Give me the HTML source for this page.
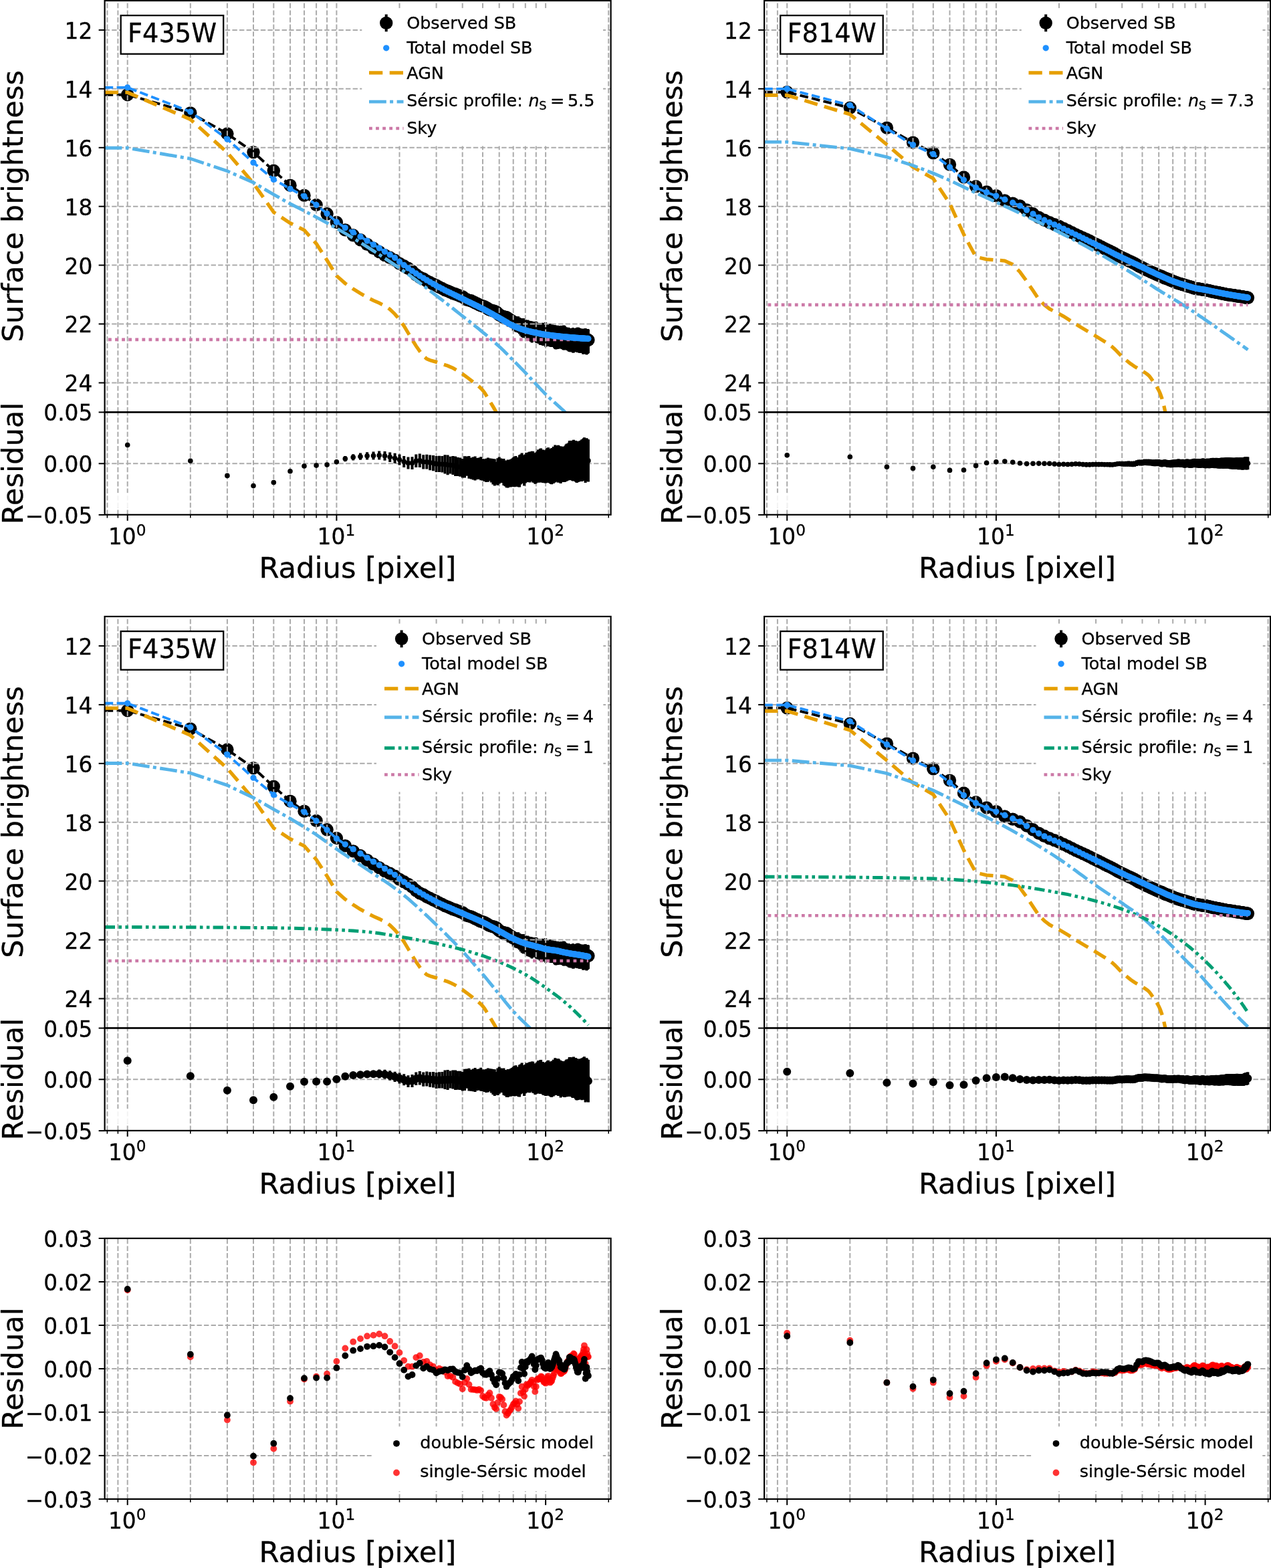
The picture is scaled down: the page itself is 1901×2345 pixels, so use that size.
<!DOCTYPE html>
<html><head><meta charset="utf-8"><title>Surface brightness profiles</title>
<style>html,body{margin:0;padding:0;background:#fff}svg{display:block}text{font-family:'DejaVu Sans','Liberation Sans',sans-serif;fill:#000;stroke:#000;stroke-width:0.3px}</style>
</head><body>
<svg width="1901" height="2345" viewBox="0 0 1901 2345">
<rect width="1901" height="2345" fill="#fff"/>
<clipPath id="c0_0"><rect x="156.6" y="1.0" width="757.0" height="615.5"/></clipPath>
<clipPath id="c0_0r"><rect x="156.6" y="616.4" width="757.0" height="153.4"/></clipPath>
<g clip-path="url(#c0_0)">
<polyline points="156.6,141.7 190.7,141.7 284.8,168.9 339.9,200.0 379.0,227.6 409.3,255.3 434.0,277.2 455.0,292.2 473.1,306.5 489.1,319.8 503.4,332.5 516.3,343.9 528.2,351.8 539.0,358.7 549.1,365.4 558.5,371.3 567.2,376.6 575.5,381.6 583.2,385.3 590.6,389.1 597.5,394.1 604.2,397.8 610.5,401.3 616.5,405.5 622.3,410.8 627.8,414.6 633.2,416.9 638.3,420.1 643.2,422.5 648.0,424.9 652.6,426.9 657.0,429.4 661.4,431.5 665.5,433.6 669.6,435.1 673.5,436.9 677.4,438.6 681.1,439.8 684.7,441.2 688.2,442.7 691.7,443.6 695.0,446.2 698.3,448.3 701.5,449.1 704.6,449.8 707.7,451.4 710.6,452.8 713.6,454.1 716.4,455.6 719.2,457.0 722.0,457.6 724.7,458.7 727.3,460.1 729.9,461.8 732.4,463.4 734.9,464.1 737.4,464.7 739.8,465.5 742.1,466.4 744.4,468.7 746.7,470.9 749.0,472.0 751.2,473.1 753.4,473.6 755.5,474.1 757.6,474.7 759.7,476.2 761.7,477.6 763.7,478.8 765.7,480.2 767.7,481.5 769.6,482.6 771.5,483.7 773.4,484.0 775.2,484.2 777.0,486.0 778.8,487.8 780.6,489.4 782.4,489.0 784.1,488.8 785.8,490.5 787.5,491.8 789.1,492.2 790.8,492.9 792.4,493.4 794.0,494.0 795.6,494.8 797.2,494.6 798.7,494.3 800.3,493.8 801.8,494.9 803.3,496.1 804.8,496.7 806.2,497.1 807.7,497.6 809.1,498.1 810.6,498.2 812.0,498.0 813.4,498.0 814.7,498.2 816.1,498.4 817.5,499.3 818.8,499.7 820.1,500.0 821.4,499.7 822.7,499.4 824.0,499.7 825.3,500.0 826.6,500.5 827.8,501.1 829.0,501.6 830.3,502.3 831.5,502.9 832.7,502.7 833.9,502.5 835.1,502.7 836.3,502.8 837.4,502.6 838.6,502.4 839.7,502.6 840.9,503.1 842.0,503.1 843.1,503.1 844.2,503.3 845.3,503.8 846.4,504.5 847.5,504.9 848.6,505.2 849.6,505.4 850.7,505.8 851.7,506.6 852.8,506.8 853.8,506.9 854.8,506.9 855.8,506.7 856.9,506.8 857.9,507.3 858.9,507.3 859.8,507.1 860.8,506.9 861.8,506.6 862.8,506.4 863.7,506.2 864.7,506.3 865.6,506.8 866.6,507.3 867.5,507.4 868.4,507.6 869.3,508.1 870.3,508.0 871.2,508.2 872.1,508.6 873.0,509.2 873.9,509.9 874.7,508.7 875.6,507.2 876.5,508.2 877.4,509.3 878.2,508.9 879.1,508.5 879.9,508.5" fill="none" stroke="#000" stroke-width="3.9" stroke-dasharray="12.6 5.4" />
<line x1="749.0" y1="462.9" x2="749.0" y2="483.3" stroke="#000" stroke-width="4"/>
<line x1="751.2" y1="464.5" x2="751.2" y2="483.7" stroke="#000" stroke-width="4"/>
<line x1="753.4" y1="465.4" x2="753.4" y2="483.8" stroke="#000" stroke-width="4"/>
<line x1="755.5" y1="465.1" x2="755.5" y2="485.2" stroke="#000" stroke-width="4"/>
<line x1="757.6" y1="465.6" x2="757.6" y2="485.9" stroke="#000" stroke-width="4"/>
<line x1="759.7" y1="466.4" x2="759.7" y2="488.4" stroke="#000" stroke-width="4"/>
<line x1="761.7" y1="469.0" x2="761.7" y2="488.2" stroke="#000" stroke-width="4"/>
<line x1="763.7" y1="469.8" x2="763.7" y2="490.0" stroke="#000" stroke-width="4"/>
<line x1="765.7" y1="471.4" x2="765.7" y2="491.0" stroke="#000" stroke-width="4"/>
<line x1="767.7" y1="471.0" x2="767.7" y2="494.6" stroke="#000" stroke-width="4"/>
<line x1="769.6" y1="472.1" x2="769.6" y2="495.5" stroke="#000" stroke-width="4"/>
<line x1="771.5" y1="473.3" x2="771.5" y2="496.5" stroke="#000" stroke-width="4"/>
<line x1="773.4" y1="473.5" x2="773.4" y2="497.1" stroke="#000" stroke-width="4"/>
<line x1="775.2" y1="473.3" x2="775.2" y2="497.7" stroke="#000" stroke-width="4"/>
<line x1="777.0" y1="475.0" x2="777.0" y2="499.5" stroke="#000" stroke-width="4"/>
<line x1="778.8" y1="476.2" x2="778.8" y2="502.1" stroke="#000" stroke-width="4"/>
<line x1="780.6" y1="477.7" x2="780.6" y2="503.9" stroke="#000" stroke-width="4"/>
<line x1="782.4" y1="475.9" x2="782.4" y2="505.2" stroke="#000" stroke-width="4"/>
<line x1="784.1" y1="476.1" x2="784.1" y2="504.5" stroke="#000" stroke-width="4"/>
<line x1="785.8" y1="478.2" x2="785.8" y2="505.6" stroke="#000" stroke-width="4"/>
<line x1="787.5" y1="479.3" x2="787.5" y2="507.3" stroke="#000" stroke-width="4"/>
<line x1="789.1" y1="478.5" x2="789.1" y2="509.1" stroke="#000" stroke-width="4"/>
<line x1="790.8" y1="479.5" x2="790.8" y2="509.4" stroke="#000" stroke-width="4"/>
<line x1="792.4" y1="480.0" x2="792.4" y2="509.9" stroke="#000" stroke-width="4"/>
<line x1="794.0" y1="480.3" x2="794.0" y2="511.0" stroke="#000" stroke-width="4"/>
<line x1="795.6" y1="480.4" x2="795.6" y2="512.5" stroke="#000" stroke-width="4"/>
<line x1="797.2" y1="481.8" x2="797.2" y2="510.4" stroke="#000" stroke-width="4"/>
<line x1="798.7" y1="481.0" x2="798.7" y2="510.6" stroke="#000" stroke-width="4"/>
<line x1="800.3" y1="481.0" x2="800.3" y2="509.5" stroke="#000" stroke-width="4"/>
<line x1="801.8" y1="480.7" x2="801.8" y2="512.4" stroke="#000" stroke-width="4"/>
<line x1="803.3" y1="482.4" x2="803.3" y2="513.1" stroke="#000" stroke-width="4"/>
<line x1="804.8" y1="483.0" x2="804.8" y2="513.6" stroke="#000" stroke-width="4"/>
<line x1="806.2" y1="483.4" x2="806.2" y2="514.1" stroke="#000" stroke-width="4"/>
<line x1="807.7" y1="482.9" x2="807.7" y2="515.8" stroke="#000" stroke-width="4"/>
<line x1="809.1" y1="483.8" x2="809.1" y2="515.8" stroke="#000" stroke-width="4"/>
<line x1="810.6" y1="484.0" x2="810.6" y2="515.7" stroke="#000" stroke-width="4"/>
<line x1="812.0" y1="482.7" x2="812.0" y2="517.0" stroke="#000" stroke-width="4"/>
<line x1="813.4" y1="483.9" x2="813.4" y2="515.4" stroke="#000" stroke-width="4"/>
<line x1="814.7" y1="484.2" x2="814.7" y2="515.5" stroke="#000" stroke-width="4"/>
<line x1="816.1" y1="482.0" x2="816.1" y2="518.7" stroke="#000" stroke-width="4"/>
<line x1="817.5" y1="484.6" x2="817.5" y2="517.4" stroke="#000" stroke-width="4"/>
<line x1="818.8" y1="485.0" x2="818.8" y2="517.7" stroke="#000" stroke-width="4"/>
<line x1="820.1" y1="485.5" x2="820.1" y2="517.9" stroke="#000" stroke-width="4"/>
<line x1="821.4" y1="484.8" x2="821.4" y2="518.1" stroke="#000" stroke-width="4"/>
<line x1="822.7" y1="483.9" x2="822.7" y2="518.5" stroke="#000" stroke-width="4"/>
<line x1="824.0" y1="484.2" x2="824.0" y2="518.8" stroke="#000" stroke-width="4"/>
<line x1="825.3" y1="484.6" x2="825.3" y2="519.0" stroke="#000" stroke-width="4"/>
<line x1="826.6" y1="485.6" x2="826.6" y2="519.0" stroke="#000" stroke-width="4"/>
<line x1="827.8" y1="486.8" x2="827.8" y2="518.6" stroke="#000" stroke-width="4"/>
<line x1="829.0" y1="486.3" x2="829.0" y2="520.5" stroke="#000" stroke-width="4"/>
<line x1="830.3" y1="486.2" x2="830.3" y2="522.1" stroke="#000" stroke-width="4"/>
<line x1="831.5" y1="487.1" x2="831.5" y2="522.4" stroke="#000" stroke-width="4"/>
<line x1="832.7" y1="487.6" x2="832.7" y2="521.3" stroke="#000" stroke-width="4"/>
<line x1="833.9" y1="486.8" x2="833.9" y2="521.9" stroke="#000" stroke-width="4"/>
<line x1="835.1" y1="487.7" x2="835.1" y2="521.3" stroke="#000" stroke-width="4"/>
<line x1="836.3" y1="487.6" x2="836.3" y2="521.6" stroke="#000" stroke-width="4"/>
<line x1="837.4" y1="488.1" x2="837.4" y2="520.6" stroke="#000" stroke-width="4"/>
<line x1="838.6" y1="487.2" x2="838.6" y2="521.1" stroke="#000" stroke-width="4"/>
<line x1="839.7" y1="487.1" x2="839.7" y2="521.6" stroke="#000" stroke-width="4"/>
<line x1="840.9" y1="487.8" x2="840.9" y2="521.9" stroke="#000" stroke-width="4"/>
<line x1="842.0" y1="487.3" x2="842.0" y2="522.7" stroke="#000" stroke-width="4"/>
<line x1="843.1" y1="486.5" x2="843.1" y2="523.5" stroke="#000" stroke-width="4"/>
<line x1="844.2" y1="487.0" x2="844.2" y2="523.3" stroke="#000" stroke-width="4"/>
<line x1="845.3" y1="488.5" x2="845.3" y2="522.6" stroke="#000" stroke-width="4"/>
<line x1="846.4" y1="489.4" x2="846.4" y2="523.1" stroke="#000" stroke-width="4"/>
<line x1="847.5" y1="489.8" x2="847.5" y2="523.6" stroke="#000" stroke-width="4"/>
<line x1="848.6" y1="490.3" x2="848.6" y2="523.7" stroke="#000" stroke-width="4"/>
<line x1="849.6" y1="489.8" x2="849.6" y2="524.6" stroke="#000" stroke-width="4"/>
<line x1="850.7" y1="490.0" x2="850.7" y2="525.4" stroke="#000" stroke-width="4"/>
<line x1="851.7" y1="490.9" x2="851.7" y2="526.0" stroke="#000" stroke-width="4"/>
<line x1="852.8" y1="491.1" x2="852.8" y2="526.2" stroke="#000" stroke-width="4"/>
<line x1="853.8" y1="491.1" x2="853.8" y2="526.3" stroke="#000" stroke-width="4"/>
<line x1="854.8" y1="491.3" x2="854.8" y2="526.1" stroke="#000" stroke-width="4"/>
<line x1="855.8" y1="491.5" x2="855.8" y2="525.5" stroke="#000" stroke-width="4"/>
<line x1="856.9" y1="490.1" x2="856.9" y2="527.5" stroke="#000" stroke-width="4"/>
<line x1="857.9" y1="491.0" x2="857.9" y2="527.5" stroke="#000" stroke-width="4"/>
<line x1="858.9" y1="492.1" x2="858.9" y2="526.1" stroke="#000" stroke-width="4"/>
<line x1="859.8" y1="491.9" x2="859.8" y2="525.9" stroke="#000" stroke-width="4"/>
<line x1="860.8" y1="491.5" x2="860.8" y2="526.0" stroke="#000" stroke-width="4"/>
<line x1="861.8" y1="490.8" x2="861.8" y2="526.1" stroke="#000" stroke-width="4"/>
<line x1="862.8" y1="489.9" x2="862.8" y2="526.9" stroke="#000" stroke-width="4"/>
<line x1="863.7" y1="489.7" x2="863.7" y2="526.5" stroke="#000" stroke-width="4"/>
<line x1="864.7" y1="489.8" x2="864.7" y2="526.6" stroke="#000" stroke-width="4"/>
<line x1="865.6" y1="490.3" x2="865.6" y2="527.2" stroke="#000" stroke-width="4"/>
<line x1="866.6" y1="490.7" x2="866.6" y2="527.7" stroke="#000" stroke-width="4"/>
<line x1="867.5" y1="491.0" x2="867.5" y2="527.5" stroke="#000" stroke-width="4"/>
<line x1="868.4" y1="491.5" x2="868.4" y2="527.6" stroke="#000" stroke-width="4"/>
<line x1="869.3" y1="492.2" x2="869.3" y2="527.7" stroke="#000" stroke-width="4"/>
<line x1="870.3" y1="493.1" x2="870.3" y2="526.4" stroke="#000" stroke-width="4"/>
<line x1="871.2" y1="492.3" x2="871.2" y2="527.8" stroke="#000" stroke-width="4"/>
<line x1="872.1" y1="491.6" x2="872.1" y2="529.7" stroke="#000" stroke-width="4"/>
<line x1="873.0" y1="493.5" x2="873.0" y2="528.6" stroke="#000" stroke-width="4"/>
<line x1="873.9" y1="494.3" x2="873.9" y2="529.3" stroke="#000" stroke-width="4"/>
<line x1="874.7" y1="492.0" x2="874.7" y2="529.2" stroke="#000" stroke-width="4"/>
<line x1="875.6" y1="491.1" x2="875.6" y2="527.1" stroke="#000" stroke-width="4"/>
<line x1="876.5" y1="492.4" x2="876.5" y2="527.7" stroke="#000" stroke-width="4"/>
<line x1="877.4" y1="492.3" x2="877.4" y2="530.4" stroke="#000" stroke-width="4"/>
<line x1="878.2" y1="492.4" x2="878.2" y2="529.2" stroke="#000" stroke-width="4"/>
<line x1="879.1" y1="491.9" x2="879.1" y2="529.0" stroke="#000" stroke-width="4"/>
<line x1="879.9" y1="492.7" x2="879.9" y2="528.1" stroke="#000" stroke-width="4"/>
<circle cx="190.7" cy="141.7" r="9.7"/>
<circle cx="284.8" cy="168.9" r="9.7"/>
<circle cx="339.9" cy="200.0" r="9.7"/>
<circle cx="379.0" cy="227.6" r="9.7"/>
<circle cx="409.3" cy="255.3" r="9.7"/>
<circle cx="434.0" cy="277.2" r="9.7"/>
<circle cx="455.0" cy="292.2" r="9.7"/>
<circle cx="473.1" cy="306.5" r="9.7"/>
<circle cx="489.1" cy="319.8" r="9.7"/>
<circle cx="503.4" cy="332.5" r="9.7"/>
<circle cx="516.3" cy="343.9" r="9.7"/>
<circle cx="528.2" cy="351.8" r="9.7"/>
<circle cx="539.0" cy="358.7" r="9.7"/>
<circle cx="549.1" cy="365.4" r="9.7"/>
<circle cx="558.5" cy="371.3" r="9.7"/>
<circle cx="567.2" cy="376.6" r="9.7"/>
<circle cx="575.5" cy="381.6" r="9.7"/>
<circle cx="583.2" cy="385.3" r="9.7"/>
<circle cx="590.6" cy="389.1" r="9.7"/>
<circle cx="597.5" cy="394.1" r="9.7"/>
<circle cx="604.2" cy="397.8" r="9.7"/>
<circle cx="610.5" cy="401.3" r="9.7"/>
<circle cx="616.5" cy="405.5" r="9.7"/>
<circle cx="622.3" cy="410.8" r="9.7"/>
<circle cx="627.8" cy="414.6" r="9.7"/>
<circle cx="633.2" cy="416.9" r="9.7"/>
<circle cx="638.3" cy="420.1" r="9.7"/>
<circle cx="643.2" cy="422.5" r="9.7"/>
<circle cx="648.0" cy="424.9" r="9.7"/>
<circle cx="652.6" cy="426.9" r="9.7"/>
<circle cx="657.0" cy="429.4" r="9.7"/>
<circle cx="661.4" cy="431.5" r="9.7"/>
<circle cx="665.5" cy="433.6" r="9.7"/>
<circle cx="669.6" cy="435.1" r="9.7"/>
<circle cx="673.5" cy="436.9" r="9.7"/>
<circle cx="677.4" cy="438.6" r="9.7"/>
<circle cx="681.1" cy="439.8" r="9.7"/>
<circle cx="684.7" cy="441.2" r="9.7"/>
<circle cx="688.2" cy="442.7" r="9.7"/>
<circle cx="691.7" cy="443.6" r="9.7"/>
<circle cx="695.0" cy="446.2" r="9.7"/>
<circle cx="698.3" cy="448.3" r="9.7"/>
<circle cx="701.5" cy="449.1" r="9.7"/>
<circle cx="704.6" cy="449.8" r="9.7"/>
<circle cx="707.7" cy="451.4" r="9.7"/>
<circle cx="710.6" cy="452.8" r="9.7"/>
<circle cx="713.6" cy="454.1" r="9.7"/>
<circle cx="716.4" cy="455.6" r="9.7"/>
<circle cx="719.2" cy="457.0" r="9.7"/>
<circle cx="722.0" cy="457.6" r="9.7"/>
<circle cx="724.7" cy="458.7" r="9.7"/>
<circle cx="727.3" cy="460.1" r="9.7"/>
<circle cx="729.9" cy="461.8" r="9.7"/>
<circle cx="732.4" cy="463.4" r="9.7"/>
<circle cx="734.9" cy="464.1" r="9.7"/>
<circle cx="737.4" cy="464.7" r="9.7"/>
<circle cx="739.8" cy="465.5" r="9.7"/>
<circle cx="742.1" cy="466.4" r="9.7"/>
<circle cx="744.4" cy="468.7" r="9.7"/>
<circle cx="746.7" cy="470.9" r="9.7"/>
<circle cx="749.0" cy="472.0" r="9.7"/>
<circle cx="751.2" cy="473.1" r="9.7"/>
<circle cx="753.4" cy="473.6" r="9.7"/>
<circle cx="755.5" cy="474.1" r="9.7"/>
<circle cx="757.6" cy="474.7" r="9.7"/>
<circle cx="759.7" cy="476.2" r="9.7"/>
<circle cx="761.7" cy="477.6" r="9.7"/>
<circle cx="763.7" cy="478.8" r="9.7"/>
<circle cx="765.7" cy="480.2" r="9.7"/>
<circle cx="767.7" cy="481.5" r="9.7"/>
<circle cx="769.6" cy="482.6" r="9.7"/>
<circle cx="771.5" cy="483.7" r="9.7"/>
<circle cx="773.4" cy="484.0" r="9.7"/>
<circle cx="775.2" cy="484.2" r="9.7"/>
<circle cx="777.0" cy="486.0" r="9.7"/>
<circle cx="778.8" cy="487.8" r="9.7"/>
<circle cx="780.6" cy="489.4" r="9.7"/>
<circle cx="782.4" cy="489.0" r="9.7"/>
<circle cx="784.1" cy="488.8" r="9.7"/>
<circle cx="785.8" cy="490.5" r="9.7"/>
<circle cx="787.5" cy="491.8" r="9.7"/>
<circle cx="789.1" cy="492.2" r="9.7"/>
<circle cx="790.8" cy="492.9" r="9.7"/>
<circle cx="792.4" cy="493.4" r="9.7"/>
<circle cx="794.0" cy="494.0" r="9.7"/>
<circle cx="795.6" cy="494.8" r="9.7"/>
<circle cx="797.2" cy="494.6" r="9.7"/>
<circle cx="798.7" cy="494.3" r="9.7"/>
<circle cx="800.3" cy="493.8" r="9.7"/>
<circle cx="801.8" cy="494.9" r="9.7"/>
<circle cx="803.3" cy="496.1" r="9.7"/>
<circle cx="804.8" cy="496.7" r="9.7"/>
<circle cx="806.2" cy="497.1" r="9.7"/>
<circle cx="807.7" cy="497.6" r="9.7"/>
<circle cx="809.1" cy="498.1" r="9.7"/>
<circle cx="810.6" cy="498.2" r="9.7"/>
<circle cx="812.0" cy="498.0" r="9.7"/>
<circle cx="813.4" cy="498.0" r="9.7"/>
<circle cx="814.7" cy="498.2" r="9.7"/>
<circle cx="816.1" cy="498.4" r="9.7"/>
<circle cx="817.5" cy="499.3" r="9.7"/>
<circle cx="818.8" cy="499.7" r="9.7"/>
<circle cx="820.1" cy="500.0" r="9.7"/>
<circle cx="821.4" cy="499.7" r="9.7"/>
<circle cx="822.7" cy="499.4" r="9.7"/>
<circle cx="824.0" cy="499.7" r="9.7"/>
<circle cx="825.3" cy="500.0" r="9.7"/>
<circle cx="826.6" cy="500.5" r="9.7"/>
<circle cx="827.8" cy="501.1" r="9.7"/>
<circle cx="829.0" cy="501.6" r="9.7"/>
<circle cx="830.3" cy="502.3" r="9.7"/>
<circle cx="831.5" cy="502.9" r="9.7"/>
<circle cx="832.7" cy="502.7" r="9.7"/>
<circle cx="833.9" cy="502.5" r="9.7"/>
<circle cx="835.1" cy="502.7" r="9.7"/>
<circle cx="836.3" cy="502.8" r="9.7"/>
<circle cx="837.4" cy="502.6" r="9.7"/>
<circle cx="838.6" cy="502.4" r="9.7"/>
<circle cx="839.7" cy="502.6" r="9.7"/>
<circle cx="840.9" cy="503.1" r="9.7"/>
<circle cx="842.0" cy="503.1" r="9.7"/>
<circle cx="843.1" cy="503.1" r="9.7"/>
<circle cx="844.2" cy="503.3" r="9.7"/>
<circle cx="845.3" cy="503.8" r="9.7"/>
<circle cx="846.4" cy="504.5" r="9.7"/>
<circle cx="847.5" cy="504.9" r="9.7"/>
<circle cx="848.6" cy="505.2" r="9.7"/>
<circle cx="849.6" cy="505.4" r="9.7"/>
<circle cx="850.7" cy="505.8" r="9.7"/>
<circle cx="851.7" cy="506.6" r="9.7"/>
<circle cx="852.8" cy="506.8" r="9.7"/>
<circle cx="853.8" cy="506.9" r="9.7"/>
<circle cx="854.8" cy="506.9" r="9.7"/>
<circle cx="855.8" cy="506.7" r="9.7"/>
<circle cx="856.9" cy="506.8" r="9.7"/>
<circle cx="857.9" cy="507.3" r="9.7"/>
<circle cx="858.9" cy="507.3" r="9.7"/>
<circle cx="859.8" cy="507.1" r="9.7"/>
<circle cx="860.8" cy="506.9" r="9.7"/>
<circle cx="861.8" cy="506.6" r="9.7"/>
<circle cx="862.8" cy="506.4" r="9.7"/>
<circle cx="863.7" cy="506.2" r="9.7"/>
<circle cx="864.7" cy="506.3" r="9.7"/>
<circle cx="865.6" cy="506.8" r="9.7"/>
<circle cx="866.6" cy="507.3" r="9.7"/>
<circle cx="867.5" cy="507.4" r="9.7"/>
<circle cx="868.4" cy="507.6" r="9.7"/>
<circle cx="869.3" cy="508.1" r="9.7"/>
<circle cx="870.3" cy="508.0" r="9.7"/>
<circle cx="871.2" cy="508.2" r="9.7"/>
<circle cx="872.1" cy="508.6" r="9.7"/>
<circle cx="873.0" cy="509.2" r="9.7"/>
<circle cx="873.9" cy="509.9" r="9.7"/>
<circle cx="874.7" cy="508.7" r="9.7"/>
<circle cx="875.6" cy="507.2" r="9.7"/>
<circle cx="876.5" cy="508.2" r="9.7"/>
<circle cx="877.4" cy="509.3" r="9.7"/>
<circle cx="878.2" cy="508.9" r="9.7"/>
<circle cx="879.1" cy="508.5" r="9.7"/>
<circle cx="879.9" cy="508.5" r="9.7"/>
</g>
<g stroke="#ababab" stroke-width="2" stroke-dasharray="7.4 3.2" fill="none">
<line x1="160.4" y1="616.4" x2="160.4" y2="1.0"/>
<line x1="176.4" y1="616.4" x2="176.4" y2="1.0"/>
<line x1="190.7" y1="616.4" x2="190.7" y2="1.0"/>
<line x1="284.8" y1="616.4" x2="284.8" y2="1.0"/>
<line x1="339.9" y1="616.4" x2="339.9" y2="1.0"/>
<line x1="379.0" y1="616.4" x2="379.0" y2="1.0"/>
<line x1="409.3" y1="616.4" x2="409.3" y2="1.0"/>
<line x1="434.0" y1="616.4" x2="434.0" y2="1.0"/>
<line x1="455.0" y1="616.4" x2="455.0" y2="1.0"/>
<line x1="473.1" y1="616.4" x2="473.1" y2="1.0"/>
<line x1="489.1" y1="616.4" x2="489.1" y2="1.0"/>
<line x1="503.4" y1="616.4" x2="503.4" y2="1.0"/>
<line x1="597.5" y1="616.4" x2="597.5" y2="1.0"/>
<line x1="652.6" y1="616.4" x2="652.6" y2="1.0"/>
<line x1="691.7" y1="616.4" x2="691.7" y2="1.0"/>
<line x1="722.0" y1="616.4" x2="722.0" y2="1.0"/>
<line x1="746.7" y1="616.4" x2="746.7" y2="1.0"/>
<line x1="767.7" y1="616.4" x2="767.7" y2="1.0"/>
<line x1="785.8" y1="616.4" x2="785.8" y2="1.0"/>
<line x1="801.8" y1="616.4" x2="801.8" y2="1.0"/>
<line x1="816.1" y1="616.4" x2="816.1" y2="1.0"/>
<line x1="910.2" y1="616.4" x2="910.2" y2="1.0"/>
<line x1="156.6" y1="44.9" x2="913.6" y2="44.9"/>
<line x1="156.6" y1="132.8" x2="913.6" y2="132.8"/>
<line x1="156.6" y1="220.8" x2="913.6" y2="220.8"/>
<line x1="156.6" y1="308.7" x2="913.6" y2="308.7"/>
<line x1="156.6" y1="396.6" x2="913.6" y2="396.6"/>
<line x1="156.6" y1="484.5" x2="913.6" y2="484.5"/>
<line x1="156.6" y1="572.5" x2="913.6" y2="572.5"/>
<line x1="160.4" y1="769.8" x2="160.4" y2="616.4"/>
<line x1="176.4" y1="769.8" x2="176.4" y2="616.4"/>
<line x1="190.7" y1="769.8" x2="190.7" y2="616.4"/>
<line x1="284.8" y1="769.8" x2="284.8" y2="616.4"/>
<line x1="339.9" y1="769.8" x2="339.9" y2="616.4"/>
<line x1="379.0" y1="769.8" x2="379.0" y2="616.4"/>
<line x1="409.3" y1="769.8" x2="409.3" y2="616.4"/>
<line x1="434.0" y1="769.8" x2="434.0" y2="616.4"/>
<line x1="455.0" y1="769.8" x2="455.0" y2="616.4"/>
<line x1="473.1" y1="769.8" x2="473.1" y2="616.4"/>
<line x1="489.1" y1="769.8" x2="489.1" y2="616.4"/>
<line x1="503.4" y1="769.8" x2="503.4" y2="616.4"/>
<line x1="597.5" y1="769.8" x2="597.5" y2="616.4"/>
<line x1="652.6" y1="769.8" x2="652.6" y2="616.4"/>
<line x1="691.7" y1="769.8" x2="691.7" y2="616.4"/>
<line x1="722.0" y1="769.8" x2="722.0" y2="616.4"/>
<line x1="746.7" y1="769.8" x2="746.7" y2="616.4"/>
<line x1="767.7" y1="769.8" x2="767.7" y2="616.4"/>
<line x1="785.8" y1="769.8" x2="785.8" y2="616.4"/>
<line x1="801.8" y1="769.8" x2="801.8" y2="616.4"/>
<line x1="816.1" y1="769.8" x2="816.1" y2="616.4"/>
<line x1="910.2" y1="769.8" x2="910.2" y2="616.4"/>
<line x1="156.6" y1="693.3" x2="913.6" y2="693.3"/>
</g>
<g clip-path="url(#c0_0)">
<polyline points="156.6,138.2 190.7,138.2 284.8,178.5 339.9,228.1 379.0,274.0 409.3,317.4 434.0,333.6 455.0,344.1 473.1,364.4 489.1,389.2 503.4,412.5 516.3,423.8 528.2,432.1 539.0,438.8 549.1,444.6 558.5,449.3 567.2,453.2 575.5,457.3 583.2,462.6 590.6,469.7 597.5,478.0 604.2,487.5 610.5,498.0 616.5,507.9 622.3,517.4 627.8,525.3 633.2,532.3 638.3,536.7 643.2,538.7 648.0,540.1 652.6,541.4 657.0,542.9 661.4,544.3 665.5,545.7 669.6,547.1 673.5,548.7 677.4,550.4 681.1,552.5 684.7,554.6 688.2,556.9 691.7,559.2 695.0,561.6 698.3,564.0 701.5,566.5 704.6,568.9 707.7,571.3 710.6,573.6 713.6,575.8 716.4,578.1 719.2,580.7 722.0,583.6 724.7,587.2 727.3,591.4 729.9,595.6 732.4,599.7 734.9,603.9 737.4,608.0 739.8,612.1 742.1,616.5 744.4,621.6 746.7,627.3 749.0,632.7 751.2,637.9 753.4,643.0 755.5,648.0 757.6,653.0 759.7,657.9 761.7,662.7 763.7,667.5 765.7,672.2 767.7,676.8 769.6,681.3 771.5,685.8 773.4,690.2 775.2,694.6 777.0,698.9 778.8,703.1 780.6,707.3 782.4,711.4 784.1,715.5 785.8,719.6 787.5,723.5 789.1,727.5 790.8,731.4 792.4,735.2 794.0,739.0 795.6,742.7 797.2,746.4 798.7,750.1 800.3,753.7 801.8,757.3 803.3,760.8 804.8,764.4 806.2,767.8 807.7,771.2 809.1,774.6 810.6,778.0 812.0,781.3 813.4,784.6 814.7,787.9 816.1,791.1 817.5,794.3 818.8,797.4 820.1,800.5 821.4,803.6 822.7,806.7 824.0,809.8 825.3,812.8 826.6,815.7 827.8,818.7 829.0,821.6 830.3,824.5 831.5,827.4 832.7,830.2 833.9,833.1 835.1,835.9 836.3,838.6 837.4,841.4 838.6,844.1 839.7,846.8 840.9,849.5 842.0,852.2 843.1,854.8 844.2,857.4 845.3,860.0 846.4,862.6 847.5,865.1 848.6,867.7 849.6,870.2 850.7,872.7 851.7,875.2 852.8,877.6 853.8,880.1 854.8,882.5 855.8,884.9 856.9,887.3 857.9,889.6 858.9,892.0 859.8,894.3 860.8,896.6 861.8,898.9 862.8,901.2 863.7,903.5 864.7,905.7 865.6,907.9 866.6,910.2 867.5,912.4 868.4,914.6 869.3,916.7 870.3,918.9 871.2,921.0 872.1,923.2 873.0,925.3 873.9,927.4 874.7,929.5 875.6,931.5 876.5,933.6 877.4,935.6 878.2,937.7 879.1,939.7 879.9,941.7" fill="none" stroke="#E69F00" stroke-width="5.3" stroke-dasharray="20.3 10.4" />
<polyline points="156.6,221.3 190.7,221.3 284.8,237.3 339.9,255.8 379.0,273.0 409.3,290.9 434.0,304.8 455.0,315.3 473.1,324.8 489.1,333.4 503.4,341.4 516.3,349.0 528.2,356.1 539.0,362.8 549.1,369.1 558.5,375.1 567.2,380.8 575.5,386.2 583.2,391.4 590.6,396.4 597.5,401.1 604.2,405.8 610.5,410.3 616.5,414.7 622.3,419.0 627.8,423.2 633.2,427.2 638.3,431.1 643.2,434.9 648.0,438.6 652.6,442.1 657.0,445.5 661.4,448.8 665.5,452.0 669.6,455.2 673.5,458.3 677.4,461.3 681.1,464.2 684.7,467.1 688.2,469.9 691.7,472.6 695.0,475.2 698.3,477.8 701.5,480.3 704.6,482.8 707.7,485.2 710.6,487.6 713.6,489.9 716.4,492.2 719.2,494.5 722.0,496.8 724.7,499.0 727.3,501.2 729.9,503.4 732.4,505.6 734.9,507.8 737.4,509.9 739.8,512.0 742.1,514.1 744.4,516.2 746.7,518.3 749.0,520.4 751.2,522.5 753.4,524.6 755.5,526.7 757.6,528.8 759.7,530.9 761.7,532.9 763.7,534.9 765.7,536.9 767.7,538.9 769.6,540.8 771.5,542.7 773.4,544.6 775.2,546.5 777.0,548.3 778.8,550.2 780.6,552.0 782.4,553.8 784.1,555.6 785.8,557.4 787.5,559.2 789.1,561.0 790.8,562.7 792.4,564.5 794.0,566.2 795.6,567.9 797.2,569.6 798.7,571.3 800.3,573.0 801.8,574.6 803.3,576.2 804.8,577.8 806.2,579.3 807.7,580.9 809.1,582.4 810.6,583.9 812.0,585.4 813.4,586.8 814.7,588.2 816.1,589.6 817.5,590.9 818.8,592.2 820.1,593.5 821.4,594.7 822.7,595.9 824.0,597.1 825.3,598.3 826.6,599.4 827.8,600.5 829.0,601.6 830.3,602.7 831.5,603.8 832.7,604.9 833.9,606.0 835.1,607.0 836.3,608.1 837.4,609.1 838.6,610.2 839.7,611.2 840.9,612.3 842.0,613.3 843.1,614.3 844.2,615.4 845.3,616.4 846.4,617.5 847.5,618.5 848.6,619.6 849.6,620.6 850.7,621.6 851.7,622.7 852.8,623.7 853.8,624.7 854.8,625.8 855.8,626.8 856.9,627.8 857.9,628.8 858.9,629.8 859.8,630.8 860.8,631.8 861.8,632.8 862.8,633.7 863.7,634.7 864.7,635.6 865.6,636.6 866.6,637.5 867.5,638.4 868.4,639.4 869.3,640.3 870.3,641.2 871.2,642.1 872.1,643.0 873.0,643.9 873.9,644.8 874.7,645.6 875.6,646.5 876.5,647.4 877.4,648.2 878.2,649.1 879.1,649.9 879.9,650.8" fill="none" stroke="#56B4E9" stroke-width="4.9" stroke-dasharray="25.8 5.3 5 5.5" />
<line x1="162.0" y1="507.9" x2="879.9" y2="507.9" stroke="#CC79A7" stroke-width="4.6" stroke-dasharray="4.8 5.28"/>
<polyline points="156.6,130.9 190.7,130.9 284.8,167.1 339.9,208.1 379.0,243.2 409.3,268.4 434.0,282.3 455.0,293.3 473.1,306.5 489.1,319.5 503.4,332.0 516.3,340.6 528.2,347.5 539.0,353.9 549.1,360.1 558.5,365.9 567.2,371.0 575.5,376.3 583.2,380.9 590.6,385.5 597.5,391.5 604.2,396.5 610.5,401.0 616.5,405.2 622.3,409.0 627.8,412.5 633.2,415.8 638.3,418.9 643.2,421.8 648.0,424.6 652.6,427.2 657.0,429.6 661.4,431.9 665.5,434.1 669.6,436.1 673.5,438.0 677.4,439.8 681.1,441.6 684.7,443.4 688.2,445.1 691.7,446.8 695.0,448.5 698.3,450.1 701.5,451.6 704.6,453.1 707.7,454.6 710.6,456.1 713.6,457.5 716.4,459.0 719.2,460.4 722.0,461.8 724.7,463.2 727.3,464.6 729.9,466.1 732.4,467.5 734.9,468.9 737.4,470.2 739.8,471.6 742.1,472.9 744.4,474.2 746.7,475.5 749.0,476.8 751.2,478.1 753.4,479.4 755.5,480.7 757.6,481.9 759.7,483.2 761.7,484.3 763.7,485.4 765.7,486.4 767.7,487.3 769.6,488.1 771.5,488.9 773.4,489.7 775.2,490.4 777.0,491.1 778.8,491.8 780.6,492.4 782.4,493.0 784.1,493.5 785.8,494.0 787.5,494.5 789.1,494.9 790.8,495.3 792.4,495.7 794.0,496.1 795.6,496.5 797.2,496.8 798.7,497.2 800.3,497.5 801.8,497.8 803.3,498.1 804.8,498.4 806.2,498.7 807.7,499.0 809.1,499.3 810.6,499.6 812.0,499.8 813.4,500.1 814.7,500.3 816.1,500.5 817.5,500.7 818.8,500.9 820.1,501.1 821.4,501.2 822.7,501.4 824.0,501.6 825.3,501.7 826.6,501.9 827.8,502.1 829.0,502.2 830.3,502.4 831.5,502.5 832.7,502.6 833.9,502.8 835.1,502.9 836.3,503.0 837.4,503.1 838.6,503.3 839.7,503.4 840.9,503.5 842.0,503.6 843.1,503.7 844.2,503.8 845.3,503.9 846.4,504.0 847.5,504.1 848.6,504.2 849.6,504.3 850.7,504.4 851.7,504.5 852.8,504.6 853.8,504.7 854.8,504.8 855.8,504.8 856.9,504.9 857.9,505.0 858.9,505.1 859.8,505.2 860.8,505.2 861.8,505.3 862.8,505.4 863.7,505.5 864.7,505.5 865.6,505.6 866.6,505.7 867.5,505.7 868.4,505.8 869.3,505.9 870.3,505.9 871.2,506.0 872.1,506.0 873.0,506.1 873.9,506.2 874.7,506.2 875.6,506.3 876.5,506.3 877.4,506.4 878.2,506.4 879.1,506.5 879.9,506.5" fill="none" stroke="#1E90FF" stroke-width="3.9" stroke-dasharray="12.6 5.4" />
<g fill="#1E90FF">
<circle cx="190.7" cy="130.9" r="4.65"/>
<circle cx="284.8" cy="167.1" r="4.65"/>
<circle cx="339.9" cy="208.1" r="4.65"/>
<circle cx="379.0" cy="243.2" r="4.65"/>
<circle cx="409.3" cy="268.4" r="4.65"/>
<circle cx="434.0" cy="282.3" r="4.65"/>
<circle cx="455.0" cy="293.3" r="4.65"/>
<circle cx="473.1" cy="306.5" r="4.65"/>
<circle cx="489.1" cy="319.5" r="4.65"/>
<circle cx="503.4" cy="332.0" r="4.65"/>
<circle cx="516.3" cy="340.6" r="4.65"/>
<circle cx="528.2" cy="347.5" r="4.65"/>
<circle cx="539.0" cy="353.9" r="4.65"/>
<circle cx="549.1" cy="360.1" r="4.65"/>
<circle cx="558.5" cy="365.9" r="4.65"/>
<circle cx="567.2" cy="371.0" r="4.65"/>
<circle cx="575.5" cy="376.3" r="4.65"/>
<circle cx="583.2" cy="380.9" r="4.65"/>
<circle cx="590.6" cy="385.5" r="4.65"/>
<circle cx="597.5" cy="391.5" r="4.65"/>
<circle cx="604.2" cy="396.5" r="4.65"/>
<circle cx="610.5" cy="401.0" r="4.65"/>
<circle cx="616.5" cy="405.2" r="4.65"/>
<circle cx="622.3" cy="409.0" r="4.65"/>
<circle cx="627.8" cy="412.5" r="4.65"/>
<circle cx="633.2" cy="415.8" r="4.65"/>
<circle cx="638.3" cy="418.9" r="4.65"/>
<circle cx="643.2" cy="421.8" r="4.65"/>
<circle cx="648.0" cy="424.6" r="4.65"/>
<circle cx="652.6" cy="427.2" r="4.65"/>
<circle cx="657.0" cy="429.6" r="4.65"/>
<circle cx="661.4" cy="431.9" r="4.65"/>
<circle cx="665.5" cy="434.1" r="4.65"/>
<circle cx="669.6" cy="436.1" r="4.65"/>
<circle cx="673.5" cy="438.0" r="4.65"/>
<circle cx="677.4" cy="439.8" r="4.65"/>
<circle cx="681.1" cy="441.6" r="4.65"/>
<circle cx="684.7" cy="443.4" r="4.65"/>
<circle cx="688.2" cy="445.1" r="4.65"/>
<circle cx="691.7" cy="446.8" r="4.65"/>
<circle cx="695.0" cy="448.5" r="4.65"/>
<circle cx="698.3" cy="450.1" r="4.65"/>
<circle cx="701.5" cy="451.6" r="4.65"/>
<circle cx="704.6" cy="453.1" r="4.65"/>
<circle cx="707.7" cy="454.6" r="4.65"/>
<circle cx="710.6" cy="456.1" r="4.65"/>
<circle cx="713.6" cy="457.5" r="4.65"/>
<circle cx="716.4" cy="459.0" r="4.65"/>
<circle cx="719.2" cy="460.4" r="4.65"/>
<circle cx="722.0" cy="461.8" r="4.65"/>
<circle cx="724.7" cy="463.2" r="4.65"/>
<circle cx="727.3" cy="464.6" r="4.65"/>
<circle cx="729.9" cy="466.1" r="4.65"/>
<circle cx="732.4" cy="467.5" r="4.65"/>
<circle cx="734.9" cy="468.9" r="4.65"/>
<circle cx="737.4" cy="470.2" r="4.65"/>
<circle cx="739.8" cy="471.6" r="4.65"/>
<circle cx="742.1" cy="472.9" r="4.65"/>
<circle cx="744.4" cy="474.2" r="4.65"/>
<circle cx="746.7" cy="475.5" r="4.65"/>
<circle cx="749.0" cy="476.8" r="4.65"/>
<circle cx="751.2" cy="478.1" r="4.65"/>
<circle cx="753.4" cy="479.4" r="4.65"/>
<circle cx="755.5" cy="480.7" r="4.65"/>
<circle cx="757.6" cy="481.9" r="4.65"/>
<circle cx="759.7" cy="483.2" r="4.65"/>
<circle cx="761.7" cy="484.3" r="4.65"/>
<circle cx="763.7" cy="485.4" r="4.65"/>
<circle cx="765.7" cy="486.4" r="4.65"/>
<circle cx="767.7" cy="487.3" r="4.65"/>
<circle cx="769.6" cy="488.1" r="4.65"/>
<circle cx="771.5" cy="488.9" r="4.65"/>
<circle cx="773.4" cy="489.7" r="4.65"/>
<circle cx="775.2" cy="490.4" r="4.65"/>
<circle cx="777.0" cy="491.1" r="4.65"/>
<circle cx="778.8" cy="491.8" r="4.65"/>
<circle cx="780.6" cy="492.4" r="4.65"/>
<circle cx="782.4" cy="493.0" r="4.65"/>
<circle cx="784.1" cy="493.5" r="4.65"/>
<circle cx="785.8" cy="494.0" r="4.65"/>
<circle cx="787.5" cy="494.5" r="4.65"/>
<circle cx="789.1" cy="494.9" r="4.65"/>
<circle cx="790.8" cy="495.3" r="4.65"/>
<circle cx="792.4" cy="495.7" r="4.65"/>
<circle cx="794.0" cy="496.1" r="4.65"/>
<circle cx="795.6" cy="496.5" r="4.65"/>
<circle cx="797.2" cy="496.8" r="4.65"/>
<circle cx="798.7" cy="497.2" r="4.65"/>
<circle cx="800.3" cy="497.5" r="4.65"/>
<circle cx="801.8" cy="497.8" r="4.65"/>
<circle cx="803.3" cy="498.1" r="4.65"/>
<circle cx="804.8" cy="498.4" r="4.65"/>
<circle cx="806.2" cy="498.7" r="4.65"/>
<circle cx="807.7" cy="499.0" r="4.65"/>
<circle cx="809.1" cy="499.3" r="4.65"/>
<circle cx="810.6" cy="499.6" r="4.65"/>
<circle cx="812.0" cy="499.8" r="4.65"/>
<circle cx="813.4" cy="500.1" r="4.65"/>
<circle cx="814.7" cy="500.3" r="4.65"/>
<circle cx="816.1" cy="500.5" r="4.65"/>
<circle cx="817.5" cy="500.7" r="4.65"/>
<circle cx="818.8" cy="500.9" r="4.65"/>
<circle cx="820.1" cy="501.1" r="4.65"/>
<circle cx="821.4" cy="501.2" r="4.65"/>
<circle cx="822.7" cy="501.4" r="4.65"/>
<circle cx="824.0" cy="501.6" r="4.65"/>
<circle cx="825.3" cy="501.7" r="4.65"/>
<circle cx="826.6" cy="501.9" r="4.65"/>
<circle cx="827.8" cy="502.1" r="4.65"/>
<circle cx="829.0" cy="502.2" r="4.65"/>
<circle cx="830.3" cy="502.4" r="4.65"/>
<circle cx="831.5" cy="502.5" r="4.65"/>
<circle cx="832.7" cy="502.6" r="4.65"/>
<circle cx="833.9" cy="502.8" r="4.65"/>
<circle cx="835.1" cy="502.9" r="4.65"/>
<circle cx="836.3" cy="503.0" r="4.65"/>
<circle cx="837.4" cy="503.1" r="4.65"/>
<circle cx="838.6" cy="503.3" r="4.65"/>
<circle cx="839.7" cy="503.4" r="4.65"/>
<circle cx="840.9" cy="503.5" r="4.65"/>
<circle cx="842.0" cy="503.6" r="4.65"/>
<circle cx="843.1" cy="503.7" r="4.65"/>
<circle cx="844.2" cy="503.8" r="4.65"/>
<circle cx="845.3" cy="503.9" r="4.65"/>
<circle cx="846.4" cy="504.0" r="4.65"/>
<circle cx="847.5" cy="504.1" r="4.65"/>
<circle cx="848.6" cy="504.2" r="4.65"/>
<circle cx="849.6" cy="504.3" r="4.65"/>
<circle cx="850.7" cy="504.4" r="4.65"/>
<circle cx="851.7" cy="504.5" r="4.65"/>
<circle cx="852.8" cy="504.6" r="4.65"/>
<circle cx="853.8" cy="504.7" r="4.65"/>
<circle cx="854.8" cy="504.8" r="4.65"/>
<circle cx="855.8" cy="504.8" r="4.65"/>
<circle cx="856.9" cy="504.9" r="4.65"/>
<circle cx="857.9" cy="505.0" r="4.65"/>
<circle cx="858.9" cy="505.1" r="4.65"/>
<circle cx="859.8" cy="505.2" r="4.65"/>
<circle cx="860.8" cy="505.2" r="4.65"/>
<circle cx="861.8" cy="505.3" r="4.65"/>
<circle cx="862.8" cy="505.4" r="4.65"/>
<circle cx="863.7" cy="505.5" r="4.65"/>
<circle cx="864.7" cy="505.5" r="4.65"/>
<circle cx="865.6" cy="505.6" r="4.65"/>
<circle cx="866.6" cy="505.7" r="4.65"/>
<circle cx="867.5" cy="505.7" r="4.65"/>
<circle cx="868.4" cy="505.8" r="4.65"/>
<circle cx="869.3" cy="505.9" r="4.65"/>
<circle cx="870.3" cy="505.9" r="4.65"/>
<circle cx="871.2" cy="506.0" r="4.65"/>
<circle cx="872.1" cy="506.0" r="4.65"/>
<circle cx="873.0" cy="506.1" r="4.65"/>
<circle cx="873.9" cy="506.2" r="4.65"/>
<circle cx="874.7" cy="506.2" r="4.65"/>
<circle cx="875.6" cy="506.3" r="4.65"/>
<circle cx="876.5" cy="506.3" r="4.65"/>
<circle cx="877.4" cy="506.4" r="4.65"/>
<circle cx="878.2" cy="506.4" r="4.65"/>
<circle cx="879.1" cy="506.5" r="4.65"/>
<circle cx="879.9" cy="506.5" r="4.65"/>
</g></g>
<g clip-path="url(#c0_0r)">
<circle cx="190.7" cy="665.5" r="3.8"/>
<circle cx="284.8" cy="689.2" r="3.8"/>
<circle cx="339.9" cy="711.4" r="3.8"/>
<circle cx="379.0" cy="726.5" r="3.8"/>
<circle cx="409.3" cy="721.5" r="3.8"/>
<circle cx="434.0" cy="704.8" r="3.8"/>
<circle cx="455.0" cy="697.0" r="3.8"/>
<circle cx="473.1" cy="696.1" r="3.8"/>
<circle cx="489.1" cy="695.1" r="3.8"/>
<circle cx="503.4" cy="690.7" r="3.8"/>
<line x1="516.3" y1="682.0" x2="516.3" y2="690.2" stroke="#000" stroke-width="4"/>
<circle cx="516.3" cy="686.1" r="3.8"/>
<line x1="528.2" y1="679.2" x2="528.2" y2="688.4" stroke="#000" stroke-width="4"/>
<circle cx="528.2" cy="683.8" r="3.8"/>
<line x1="539.0" y1="677.6" x2="539.0" y2="687.8" stroke="#000" stroke-width="4"/>
<circle cx="539.0" cy="682.7" r="3.8"/>
<line x1="549.1" y1="676.2" x2="549.1" y2="687.4" stroke="#000" stroke-width="4"/>
<circle cx="549.1" cy="681.8" r="3.8"/>
<line x1="558.5" y1="675.5" x2="558.5" y2="687.5" stroke="#000" stroke-width="4"/>
<circle cx="558.5" cy="681.5" r="3.8"/>
<line x1="567.2" y1="674.6" x2="567.2" y2="687.5" stroke="#000" stroke-width="4"/>
<circle cx="567.2" cy="681.0" r="3.8"/>
<line x1="575.5" y1="674.9" x2="575.5" y2="688.7" stroke="#000" stroke-width="4"/>
<circle cx="575.5" cy="681.8" r="3.8"/>
<line x1="583.2" y1="676.4" x2="583.2" y2="690.9" stroke="#000" stroke-width="4"/>
<circle cx="583.2" cy="683.6" r="3.8"/>
<line x1="590.6" y1="677.7" x2="590.6" y2="693.0" stroke="#000" stroke-width="4"/>
<circle cx="590.6" cy="685.3" r="3.8"/>
<line x1="597.5" y1="679.6" x2="597.5" y2="695.6" stroke="#000" stroke-width="4"/>
<circle cx="597.5" cy="687.6" r="3.8"/>
<line x1="604.2" y1="681.9" x2="604.2" y2="698.9" stroke="#000" stroke-width="4"/>
<circle cx="604.2" cy="690.4" r="3.8"/>
<line x1="610.5" y1="683.6" x2="610.5" y2="701.5" stroke="#000" stroke-width="4"/>
<circle cx="610.5" cy="692.5" r="3.8"/>
<line x1="616.5" y1="683.2" x2="616.5" y2="701.9" stroke="#000" stroke-width="4"/>
<circle cx="616.5" cy="692.5" r="3.8"/>
<line x1="622.3" y1="679.5" x2="622.3" y2="699.1" stroke="#000" stroke-width="4"/>
<circle cx="622.3" cy="689.3" r="3.8"/>
<line x1="627.8" y1="678.5" x2="627.8" y2="698.9" stroke="#000" stroke-width="4"/>
<circle cx="627.8" cy="688.7" r="3.8"/>
<line x1="633.2" y1="680.3" x2="633.2" y2="701.5" stroke="#000" stroke-width="4"/>
<circle cx="633.2" cy="690.9" r="3.8"/>
<line x1="638.3" y1="679.7" x2="638.3" y2="701.6" stroke="#000" stroke-width="4"/>
<circle cx="638.3" cy="690.7" r="3.8"/>
<line x1="643.2" y1="680.6" x2="643.2" y2="703.2" stroke="#000" stroke-width="4"/>
<circle cx="643.2" cy="691.9" r="3.8"/>
<line x1="648.0" y1="680.9" x2="648.0" y2="704.2" stroke="#000" stroke-width="4"/>
<circle cx="648.0" cy="692.5" r="3.8"/>
<line x1="652.6" y1="681.9" x2="652.6" y2="705.9" stroke="#000" stroke-width="4"/>
<circle cx="652.6" cy="693.9" r="3.8"/>
<line x1="657.0" y1="681.7" x2="657.0" y2="706.0" stroke="#000" stroke-width="4"/>
<circle cx="657.0" cy="693.8" r="3.8"/>
<line x1="661.4" y1="682.1" x2="661.4" y2="706.5" stroke="#000" stroke-width="4"/>
<circle cx="661.4" cy="694.3" r="3.8"/>
<line x1="665.5" y1="680.2" x2="665.5" y2="708.6" stroke="#000" stroke-width="4"/>
<circle cx="665.5" cy="694.4" r="3.8"/>
<line x1="669.6" y1="680.4" x2="669.6" y2="710.3" stroke="#000" stroke-width="4"/>
<circle cx="669.6" cy="695.3" r="3.8"/>
<line x1="673.5" y1="682.7" x2="673.5" y2="708.5" stroke="#000" stroke-width="4"/>
<circle cx="673.5" cy="695.6" r="3.8"/>
<line x1="677.4" y1="682.1" x2="677.4" y2="710.0" stroke="#000" stroke-width="4"/>
<circle cx="677.4" cy="696.0" r="3.8"/>
<line x1="681.1" y1="682.6" x2="681.1" y2="712.1" stroke="#000" stroke-width="4"/>
<circle cx="681.1" cy="697.3" r="3.8"/>
<line x1="684.7" y1="684.1" x2="684.7" y2="712.0" stroke="#000" stroke-width="4"/>
<circle cx="684.7" cy="698.1" r="3.8"/>
<line x1="688.2" y1="684.5" x2="688.2" y2="712.7" stroke="#000" stroke-width="4"/>
<circle cx="688.2" cy="698.6" r="3.8"/>
<line x1="691.7" y1="686.0" x2="691.7" y2="714.6" stroke="#000" stroke-width="4"/>
<circle cx="691.7" cy="700.3" r="3.8"/>
<line x1="695.0" y1="682.2" x2="695.0" y2="714.4" stroke="#000" stroke-width="4"/>
<circle cx="695.0" cy="698.3" r="3.8"/>
<line x1="698.3" y1="682.5" x2="698.3" y2="711.7" stroke="#000" stroke-width="4"/>
<circle cx="698.3" cy="697.1" r="3.8"/>
<line x1="701.5" y1="682.0" x2="701.5" y2="715.8" stroke="#000" stroke-width="4"/>
<circle cx="701.5" cy="698.9" r="3.8"/>
<line x1="704.6" y1="684.5" x2="704.6" y2="716.5" stroke="#000" stroke-width="4"/>
<circle cx="704.6" cy="700.5" r="3.8"/>
<line x1="707.7" y1="683.5" x2="707.7" y2="717.4" stroke="#000" stroke-width="4"/>
<circle cx="707.7" cy="700.4" r="3.8"/>
<line x1="710.6" y1="682.5" x2="710.6" y2="718.4" stroke="#000" stroke-width="4"/>
<circle cx="710.6" cy="700.4" r="3.8"/>
<line x1="713.6" y1="684.9" x2="713.6" y2="716.9" stroke="#000" stroke-width="4"/>
<circle cx="713.6" cy="700.9" r="3.8"/>
<line x1="716.4" y1="684.6" x2="716.4" y2="716.7" stroke="#000" stroke-width="4"/>
<circle cx="716.4" cy="700.7" r="3.8"/>
<line x1="719.2" y1="683.2" x2="719.2" y2="718.2" stroke="#000" stroke-width="4"/>
<circle cx="719.2" cy="700.7" r="3.8"/>
<line x1="722.0" y1="686.2" x2="722.0" y2="718.7" stroke="#000" stroke-width="4"/>
<circle cx="722.0" cy="702.5" r="3.8"/>
<line x1="724.7" y1="686.4" x2="724.7" y2="719.9" stroke="#000" stroke-width="4"/>
<circle cx="724.7" cy="703.2" r="3.8"/>
<line x1="727.3" y1="685.8" x2="727.3" y2="720.9" stroke="#000" stroke-width="4"/>
<circle cx="727.3" cy="703.4" r="3.8"/>
<line x1="729.9" y1="684.6" x2="729.9" y2="720.7" stroke="#000" stroke-width="4"/>
<circle cx="729.9" cy="702.6" r="3.8"/>
<line x1="732.4" y1="685.5" x2="732.4" y2="719.1" stroke="#000" stroke-width="4"/>
<circle cx="732.4" cy="702.3" r="3.8"/>
<line x1="734.9" y1="685.8" x2="734.9" y2="721.6" stroke="#000" stroke-width="4"/>
<circle cx="734.9" cy="703.7" r="3.8"/>
<line x1="737.4" y1="686.3" x2="737.4" y2="724.4" stroke="#000" stroke-width="4"/>
<circle cx="737.4" cy="705.3" r="3.8"/>
<line x1="739.8" y1="686.6" x2="739.8" y2="726.6" stroke="#000" stroke-width="4"/>
<circle cx="739.8" cy="706.6" r="3.8"/>
<line x1="742.1" y1="690.7" x2="742.1" y2="724.4" stroke="#000" stroke-width="4"/>
<circle cx="742.1" cy="707.6" r="3.8"/>
<line x1="744.4" y1="685.2" x2="744.4" y2="725.8" stroke="#000" stroke-width="4"/>
<circle cx="744.4" cy="705.5" r="3.8"/>
<line x1="746.7" y1="683.4" x2="746.7" y2="723.5" stroke="#000" stroke-width="4"/>
<circle cx="746.7" cy="703.5" r="3.8"/>
<line x1="749.0" y1="685.5" x2="749.0" y2="722.0" stroke="#000" stroke-width="4"/>
<circle cx="749.0" cy="703.7" r="3.8"/>
<line x1="751.2" y1="686.1" x2="751.2" y2="722.2" stroke="#000" stroke-width="4"/>
<circle cx="751.2" cy="704.2" r="3.8"/>
<line x1="753.4" y1="685.9" x2="753.4" y2="726.0" stroke="#000" stroke-width="4"/>
<circle cx="753.4" cy="706.0" r="3.8"/>
<line x1="755.5" y1="688.4" x2="755.5" y2="727.2" stroke="#000" stroke-width="4"/>
<circle cx="755.5" cy="707.8" r="3.8"/>
<line x1="757.6" y1="689.0" x2="757.6" y2="729.3" stroke="#000" stroke-width="4"/>
<circle cx="757.6" cy="709.1" r="3.8"/>
<line x1="759.7" y1="687.5" x2="759.7" y2="729.5" stroke="#000" stroke-width="4"/>
<circle cx="759.7" cy="708.5" r="3.8"/>
<line x1="761.7" y1="688.1" x2="761.7" y2="728.0" stroke="#000" stroke-width="4"/>
<circle cx="761.7" cy="708.1" r="3.8"/>
<line x1="763.7" y1="687.1" x2="763.7" y2="728.4" stroke="#000" stroke-width="4"/>
<circle cx="763.7" cy="707.7" r="3.8"/>
<line x1="765.7" y1="685.8" x2="765.7" y2="728.1" stroke="#000" stroke-width="4"/>
<circle cx="765.7" cy="706.9" r="3.8"/>
<line x1="767.7" y1="684.2" x2="767.7" y2="727.7" stroke="#000" stroke-width="4"/>
<circle cx="767.7" cy="705.9" r="3.8"/>
<line x1="769.6" y1="682.8" x2="769.6" y2="728.3" stroke="#000" stroke-width="4"/>
<circle cx="769.6" cy="705.5" r="3.8"/>
<line x1="771.5" y1="682.0" x2="771.5" y2="727.7" stroke="#000" stroke-width="4"/>
<circle cx="771.5" cy="704.9" r="3.8"/>
<line x1="773.4" y1="684.1" x2="773.4" y2="727.3" stroke="#000" stroke-width="4"/>
<circle cx="773.4" cy="705.7" r="3.8"/>
<line x1="775.2" y1="685.7" x2="775.2" y2="728.2" stroke="#000" stroke-width="4"/>
<circle cx="775.2" cy="706.9" r="3.8"/>
<line x1="777.0" y1="680.6" x2="777.0" y2="728.6" stroke="#000" stroke-width="4"/>
<circle cx="777.0" cy="704.6" r="3.8"/>
<line x1="778.8" y1="679.5" x2="778.8" y2="724.4" stroke="#000" stroke-width="4"/>
<circle cx="778.8" cy="702.0" r="3.8"/>
<line x1="780.6" y1="677.4" x2="780.6" y2="722.2" stroke="#000" stroke-width="4"/>
<circle cx="780.6" cy="699.8" r="3.8"/>
<line x1="782.4" y1="680.9" x2="782.4" y2="722.9" stroke="#000" stroke-width="4"/>
<circle cx="782.4" cy="701.9" r="3.8"/>
<line x1="784.1" y1="680.5" x2="784.1" y2="726.6" stroke="#000" stroke-width="4"/>
<circle cx="784.1" cy="703.6" r="3.8"/>
<line x1="785.8" y1="679.4" x2="785.8" y2="722.6" stroke="#000" stroke-width="4"/>
<circle cx="785.8" cy="701.0" r="3.8"/>
<line x1="787.5" y1="677.0" x2="787.5" y2="721.2" stroke="#000" stroke-width="4"/>
<circle cx="787.5" cy="699.1" r="3.8"/>
<line x1="789.1" y1="677.9" x2="789.1" y2="720.7" stroke="#000" stroke-width="4"/>
<circle cx="789.1" cy="699.3" r="3.8"/>
<line x1="790.8" y1="676.3" x2="790.8" y2="721.0" stroke="#000" stroke-width="4"/>
<circle cx="790.8" cy="698.7" r="3.8"/>
<line x1="792.4" y1="675.4" x2="792.4" y2="721.5" stroke="#000" stroke-width="4"/>
<circle cx="792.4" cy="698.5" r="3.8"/>
<line x1="794.0" y1="676.3" x2="794.0" y2="719.5" stroke="#000" stroke-width="4"/>
<circle cx="794.0" cy="697.9" r="3.8"/>
<line x1="795.6" y1="674.7" x2="795.6" y2="719.4" stroke="#000" stroke-width="4"/>
<circle cx="795.6" cy="697.1" r="3.8"/>
<line x1="797.2" y1="674.9" x2="797.2" y2="721.5" stroke="#000" stroke-width="4"/>
<circle cx="797.2" cy="698.2" r="3.8"/>
<line x1="798.7" y1="677.4" x2="798.7" y2="721.9" stroke="#000" stroke-width="4"/>
<circle cx="798.7" cy="699.7" r="3.8"/>
<line x1="800.3" y1="679.0" x2="800.3" y2="723.8" stroke="#000" stroke-width="4"/>
<circle cx="800.3" cy="701.4" r="3.8"/>
<line x1="801.8" y1="676.8" x2="801.8" y2="722.7" stroke="#000" stroke-width="4"/>
<circle cx="801.8" cy="699.7" r="3.8"/>
<line x1="803.3" y1="675.1" x2="803.3" y2="720.1" stroke="#000" stroke-width="4"/>
<circle cx="803.3" cy="697.6" r="3.8"/>
<line x1="804.8" y1="672.5" x2="804.8" y2="721.8" stroke="#000" stroke-width="4"/>
<circle cx="804.8" cy="697.1" r="3.8"/>
<line x1="806.2" y1="673.6" x2="806.2" y2="719.9" stroke="#000" stroke-width="4"/>
<circle cx="806.2" cy="696.8" r="3.8"/>
<line x1="807.7" y1="671.3" x2="807.7" y2="721.4" stroke="#000" stroke-width="4"/>
<circle cx="807.7" cy="696.3" r="3.8"/>
<line x1="809.1" y1="670.6" x2="809.1" y2="721.2" stroke="#000" stroke-width="4"/>
<circle cx="809.1" cy="695.9" r="3.8"/>
<line x1="810.6" y1="673.0" x2="810.6" y2="719.7" stroke="#000" stroke-width="4"/>
<circle cx="810.6" cy="696.3" r="3.8"/>
<line x1="812.0" y1="672.5" x2="812.0" y2="721.9" stroke="#000" stroke-width="4"/>
<circle cx="812.0" cy="697.2" r="3.8"/>
<line x1="813.4" y1="673.6" x2="813.4" y2="722.2" stroke="#000" stroke-width="4"/>
<circle cx="813.4" cy="697.9" r="3.8"/>
<line x1="814.7" y1="674.1" x2="814.7" y2="721.6" stroke="#000" stroke-width="4"/>
<circle cx="814.7" cy="697.8" r="3.8"/>
<line x1="816.1" y1="673.2" x2="816.1" y2="722.5" stroke="#000" stroke-width="4"/>
<circle cx="816.1" cy="697.8" r="3.8"/>
<line x1="817.5" y1="671.6" x2="817.5" y2="721.3" stroke="#000" stroke-width="4"/>
<circle cx="817.5" cy="696.4" r="3.8"/>
<line x1="818.8" y1="670.0" x2="818.8" y2="722.0" stroke="#000" stroke-width="4"/>
<circle cx="818.8" cy="696.0" r="3.8"/>
<line x1="820.1" y1="669.3" x2="820.1" y2="722.1" stroke="#000" stroke-width="4"/>
<circle cx="820.1" cy="695.7" r="3.8"/>
<line x1="821.4" y1="672.4" x2="821.4" y2="721.2" stroke="#000" stroke-width="4"/>
<circle cx="821.4" cy="696.8" r="3.8"/>
<line x1="822.7" y1="672.6" x2="822.7" y2="723.0" stroke="#000" stroke-width="4"/>
<circle cx="822.7" cy="697.8" r="3.8"/>
<line x1="824.0" y1="671.3" x2="824.0" y2="723.8" stroke="#000" stroke-width="4"/>
<circle cx="824.0" cy="697.5" r="3.8"/>
<line x1="825.3" y1="670.1" x2="825.3" y2="724.2" stroke="#000" stroke-width="4"/>
<circle cx="825.3" cy="697.2" r="3.8"/>
<line x1="826.6" y1="672.8" x2="826.6" y2="719.9" stroke="#000" stroke-width="4"/>
<circle cx="826.6" cy="696.3" r="3.8"/>
<line x1="827.8" y1="668.1" x2="827.8" y2="722.9" stroke="#000" stroke-width="4"/>
<circle cx="827.8" cy="695.5" r="3.8"/>
<line x1="829.0" y1="668.5" x2="829.0" y2="720.6" stroke="#000" stroke-width="4"/>
<circle cx="829.0" cy="694.6" r="3.8"/>
<line x1="830.3" y1="665.6" x2="830.3" y2="721.4" stroke="#000" stroke-width="4"/>
<circle cx="830.3" cy="693.5" r="3.8"/>
<line x1="831.5" y1="666.4" x2="831.5" y2="718.5" stroke="#000" stroke-width="4"/>
<circle cx="831.5" cy="692.4" r="3.8"/>
<line x1="832.7" y1="667.5" x2="832.7" y2="718.9" stroke="#000" stroke-width="4"/>
<circle cx="832.7" cy="693.2" r="3.8"/>
<line x1="833.9" y1="667.2" x2="833.9" y2="720.6" stroke="#000" stroke-width="4"/>
<circle cx="833.9" cy="693.9" r="3.8"/>
<line x1="835.1" y1="665.8" x2="835.1" y2="721.7" stroke="#000" stroke-width="4"/>
<circle cx="835.1" cy="693.7" r="3.8"/>
<line x1="836.3" y1="666.9" x2="836.3" y2="720.7" stroke="#000" stroke-width="4"/>
<circle cx="836.3" cy="693.8" r="3.8"/>
<line x1="837.4" y1="669.8" x2="837.4" y2="719.1" stroke="#000" stroke-width="4"/>
<circle cx="837.4" cy="694.4" r="3.8"/>
<line x1="838.6" y1="667.4" x2="838.6" y2="723.0" stroke="#000" stroke-width="4"/>
<circle cx="838.6" cy="695.2" r="3.8"/>
<line x1="839.7" y1="669.4" x2="839.7" y2="720.7" stroke="#000" stroke-width="4"/>
<circle cx="839.7" cy="695.1" r="3.8"/>
<line x1="840.9" y1="667.8" x2="840.9" y2="720.5" stroke="#000" stroke-width="4"/>
<circle cx="840.9" cy="694.2" r="3.8"/>
<line x1="842.0" y1="668.0" x2="842.0" y2="720.6" stroke="#000" stroke-width="4"/>
<circle cx="842.0" cy="694.3" r="3.8"/>
<line x1="843.1" y1="669.0" x2="843.1" y2="720.4" stroke="#000" stroke-width="4"/>
<circle cx="843.1" cy="694.7" r="3.8"/>
<line x1="844.2" y1="668.1" x2="844.2" y2="720.9" stroke="#000" stroke-width="4"/>
<circle cx="844.2" cy="694.5" r="3.8"/>
<line x1="845.3" y1="666.9" x2="845.3" y2="720.4" stroke="#000" stroke-width="4"/>
<circle cx="845.3" cy="693.6" r="3.8"/>
<line x1="846.4" y1="665.0" x2="846.4" y2="719.5" stroke="#000" stroke-width="4"/>
<circle cx="846.4" cy="692.3" r="3.8"/>
<line x1="847.5" y1="663.7" x2="847.5" y2="719.5" stroke="#000" stroke-width="4"/>
<circle cx="847.5" cy="691.6" r="3.8"/>
<line x1="848.6" y1="663.4" x2="848.6" y2="718.8" stroke="#000" stroke-width="4"/>
<circle cx="848.6" cy="691.1" r="3.8"/>
<line x1="849.6" y1="664.3" x2="849.6" y2="717.6" stroke="#000" stroke-width="4"/>
<circle cx="849.6" cy="691.0" r="3.8"/>
<line x1="850.7" y1="662.1" x2="850.7" y2="718.3" stroke="#000" stroke-width="4"/>
<circle cx="850.7" cy="690.2" r="3.8"/>
<line x1="851.7" y1="659.3" x2="851.7" y2="718.0" stroke="#000" stroke-width="4"/>
<circle cx="851.7" cy="688.7" r="3.8"/>
<line x1="852.8" y1="659.1" x2="852.8" y2="717.9" stroke="#000" stroke-width="4"/>
<circle cx="852.8" cy="688.5" r="3.8"/>
<line x1="853.8" y1="659.8" x2="853.8" y2="717.2" stroke="#000" stroke-width="4"/>
<circle cx="853.8" cy="688.5" r="3.8"/>
<line x1="854.8" y1="659.3" x2="854.8" y2="717.8" stroke="#000" stroke-width="4"/>
<circle cx="854.8" cy="688.6" r="3.8"/>
<line x1="855.8" y1="659.6" x2="855.8" y2="718.8" stroke="#000" stroke-width="4"/>
<circle cx="855.8" cy="689.2" r="3.8"/>
<line x1="856.9" y1="659.0" x2="856.9" y2="719.4" stroke="#000" stroke-width="4"/>
<circle cx="856.9" cy="689.2" r="3.8"/>
<line x1="857.9" y1="657.7" x2="857.9" y2="718.9" stroke="#000" stroke-width="4"/>
<circle cx="857.9" cy="688.3" r="3.8"/>
<line x1="858.9" y1="659.7" x2="858.9" y2="717.1" stroke="#000" stroke-width="4"/>
<circle cx="858.9" cy="688.4" r="3.8"/>
<line x1="859.8" y1="660.3" x2="859.8" y2="717.9" stroke="#000" stroke-width="4"/>
<circle cx="859.8" cy="689.1" r="3.8"/>
<line x1="860.8" y1="659.0" x2="860.8" y2="720.3" stroke="#000" stroke-width="4"/>
<circle cx="860.8" cy="689.7" r="3.8"/>
<line x1="861.8" y1="659.6" x2="861.8" y2="721.3" stroke="#000" stroke-width="4"/>
<circle cx="861.8" cy="690.5" r="3.8"/>
<line x1="862.8" y1="660.1" x2="862.8" y2="722.0" stroke="#000" stroke-width="4"/>
<circle cx="862.8" cy="691.0" r="3.8"/>
<line x1="863.7" y1="664.6" x2="863.7" y2="718.9" stroke="#000" stroke-width="4"/>
<circle cx="863.7" cy="691.7" r="3.8"/>
<line x1="864.7" y1="662.3" x2="864.7" y2="721.0" stroke="#000" stroke-width="4"/>
<circle cx="864.7" cy="691.7" r="3.8"/>
<line x1="865.6" y1="664.3" x2="865.6" y2="717.1" stroke="#000" stroke-width="4"/>
<circle cx="865.6" cy="690.7" r="3.8"/>
<line x1="866.6" y1="659.4" x2="866.6" y2="720.3" stroke="#000" stroke-width="4"/>
<circle cx="866.6" cy="689.8" r="3.8"/>
<line x1="867.5" y1="659.9" x2="867.5" y2="719.6" stroke="#000" stroke-width="4"/>
<circle cx="867.5" cy="689.8" r="3.8"/>
<line x1="868.4" y1="659.3" x2="868.4" y2="719.2" stroke="#000" stroke-width="4"/>
<circle cx="868.4" cy="689.2" r="3.8"/>
<line x1="869.3" y1="658.6" x2="869.3" y2="718.4" stroke="#000" stroke-width="4"/>
<circle cx="869.3" cy="688.5" r="3.8"/>
<line x1="870.3" y1="657.3" x2="870.3" y2="720.1" stroke="#000" stroke-width="4"/>
<circle cx="870.3" cy="688.7" r="3.8"/>
<line x1="871.2" y1="658.6" x2="871.2" y2="718.4" stroke="#000" stroke-width="4"/>
<circle cx="871.2" cy="688.5" r="3.8"/>
<line x1="872.1" y1="656.3" x2="872.1" y2="718.9" stroke="#000" stroke-width="4"/>
<circle cx="872.1" cy="687.6" r="3.8"/>
<line x1="873.0" y1="655.6" x2="873.0" y2="717.3" stroke="#000" stroke-width="4"/>
<circle cx="873.0" cy="686.5" r="3.8"/>
<line x1="873.9" y1="654.2" x2="873.9" y2="715.8" stroke="#000" stroke-width="4"/>
<circle cx="873.9" cy="685.0" r="3.8"/>
<line x1="874.7" y1="656.9" x2="874.7" y2="718.9" stroke="#000" stroke-width="4"/>
<circle cx="874.7" cy="687.9" r="3.8"/>
<line x1="875.6" y1="660.6" x2="875.6" y2="722.0" stroke="#000" stroke-width="4"/>
<circle cx="875.6" cy="691.3" r="3.8"/>
<line x1="876.5" y1="659.5" x2="876.5" y2="718.7" stroke="#000" stroke-width="4"/>
<circle cx="876.5" cy="689.1" r="3.8"/>
<line x1="877.4" y1="655.3" x2="877.4" y2="718.2" stroke="#000" stroke-width="4"/>
<circle cx="877.4" cy="686.7" r="3.8"/>
<line x1="878.2" y1="656.4" x2="878.2" y2="719.5" stroke="#000" stroke-width="4"/>
<circle cx="878.2" cy="687.9" r="3.8"/>
<line x1="879.1" y1="658.1" x2="879.1" y2="719.6" stroke="#000" stroke-width="4"/>
<circle cx="879.1" cy="688.9" r="3.8"/>
<line x1="879.9" y1="657.2" x2="879.9" y2="720.6" stroke="#000" stroke-width="4"/>
<circle cx="879.9" cy="688.9" r="3.8"/>
</g>
<rect x="174.0" y="737.0" width="18" height="22" fill="#fff" opacity="0.85"/>
<rect x="156.6" y="1.0" width="757.0" height="615.5" fill="none" stroke="#000" stroke-width="2.2"/>
<rect x="156.6" y="616.4" width="757.0" height="153.4" fill="none" stroke="#000" stroke-width="2.2"/>
<line x1="147.6" y1="44.9" x2="156.6" y2="44.9" stroke="#000" stroke-width="2"/>
<text x="138.3" y="57.8" font-size="32.8" text-anchor="end">12</text>
<line x1="147.6" y1="132.8" x2="156.6" y2="132.8" stroke="#000" stroke-width="2"/>
<text x="138.3" y="145.8" font-size="32.8" text-anchor="end">14</text>
<line x1="147.6" y1="220.8" x2="156.6" y2="220.8" stroke="#000" stroke-width="2"/>
<text x="138.3" y="233.7" font-size="32.8" text-anchor="end">16</text>
<line x1="147.6" y1="308.7" x2="156.6" y2="308.7" stroke="#000" stroke-width="2"/>
<text x="138.3" y="321.6" font-size="32.8" text-anchor="end">18</text>
<line x1="147.6" y1="396.6" x2="156.6" y2="396.6" stroke="#000" stroke-width="2"/>
<text x="138.3" y="409.5" font-size="32.8" text-anchor="end">20</text>
<line x1="147.6" y1="484.5" x2="156.6" y2="484.5" stroke="#000" stroke-width="2"/>
<text x="138.3" y="497.4" font-size="32.8" text-anchor="end">22</text>
<line x1="147.6" y1="572.5" x2="156.6" y2="572.5" stroke="#000" stroke-width="2"/>
<text x="138.3" y="585.4" font-size="32.8" text-anchor="end">24</text>
<line x1="147.6" y1="616.5" x2="156.6" y2="616.5" stroke="#000" stroke-width="2"/>
<text x="138.3" y="629.4" font-size="32.8" text-anchor="end">0.05</text>
<line x1="147.6" y1="693.3" x2="156.6" y2="693.3" stroke="#000" stroke-width="2"/>
<text x="138.3" y="706.2" font-size="32.8" text-anchor="end">0.00</text>
<line x1="147.6" y1="770.0" x2="156.6" y2="770.0" stroke="#000" stroke-width="2"/>
<text x="138.3" y="782.9" font-size="32.8" text-anchor="end">−0.05</text>
<line x1="160.4" y1="769.8" x2="160.4" y2="774.6" stroke="#000" stroke-width="1.6"/>
<line x1="176.4" y1="769.8" x2="176.4" y2="774.6" stroke="#000" stroke-width="1.6"/>
<line x1="190.7" y1="769.8" x2="190.7" y2="778.8" stroke="#000" stroke-width="2"/>
<text x="161.9" y="814.1" font-size="32.8">10</text>
<text x="203.8" y="801.2" font-size="23.2">0</text>
<line x1="284.8" y1="769.8" x2="284.8" y2="774.6" stroke="#000" stroke-width="1.6"/>
<line x1="339.9" y1="769.8" x2="339.9" y2="774.6" stroke="#000" stroke-width="1.6"/>
<line x1="379.0" y1="769.8" x2="379.0" y2="774.6" stroke="#000" stroke-width="1.6"/>
<line x1="409.3" y1="769.8" x2="409.3" y2="774.6" stroke="#000" stroke-width="1.6"/>
<line x1="434.0" y1="769.8" x2="434.0" y2="774.6" stroke="#000" stroke-width="1.6"/>
<line x1="455.0" y1="769.8" x2="455.0" y2="774.6" stroke="#000" stroke-width="1.6"/>
<line x1="473.1" y1="769.8" x2="473.1" y2="774.6" stroke="#000" stroke-width="1.6"/>
<line x1="489.1" y1="769.8" x2="489.1" y2="774.6" stroke="#000" stroke-width="1.6"/>
<line x1="503.4" y1="769.8" x2="503.4" y2="778.8" stroke="#000" stroke-width="2"/>
<text x="474.6" y="814.1" font-size="32.8">10</text>
<text x="516.5" y="801.2" font-size="23.2">1</text>
<line x1="597.5" y1="769.8" x2="597.5" y2="774.6" stroke="#000" stroke-width="1.6"/>
<line x1="652.6" y1="769.8" x2="652.6" y2="774.6" stroke="#000" stroke-width="1.6"/>
<line x1="691.7" y1="769.8" x2="691.7" y2="774.6" stroke="#000" stroke-width="1.6"/>
<line x1="722.0" y1="769.8" x2="722.0" y2="774.6" stroke="#000" stroke-width="1.6"/>
<line x1="746.7" y1="769.8" x2="746.7" y2="774.6" stroke="#000" stroke-width="1.6"/>
<line x1="767.7" y1="769.8" x2="767.7" y2="774.6" stroke="#000" stroke-width="1.6"/>
<line x1="785.8" y1="769.8" x2="785.8" y2="774.6" stroke="#000" stroke-width="1.6"/>
<line x1="801.8" y1="769.8" x2="801.8" y2="774.6" stroke="#000" stroke-width="1.6"/>
<line x1="816.1" y1="769.8" x2="816.1" y2="778.8" stroke="#000" stroke-width="2"/>
<text x="787.3" y="814.1" font-size="32.8">10</text>
<text x="829.2" y="801.2" font-size="23.2">2</text>
<line x1="910.2" y1="769.8" x2="910.2" y2="774.6" stroke="#000" stroke-width="1.6"/>
<text x="534.9" y="864.1" font-size="43.25" text-anchor="middle">Radius [pixel]</text>
<text transform="translate(33.6,308.3) rotate(-90)" font-size="43.25" text-anchor="middle">Surface brightness</text>
<text transform="translate(33.6,693.0) rotate(-90)" font-size="43.25" text-anchor="middle">Residual</text>
<rect x="180.7" y="23.1" width="153.5" height="57.6" fill="#fff" stroke="#000" stroke-width="2.3"/>
<text x="191.0" y="62.6" font-size="38.3">F435W</text>
<rect x="541.3" y="12.5" width="360.7" height="206.0" fill="#fff"/>
<line x1="577.7" y1="21.5" x2="577.7" y2="47.3" stroke="#000" stroke-width="4"/>
<circle cx="577.7" cy="34.4" r="9.7"/>
<circle cx="577.7" cy="71.8" r="4.65" fill="#1E90FF"/>
<line x1="552.0" y1="108.8" x2="603.5" y2="108.8" stroke="#E69F00" stroke-width="5.3" stroke-dasharray="20.3 10.4"/>
<line x1="552.0" y1="152.1" x2="603.5" y2="152.1" stroke="#56B4E9" stroke-width="4.9" stroke-dasharray="25.8 5.3 5 5.5"/>
<line x1="552.0" y1="192.0" x2="603.5" y2="192.0" stroke="#CC79A7" stroke-width="4.6" stroke-dasharray="4.8 5.28"/>
<g font-size="25.45">
<text x="608.2" y="42.7">Observed SB</text>
<text x="608.2" y="80.4">Total model SB</text>
<text x="608.2" y="117.6">AGN</text>
<text x="608.2" y="200.1">Sky</text>
</g>
<text y="159.2" font-size="25.45"><tspan x="608.2">Sérsic profile: </tspan><tspan x="790.5" font-style="oblique">n</tspan><tspan x="806.2" dy="4.4" font-size="17.7">S</tspan><tspan x="823.0" dy="-4.4">=</tspan><tspan x="848.9">5.5</tspan></text>
<clipPath id="c986_0"><rect x="1143.1" y="1.0" width="757.0" height="615.5"/></clipPath>
<clipPath id="c986_0r"><rect x="1143.1" y="616.4" width="757.0" height="153.4"/></clipPath>
<g clip-path="url(#c986_0)">
<polyline points="1143.1,137.8 1177.2,137.8 1271.3,161.3 1326.4,191.2 1365.5,213.1 1395.8,228.8 1420.5,246.1 1441.5,265.0 1459.6,278.8 1475.6,286.9 1489.9,292.6 1502.8,299.9 1514.7,304.1 1525.5,308.0 1535.6,314.0 1545.0,319.8 1553.7,325.2 1562.0,329.2 1569.7,332.7 1577.1,335.6 1584.0,338.4 1590.7,341.7 1597.0,344.6 1603.0,347.6 1608.8,350.6 1614.3,353.2 1619.7,355.6 1624.8,357.9 1629.7,360.3 1634.5,362.9 1639.1,365.1 1643.5,367.3 1647.9,369.5 1652.0,371.6 1656.1,373.6 1660.0,375.5 1663.9,377.4 1667.6,379.5 1671.2,381.7 1674.7,383.5 1678.2,385.1 1681.5,386.7 1684.8,388.3 1688.0,389.9 1691.1,391.3 1694.2,392.6 1697.1,394.2 1700.1,396.0 1702.9,397.7 1705.7,399.0 1708.5,400.3 1711.2,401.8 1713.8,403.1 1716.4,404.3 1718.9,405.5 1721.4,406.6 1723.9,407.6 1726.3,408.7 1728.6,409.8 1730.9,410.9 1733.2,411.9 1735.5,412.7 1737.7,413.5 1739.9,414.7 1742.0,415.8 1744.1,416.5 1746.2,417.2 1748.2,418.0 1750.2,418.8 1752.2,419.7 1754.2,420.5 1756.1,421.4 1758.0,422.0 1759.9,422.7 1761.7,423.5 1763.5,424.1 1765.3,424.5 1767.1,425.0 1768.9,425.6 1770.6,426.0 1772.3,426.4 1774.0,427.1 1775.6,427.8 1777.3,428.2 1778.9,428.5 1780.5,429.0 1782.1,429.5 1783.7,430.0 1785.2,430.7 1786.8,431.1 1788.3,431.4 1789.8,431.6 1791.3,431.8 1792.7,432.0 1794.2,432.2 1795.6,432.4 1797.1,432.8 1798.5,433.2 1799.9,433.4 1801.2,433.4 1802.6,433.5 1804.0,433.8 1805.3,434.2 1806.6,434.4 1807.9,434.6 1809.2,434.9 1810.5,435.3 1811.8,435.7 1813.1,436.1 1814.3,436.3 1815.5,436.4 1816.8,436.6 1818.0,437.0 1819.2,437.3 1820.4,437.4 1821.6,437.5 1822.8,437.8 1823.9,438.1 1825.1,438.3 1826.2,438.6 1827.4,439.0 1828.5,439.0 1829.6,439.2 1830.7,439.5 1831.8,439.7 1832.9,439.9 1834.0,440.2 1835.1,440.4 1836.1,440.6 1837.2,440.8 1838.2,440.9 1839.3,440.9 1840.3,441.1 1841.3,441.3 1842.3,441.5 1843.4,441.5 1844.4,441.6 1845.4,441.8 1846.3,441.9 1847.3,442.0 1848.3,442.4 1849.3,442.6 1850.2,442.8 1851.2,442.8 1852.1,442.8 1853.1,443.0 1854.0,443.2 1854.9,443.4 1855.8,443.5 1856.8,443.6 1857.7,443.7 1858.6,443.9 1859.5,444.0 1860.4,444.2 1861.2,444.6 1862.1,444.8 1863.0,444.8 1863.9,444.7 1864.7,445.0 1865.6,445.2 1866.4,445.3" fill="none" stroke="#000" stroke-width="3.9" stroke-dasharray="12.6 5.4" />
<circle cx="1177.2" cy="137.8" r="9.7"/>
<circle cx="1271.3" cy="161.3" r="9.7"/>
<circle cx="1326.4" cy="191.2" r="9.7"/>
<circle cx="1365.5" cy="213.1" r="9.7"/>
<circle cx="1395.8" cy="228.8" r="9.7"/>
<circle cx="1420.5" cy="246.1" r="9.7"/>
<circle cx="1441.5" cy="265.0" r="9.7"/>
<circle cx="1459.6" cy="278.8" r="9.7"/>
<circle cx="1475.6" cy="286.9" r="9.7"/>
<circle cx="1489.9" cy="292.6" r="9.7"/>
<circle cx="1502.8" cy="299.9" r="9.7"/>
<circle cx="1514.7" cy="304.1" r="9.7"/>
<circle cx="1525.5" cy="308.0" r="9.7"/>
<circle cx="1535.6" cy="314.0" r="9.7"/>
<circle cx="1545.0" cy="319.8" r="9.7"/>
<circle cx="1553.7" cy="325.2" r="9.7"/>
<circle cx="1562.0" cy="329.2" r="9.7"/>
<circle cx="1569.7" cy="332.7" r="9.7"/>
<circle cx="1577.1" cy="335.6" r="9.7"/>
<circle cx="1584.0" cy="338.4" r="9.7"/>
<circle cx="1590.7" cy="341.7" r="9.7"/>
<circle cx="1597.0" cy="344.6" r="9.7"/>
<circle cx="1603.0" cy="347.6" r="9.7"/>
<circle cx="1608.8" cy="350.6" r="9.7"/>
<circle cx="1614.3" cy="353.2" r="9.7"/>
<circle cx="1619.7" cy="355.6" r="9.7"/>
<circle cx="1624.8" cy="357.9" r="9.7"/>
<circle cx="1629.7" cy="360.3" r="9.7"/>
<circle cx="1634.5" cy="362.9" r="9.7"/>
<circle cx="1639.1" cy="365.1" r="9.7"/>
<circle cx="1643.5" cy="367.3" r="9.7"/>
<circle cx="1647.9" cy="369.5" r="9.7"/>
<circle cx="1652.0" cy="371.6" r="9.7"/>
<circle cx="1656.1" cy="373.6" r="9.7"/>
<circle cx="1660.0" cy="375.5" r="9.7"/>
<circle cx="1663.9" cy="377.4" r="9.7"/>
<circle cx="1667.6" cy="379.5" r="9.7"/>
<circle cx="1671.2" cy="381.7" r="9.7"/>
<circle cx="1674.7" cy="383.5" r="9.7"/>
<circle cx="1678.2" cy="385.1" r="9.7"/>
<circle cx="1681.5" cy="386.7" r="9.7"/>
<circle cx="1684.8" cy="388.3" r="9.7"/>
<circle cx="1688.0" cy="389.9" r="9.7"/>
<circle cx="1691.1" cy="391.3" r="9.7"/>
<circle cx="1694.2" cy="392.6" r="9.7"/>
<circle cx="1697.1" cy="394.2" r="9.7"/>
<circle cx="1700.1" cy="396.0" r="9.7"/>
<circle cx="1702.9" cy="397.7" r="9.7"/>
<circle cx="1705.7" cy="399.0" r="9.7"/>
<circle cx="1708.5" cy="400.3" r="9.7"/>
<circle cx="1711.2" cy="401.8" r="9.7"/>
<circle cx="1713.8" cy="403.1" r="9.7"/>
<circle cx="1716.4" cy="404.3" r="9.7"/>
<circle cx="1718.9" cy="405.5" r="9.7"/>
<circle cx="1721.4" cy="406.6" r="9.7"/>
<circle cx="1723.9" cy="407.6" r="9.7"/>
<circle cx="1726.3" cy="408.7" r="9.7"/>
<circle cx="1728.6" cy="409.8" r="9.7"/>
<circle cx="1730.9" cy="410.9" r="9.7"/>
<circle cx="1733.2" cy="411.9" r="9.7"/>
<circle cx="1735.5" cy="412.7" r="9.7"/>
<circle cx="1737.7" cy="413.5" r="9.7"/>
<circle cx="1739.9" cy="414.7" r="9.7"/>
<circle cx="1742.0" cy="415.8" r="9.7"/>
<circle cx="1744.1" cy="416.5" r="9.7"/>
<circle cx="1746.2" cy="417.2" r="9.7"/>
<circle cx="1748.2" cy="418.0" r="9.7"/>
<circle cx="1750.2" cy="418.8" r="9.7"/>
<circle cx="1752.2" cy="419.7" r="9.7"/>
<circle cx="1754.2" cy="420.5" r="9.7"/>
<circle cx="1756.1" cy="421.4" r="9.7"/>
<circle cx="1758.0" cy="422.0" r="9.7"/>
<circle cx="1759.9" cy="422.7" r="9.7"/>
<circle cx="1761.7" cy="423.5" r="9.7"/>
<circle cx="1763.5" cy="424.1" r="9.7"/>
<circle cx="1765.3" cy="424.5" r="9.7"/>
<circle cx="1767.1" cy="425.0" r="9.7"/>
<circle cx="1768.9" cy="425.6" r="9.7"/>
<circle cx="1770.6" cy="426.0" r="9.7"/>
<circle cx="1772.3" cy="426.4" r="9.7"/>
<circle cx="1774.0" cy="427.1" r="9.7"/>
<circle cx="1775.6" cy="427.8" r="9.7"/>
<circle cx="1777.3" cy="428.2" r="9.7"/>
<circle cx="1778.9" cy="428.5" r="9.7"/>
<circle cx="1780.5" cy="429.0" r="9.7"/>
<circle cx="1782.1" cy="429.5" r="9.7"/>
<circle cx="1783.7" cy="430.0" r="9.7"/>
<circle cx="1785.2" cy="430.7" r="9.7"/>
<circle cx="1786.8" cy="431.1" r="9.7"/>
<circle cx="1788.3" cy="431.4" r="9.7"/>
<circle cx="1789.8" cy="431.6" r="9.7"/>
<circle cx="1791.3" cy="431.8" r="9.7"/>
<circle cx="1792.7" cy="432.0" r="9.7"/>
<circle cx="1794.2" cy="432.2" r="9.7"/>
<circle cx="1795.6" cy="432.4" r="9.7"/>
<circle cx="1797.1" cy="432.8" r="9.7"/>
<circle cx="1798.5" cy="433.2" r="9.7"/>
<circle cx="1799.9" cy="433.4" r="9.7"/>
<circle cx="1801.2" cy="433.4" r="9.7"/>
<circle cx="1802.6" cy="433.5" r="9.7"/>
<circle cx="1804.0" cy="433.8" r="9.7"/>
<circle cx="1805.3" cy="434.2" r="9.7"/>
<circle cx="1806.6" cy="434.4" r="9.7"/>
<circle cx="1807.9" cy="434.6" r="9.7"/>
<circle cx="1809.2" cy="434.9" r="9.7"/>
<circle cx="1810.5" cy="435.3" r="9.7"/>
<circle cx="1811.8" cy="435.7" r="9.7"/>
<circle cx="1813.1" cy="436.1" r="9.7"/>
<circle cx="1814.3" cy="436.3" r="9.7"/>
<circle cx="1815.5" cy="436.4" r="9.7"/>
<circle cx="1816.8" cy="436.6" r="9.7"/>
<circle cx="1818.0" cy="437.0" r="9.7"/>
<circle cx="1819.2" cy="437.3" r="9.7"/>
<circle cx="1820.4" cy="437.4" r="9.7"/>
<circle cx="1821.6" cy="437.5" r="9.7"/>
<circle cx="1822.8" cy="437.8" r="9.7"/>
<circle cx="1823.9" cy="438.1" r="9.7"/>
<circle cx="1825.1" cy="438.3" r="9.7"/>
<circle cx="1826.2" cy="438.6" r="9.7"/>
<circle cx="1827.4" cy="439.0" r="9.7"/>
<circle cx="1828.5" cy="439.0" r="9.7"/>
<circle cx="1829.6" cy="439.2" r="9.7"/>
<circle cx="1830.7" cy="439.5" r="9.7"/>
<circle cx="1831.8" cy="439.7" r="9.7"/>
<circle cx="1832.9" cy="439.9" r="9.7"/>
<circle cx="1834.0" cy="440.2" r="9.7"/>
<circle cx="1835.1" cy="440.4" r="9.7"/>
<circle cx="1836.1" cy="440.6" r="9.7"/>
<circle cx="1837.2" cy="440.8" r="9.7"/>
<circle cx="1838.2" cy="440.9" r="9.7"/>
<circle cx="1839.3" cy="440.9" r="9.7"/>
<circle cx="1840.3" cy="441.1" r="9.7"/>
<circle cx="1841.3" cy="441.3" r="9.7"/>
<circle cx="1842.3" cy="441.5" r="9.7"/>
<circle cx="1843.4" cy="441.5" r="9.7"/>
<circle cx="1844.4" cy="441.6" r="9.7"/>
<circle cx="1845.4" cy="441.8" r="9.7"/>
<circle cx="1846.3" cy="441.9" r="9.7"/>
<circle cx="1847.3" cy="442.0" r="9.7"/>
<circle cx="1848.3" cy="442.4" r="9.7"/>
<circle cx="1849.3" cy="442.6" r="9.7"/>
<circle cx="1850.2" cy="442.8" r="9.7"/>
<circle cx="1851.2" cy="442.8" r="9.7"/>
<circle cx="1852.1" cy="442.8" r="9.7"/>
<circle cx="1853.1" cy="443.0" r="9.7"/>
<circle cx="1854.0" cy="443.2" r="9.7"/>
<circle cx="1854.9" cy="443.4" r="9.7"/>
<circle cx="1855.8" cy="443.5" r="9.7"/>
<circle cx="1856.8" cy="443.6" r="9.7"/>
<circle cx="1857.7" cy="443.7" r="9.7"/>
<circle cx="1858.6" cy="443.9" r="9.7"/>
<circle cx="1859.5" cy="444.0" r="9.7"/>
<circle cx="1860.4" cy="444.2" r="9.7"/>
<circle cx="1861.2" cy="444.6" r="9.7"/>
<circle cx="1862.1" cy="444.8" r="9.7"/>
<circle cx="1863.0" cy="444.8" r="9.7"/>
<circle cx="1863.9" cy="444.7" r="9.7"/>
<circle cx="1864.7" cy="445.0" r="9.7"/>
<circle cx="1865.6" cy="445.2" r="9.7"/>
<circle cx="1866.4" cy="445.3" r="9.7"/>
</g>
<g stroke="#ababab" stroke-width="2" stroke-dasharray="7.4 3.2" fill="none">
<line x1="1146.9" y1="616.4" x2="1146.9" y2="1.0"/>
<line x1="1162.9" y1="616.4" x2="1162.9" y2="1.0"/>
<line x1="1177.2" y1="616.4" x2="1177.2" y2="1.0"/>
<line x1="1271.3" y1="616.4" x2="1271.3" y2="1.0"/>
<line x1="1326.4" y1="616.4" x2="1326.4" y2="1.0"/>
<line x1="1365.5" y1="616.4" x2="1365.5" y2="1.0"/>
<line x1="1395.8" y1="616.4" x2="1395.8" y2="1.0"/>
<line x1="1420.5" y1="616.4" x2="1420.5" y2="1.0"/>
<line x1="1441.5" y1="616.4" x2="1441.5" y2="1.0"/>
<line x1="1459.6" y1="616.4" x2="1459.6" y2="1.0"/>
<line x1="1475.6" y1="616.4" x2="1475.6" y2="1.0"/>
<line x1="1489.9" y1="616.4" x2="1489.9" y2="1.0"/>
<line x1="1584.0" y1="616.4" x2="1584.0" y2="1.0"/>
<line x1="1639.1" y1="616.4" x2="1639.1" y2="1.0"/>
<line x1="1678.2" y1="616.4" x2="1678.2" y2="1.0"/>
<line x1="1708.5" y1="616.4" x2="1708.5" y2="1.0"/>
<line x1="1733.2" y1="616.4" x2="1733.2" y2="1.0"/>
<line x1="1754.2" y1="616.4" x2="1754.2" y2="1.0"/>
<line x1="1772.3" y1="616.4" x2="1772.3" y2="1.0"/>
<line x1="1788.3" y1="616.4" x2="1788.3" y2="1.0"/>
<line x1="1802.6" y1="616.4" x2="1802.6" y2="1.0"/>
<line x1="1896.7" y1="616.4" x2="1896.7" y2="1.0"/>
<line x1="1143.1" y1="44.9" x2="1900.1" y2="44.9"/>
<line x1="1143.1" y1="132.8" x2="1900.1" y2="132.8"/>
<line x1="1143.1" y1="220.8" x2="1900.1" y2="220.8"/>
<line x1="1143.1" y1="308.7" x2="1900.1" y2="308.7"/>
<line x1="1143.1" y1="396.6" x2="1900.1" y2="396.6"/>
<line x1="1143.1" y1="484.5" x2="1900.1" y2="484.5"/>
<line x1="1143.1" y1="572.5" x2="1900.1" y2="572.5"/>
<line x1="1146.9" y1="769.8" x2="1146.9" y2="616.4"/>
<line x1="1162.9" y1="769.8" x2="1162.9" y2="616.4"/>
<line x1="1177.2" y1="769.8" x2="1177.2" y2="616.4"/>
<line x1="1271.3" y1="769.8" x2="1271.3" y2="616.4"/>
<line x1="1326.4" y1="769.8" x2="1326.4" y2="616.4"/>
<line x1="1365.5" y1="769.8" x2="1365.5" y2="616.4"/>
<line x1="1395.8" y1="769.8" x2="1395.8" y2="616.4"/>
<line x1="1420.5" y1="769.8" x2="1420.5" y2="616.4"/>
<line x1="1441.5" y1="769.8" x2="1441.5" y2="616.4"/>
<line x1="1459.6" y1="769.8" x2="1459.6" y2="616.4"/>
<line x1="1475.6" y1="769.8" x2="1475.6" y2="616.4"/>
<line x1="1489.9" y1="769.8" x2="1489.9" y2="616.4"/>
<line x1="1584.0" y1="769.8" x2="1584.0" y2="616.4"/>
<line x1="1639.1" y1="769.8" x2="1639.1" y2="616.4"/>
<line x1="1678.2" y1="769.8" x2="1678.2" y2="616.4"/>
<line x1="1708.5" y1="769.8" x2="1708.5" y2="616.4"/>
<line x1="1733.2" y1="769.8" x2="1733.2" y2="616.4"/>
<line x1="1754.2" y1="769.8" x2="1754.2" y2="616.4"/>
<line x1="1772.3" y1="769.8" x2="1772.3" y2="616.4"/>
<line x1="1788.3" y1="769.8" x2="1788.3" y2="616.4"/>
<line x1="1802.6" y1="769.8" x2="1802.6" y2="616.4"/>
<line x1="1896.7" y1="769.8" x2="1896.7" y2="616.4"/>
<line x1="1143.1" y1="693.3" x2="1900.1" y2="693.3"/>
</g>
<g clip-path="url(#c986_0)">
<polyline points="1143.1,142.4 1177.2,142.4 1271.3,170.9 1326.4,216.3 1365.5,249.7 1395.8,267.0 1420.5,304.5 1441.5,350.6 1459.6,384.2 1475.6,387.8 1489.9,389.0 1502.8,390.0 1514.7,395.5 1525.5,406.7 1535.6,420.6 1545.0,434.6 1553.7,447.7 1562.0,455.9 1569.7,461.9 1577.1,465.9 1584.0,469.3 1590.7,473.1 1597.0,477.1 1603.0,481.0 1608.8,484.6 1614.3,488.0 1619.7,491.2 1624.8,494.2 1629.7,497.1 1634.5,499.9 1639.1,502.7 1643.5,505.5 1647.9,508.2 1652.0,510.8 1656.1,513.4 1660.0,516.2 1663.9,519.1 1667.6,522.4 1671.2,526.1 1674.7,529.8 1678.2,533.2 1681.5,536.2 1684.8,539.0 1688.0,541.6 1691.1,544.0 1694.2,546.2 1697.1,548.2 1700.1,549.9 1702.9,551.6 1705.7,553.2 1708.5,554.9 1711.2,556.5 1713.8,558.1 1716.4,560.0 1718.9,562.4 1721.4,565.6 1723.9,569.3 1726.3,572.9 1728.6,576.3 1730.9,579.9 1733.2,584.0 1735.5,589.1 1737.7,595.3 1739.9,602.9 1742.0,612.1 1744.1,622.5 1746.2,632.9 1748.2,643.1 1750.2,653.1 1752.2,663.0 1754.2,672.8 1756.1,682.4 1758.0,691.9 1759.9,701.3 1761.7,710.5 1763.5,719.7 1765.3,728.7 1767.1,737.5 1768.9,746.3 1770.6,754.9 1772.3,763.5 1774.0,771.9 1775.6,780.2 1777.3,788.5 1778.9,796.6 1780.5,804.6 1782.1,812.6 1783.7,820.4 1785.2,828.2 1786.8,835.9 1788.3,843.5 1789.8,851.0 1791.3,858.4 1792.7,865.7 1794.2,873.0 1795.6,880.2 1797.1,887.3 1798.5,894.3 1799.9,901.3 1801.2,908.2 1802.6,915.0 1804.0,921.8 1805.3,928.4 1806.6,935.1 1807.9,941.6 1809.2,948.1 1810.5,954.6 1811.8,960.9 1813.1,967.3 1814.3,973.5 1815.5,979.7 1816.8,985.9 1818.0,992.0 1819.2,998.0 1820.4,1004.0 1821.6,1009.9 1822.8,1015.8 1823.9,1021.6 1825.1,1027.4 1826.2,1033.1 1827.4,1038.8 1828.5,1044.4 1829.6,1050.0 1830.7,1055.6 1831.8,1061.1 1832.9,1066.5 1834.0,1071.9 1835.1,1077.3 1836.1,1082.6 1837.2,1087.9 1838.2,1093.2 1839.3,1098.4 1840.3,1103.5 1841.3,1108.6 1842.3,1113.7 1843.4,1118.8 1844.4,1123.8 1845.4,1128.8 1846.3,1133.7 1847.3,1138.6 1848.3,1143.5 1849.3,1148.3 1850.2,1153.1 1851.2,1157.9 1852.1,1162.6 1853.1,1167.3 1854.0,1172.0 1854.9,1176.6 1855.8,1181.2 1856.8,1185.8 1857.7,1190.3 1858.6,1194.8 1859.5,1199.3 1860.4,1203.8 1861.2,1208.2 1862.1,1212.6 1863.0,1217.0 1863.9,1221.3 1864.7,1225.6 1865.6,1229.9 1866.4,1234.1" fill="none" stroke="#E69F00" stroke-width="5.3" stroke-dasharray="20.3 10.4" />
<polyline points="1143.1,212.4 1177.2,212.4 1271.3,222.4 1326.4,234.9 1365.5,247.5 1395.8,259.1 1420.5,269.7 1441.5,279.7 1459.6,288.6 1475.6,295.8 1489.9,302.3 1502.8,308.3 1514.7,313.8 1525.5,318.9 1535.6,323.6 1545.0,328.1 1553.7,332.3 1562.0,336.3 1569.7,340.2 1577.1,343.8 1584.0,347.3 1590.7,350.7 1597.0,353.9 1603.0,357.1 1608.8,360.1 1614.3,363.1 1619.7,365.9 1624.8,368.7 1629.7,371.4 1634.5,374.0 1639.1,376.6 1643.5,379.1 1647.9,381.5 1652.0,384.0 1656.1,386.3 1660.0,388.7 1663.9,390.9 1667.6,393.1 1671.2,395.3 1674.7,397.4 1678.2,399.5 1681.5,401.5 1684.8,403.5 1688.0,405.4 1691.1,407.3 1694.2,409.2 1697.1,411.0 1700.1,412.8 1702.9,414.6 1705.7,416.4 1708.5,418.1 1711.2,419.8 1713.8,421.5 1716.4,423.2 1718.9,424.8 1721.4,426.4 1723.9,428.0 1726.3,429.6 1728.6,431.1 1730.9,432.6 1733.2,434.0 1735.5,435.4 1737.7,436.8 1739.9,438.1 1742.0,439.4 1744.1,440.7 1746.2,441.9 1748.2,443.1 1750.2,444.3 1752.2,445.5 1754.2,446.7 1756.1,447.8 1758.0,449.0 1759.9,450.1 1761.7,451.2 1763.5,452.3 1765.3,453.4 1767.1,454.5 1768.9,455.6 1770.6,456.7 1772.3,457.8 1774.0,458.9 1775.6,459.9 1777.3,461.0 1778.9,462.1 1780.5,463.1 1782.1,464.2 1783.7,465.3 1785.2,466.3 1786.8,467.3 1788.3,468.4 1789.8,469.4 1791.3,470.4 1792.7,471.4 1794.2,472.4 1795.6,473.4 1797.1,474.4 1798.5,475.3 1799.9,476.3 1801.2,477.2 1802.6,478.2 1804.0,479.1 1805.3,480.0 1806.6,480.9 1807.9,481.8 1809.2,482.7 1810.5,483.6 1811.8,484.5 1813.1,485.4 1814.3,486.2 1815.5,487.1 1816.8,488.0 1818.0,488.8 1819.2,489.7 1820.4,490.5 1821.6,491.3 1822.8,492.1 1823.9,493.0 1825.1,493.8 1826.2,494.6 1827.4,495.4 1828.5,496.2 1829.6,497.0 1830.7,497.7 1831.8,498.5 1832.9,499.3 1834.0,500.0 1835.1,500.8 1836.1,501.5 1837.2,502.3 1838.2,503.0 1839.3,503.8 1840.3,504.5 1841.3,505.2 1842.3,505.9 1843.4,506.6 1844.4,507.4 1845.4,508.1 1846.3,508.8 1847.3,509.5 1848.3,510.1 1849.3,510.8 1850.2,511.5 1851.2,512.2 1852.1,512.9 1853.1,513.5 1854.0,514.2 1854.9,514.9 1855.8,515.5 1856.8,516.2 1857.7,516.8 1858.6,517.5 1859.5,518.1 1860.4,518.7 1861.2,519.4 1862.1,520.0 1863.0,520.6 1863.9,521.2 1864.7,521.9 1865.6,522.5 1866.4,523.1" fill="none" stroke="#56B4E9" stroke-width="4.9" stroke-dasharray="25.8 5.3 5 5.5" />
<line x1="1148.5" y1="455.9" x2="1866.4" y2="455.9" stroke="#CC79A7" stroke-width="4.6" stroke-dasharray="4.8 5.28"/>
<polyline points="1143.1,132.9 1177.2,132.9 1271.3,157.4 1326.4,192.4 1365.5,216.6 1395.8,230.4 1420.5,250.0 1441.5,269.1 1459.6,280.6 1475.6,287.6 1489.9,293.0 1502.8,298.4 1514.7,303.2 1525.5,307.8 1535.6,314.1 1545.0,319.8 1553.7,325.1 1562.0,329.2 1569.7,332.7 1577.1,335.9 1584.0,339.0 1590.7,342.1 1597.0,345.1 1603.0,348.0 1608.8,350.8 1614.3,353.5 1619.7,356.1 1624.8,358.7 1629.7,361.1 1634.5,363.4 1639.1,365.7 1643.5,367.9 1647.9,370.1 1652.0,372.2 1656.1,374.2 1660.0,376.2 1663.9,378.2 1667.6,380.1 1671.2,381.9 1674.7,383.6 1678.2,385.3 1681.5,386.9 1684.8,388.5 1688.0,390.0 1691.1,391.5 1694.2,393.0 1697.1,394.4 1700.1,395.7 1702.9,397.1 1705.7,398.4 1708.5,399.7 1711.2,401.0 1713.8,402.2 1716.4,403.5 1718.9,404.7 1721.4,405.9 1723.9,407.0 1726.3,408.2 1728.6,409.3 1730.9,410.4 1733.2,411.4 1735.5,412.4 1737.7,413.4 1739.9,414.4 1742.0,415.4 1744.1,416.3 1746.2,417.2 1748.2,418.1 1750.2,419.0 1752.2,419.8 1754.2,420.5 1756.1,421.2 1758.0,421.9 1759.9,422.5 1761.7,423.2 1763.5,423.8 1765.3,424.3 1767.1,424.9 1768.9,425.4 1770.6,426.0 1772.3,426.5 1774.0,427.0 1775.6,427.5 1777.3,428.0 1778.9,428.5 1780.5,429.0 1782.1,429.5 1783.7,429.9 1785.2,430.3 1786.8,430.7 1788.3,431.0 1789.8,431.3 1791.3,431.6 1792.7,431.9 1794.2,432.1 1795.6,432.3 1797.1,432.6 1798.5,432.8 1799.9,433.0 1801.2,433.3 1802.6,433.5 1804.0,433.8 1805.3,434.0 1806.6,434.3 1807.9,434.5 1809.2,434.8 1810.5,435.1 1811.8,435.3 1813.1,435.6 1814.3,435.8 1815.5,436.1 1816.8,436.4 1818.0,436.6 1819.2,436.9 1820.4,437.1 1821.6,437.4 1822.8,437.6 1823.9,437.8 1825.1,438.1 1826.2,438.3 1827.4,438.5 1828.5,438.8 1829.6,439.0 1830.7,439.2 1831.8,439.4 1832.9,439.6 1834.0,439.8 1835.1,440.0 1836.1,440.2 1837.2,440.4 1838.2,440.6 1839.3,440.7 1840.3,440.9 1841.3,441.1 1842.3,441.3 1843.4,441.4 1844.4,441.6 1845.4,441.8 1846.3,442.0 1847.3,442.1 1848.3,442.3 1849.3,442.4 1850.2,442.6 1851.2,442.8 1852.1,442.9 1853.1,443.1 1854.0,443.2 1854.9,443.4 1855.8,443.5 1856.8,443.6 1857.7,443.8 1858.6,443.9 1859.5,444.1 1860.4,444.2 1861.2,444.3 1862.1,444.5 1863.0,444.6 1863.9,444.7 1864.7,444.9 1865.6,445.0 1866.4,445.1" fill="none" stroke="#1E90FF" stroke-width="3.9" stroke-dasharray="12.6 5.4" />
<g fill="#1E90FF">
<circle cx="1177.2" cy="132.9" r="4.65"/>
<circle cx="1271.3" cy="157.4" r="4.65"/>
<circle cx="1326.4" cy="192.4" r="4.65"/>
<circle cx="1365.5" cy="216.6" r="4.65"/>
<circle cx="1395.8" cy="230.4" r="4.65"/>
<circle cx="1420.5" cy="250.0" r="4.65"/>
<circle cx="1441.5" cy="269.1" r="4.65"/>
<circle cx="1459.6" cy="280.6" r="4.65"/>
<circle cx="1475.6" cy="287.6" r="4.65"/>
<circle cx="1489.9" cy="293.0" r="4.65"/>
<circle cx="1502.8" cy="298.4" r="4.65"/>
<circle cx="1514.7" cy="303.2" r="4.65"/>
<circle cx="1525.5" cy="307.8" r="4.65"/>
<circle cx="1535.6" cy="314.1" r="4.65"/>
<circle cx="1545.0" cy="319.8" r="4.65"/>
<circle cx="1553.7" cy="325.1" r="4.65"/>
<circle cx="1562.0" cy="329.2" r="4.65"/>
<circle cx="1569.7" cy="332.7" r="4.65"/>
<circle cx="1577.1" cy="335.9" r="4.65"/>
<circle cx="1584.0" cy="339.0" r="4.65"/>
<circle cx="1590.7" cy="342.1" r="4.65"/>
<circle cx="1597.0" cy="345.1" r="4.65"/>
<circle cx="1603.0" cy="348.0" r="4.65"/>
<circle cx="1608.8" cy="350.8" r="4.65"/>
<circle cx="1614.3" cy="353.5" r="4.65"/>
<circle cx="1619.7" cy="356.1" r="4.65"/>
<circle cx="1624.8" cy="358.7" r="4.65"/>
<circle cx="1629.7" cy="361.1" r="4.65"/>
<circle cx="1634.5" cy="363.4" r="4.65"/>
<circle cx="1639.1" cy="365.7" r="4.65"/>
<circle cx="1643.5" cy="367.9" r="4.65"/>
<circle cx="1647.9" cy="370.1" r="4.65"/>
<circle cx="1652.0" cy="372.2" r="4.65"/>
<circle cx="1656.1" cy="374.2" r="4.65"/>
<circle cx="1660.0" cy="376.2" r="4.65"/>
<circle cx="1663.9" cy="378.2" r="4.65"/>
<circle cx="1667.6" cy="380.1" r="4.65"/>
<circle cx="1671.2" cy="381.9" r="4.65"/>
<circle cx="1674.7" cy="383.6" r="4.65"/>
<circle cx="1678.2" cy="385.3" r="4.65"/>
<circle cx="1681.5" cy="386.9" r="4.65"/>
<circle cx="1684.8" cy="388.5" r="4.65"/>
<circle cx="1688.0" cy="390.0" r="4.65"/>
<circle cx="1691.1" cy="391.5" r="4.65"/>
<circle cx="1694.2" cy="393.0" r="4.65"/>
<circle cx="1697.1" cy="394.4" r="4.65"/>
<circle cx="1700.1" cy="395.7" r="4.65"/>
<circle cx="1702.9" cy="397.1" r="4.65"/>
<circle cx="1705.7" cy="398.4" r="4.65"/>
<circle cx="1708.5" cy="399.7" r="4.65"/>
<circle cx="1711.2" cy="401.0" r="4.65"/>
<circle cx="1713.8" cy="402.2" r="4.65"/>
<circle cx="1716.4" cy="403.5" r="4.65"/>
<circle cx="1718.9" cy="404.7" r="4.65"/>
<circle cx="1721.4" cy="405.9" r="4.65"/>
<circle cx="1723.9" cy="407.0" r="4.65"/>
<circle cx="1726.3" cy="408.2" r="4.65"/>
<circle cx="1728.6" cy="409.3" r="4.65"/>
<circle cx="1730.9" cy="410.4" r="4.65"/>
<circle cx="1733.2" cy="411.4" r="4.65"/>
<circle cx="1735.5" cy="412.4" r="4.65"/>
<circle cx="1737.7" cy="413.4" r="4.65"/>
<circle cx="1739.9" cy="414.4" r="4.65"/>
<circle cx="1742.0" cy="415.4" r="4.65"/>
<circle cx="1744.1" cy="416.3" r="4.65"/>
<circle cx="1746.2" cy="417.2" r="4.65"/>
<circle cx="1748.2" cy="418.1" r="4.65"/>
<circle cx="1750.2" cy="419.0" r="4.65"/>
<circle cx="1752.2" cy="419.8" r="4.65"/>
<circle cx="1754.2" cy="420.5" r="4.65"/>
<circle cx="1756.1" cy="421.2" r="4.65"/>
<circle cx="1758.0" cy="421.9" r="4.65"/>
<circle cx="1759.9" cy="422.5" r="4.65"/>
<circle cx="1761.7" cy="423.2" r="4.65"/>
<circle cx="1763.5" cy="423.8" r="4.65"/>
<circle cx="1765.3" cy="424.3" r="4.65"/>
<circle cx="1767.1" cy="424.9" r="4.65"/>
<circle cx="1768.9" cy="425.4" r="4.65"/>
<circle cx="1770.6" cy="426.0" r="4.65"/>
<circle cx="1772.3" cy="426.5" r="4.65"/>
<circle cx="1774.0" cy="427.0" r="4.65"/>
<circle cx="1775.6" cy="427.5" r="4.65"/>
<circle cx="1777.3" cy="428.0" r="4.65"/>
<circle cx="1778.9" cy="428.5" r="4.65"/>
<circle cx="1780.5" cy="429.0" r="4.65"/>
<circle cx="1782.1" cy="429.5" r="4.65"/>
<circle cx="1783.7" cy="429.9" r="4.65"/>
<circle cx="1785.2" cy="430.3" r="4.65"/>
<circle cx="1786.8" cy="430.7" r="4.65"/>
<circle cx="1788.3" cy="431.0" r="4.65"/>
<circle cx="1789.8" cy="431.3" r="4.65"/>
<circle cx="1791.3" cy="431.6" r="4.65"/>
<circle cx="1792.7" cy="431.9" r="4.65"/>
<circle cx="1794.2" cy="432.1" r="4.65"/>
<circle cx="1795.6" cy="432.3" r="4.65"/>
<circle cx="1797.1" cy="432.6" r="4.65"/>
<circle cx="1798.5" cy="432.8" r="4.65"/>
<circle cx="1799.9" cy="433.0" r="4.65"/>
<circle cx="1801.2" cy="433.3" r="4.65"/>
<circle cx="1802.6" cy="433.5" r="4.65"/>
<circle cx="1804.0" cy="433.8" r="4.65"/>
<circle cx="1805.3" cy="434.0" r="4.65"/>
<circle cx="1806.6" cy="434.3" r="4.65"/>
<circle cx="1807.9" cy="434.5" r="4.65"/>
<circle cx="1809.2" cy="434.8" r="4.65"/>
<circle cx="1810.5" cy="435.1" r="4.65"/>
<circle cx="1811.8" cy="435.3" r="4.65"/>
<circle cx="1813.1" cy="435.6" r="4.65"/>
<circle cx="1814.3" cy="435.8" r="4.65"/>
<circle cx="1815.5" cy="436.1" r="4.65"/>
<circle cx="1816.8" cy="436.4" r="4.65"/>
<circle cx="1818.0" cy="436.6" r="4.65"/>
<circle cx="1819.2" cy="436.9" r="4.65"/>
<circle cx="1820.4" cy="437.1" r="4.65"/>
<circle cx="1821.6" cy="437.4" r="4.65"/>
<circle cx="1822.8" cy="437.6" r="4.65"/>
<circle cx="1823.9" cy="437.8" r="4.65"/>
<circle cx="1825.1" cy="438.1" r="4.65"/>
<circle cx="1826.2" cy="438.3" r="4.65"/>
<circle cx="1827.4" cy="438.5" r="4.65"/>
<circle cx="1828.5" cy="438.8" r="4.65"/>
<circle cx="1829.6" cy="439.0" r="4.65"/>
<circle cx="1830.7" cy="439.2" r="4.65"/>
<circle cx="1831.8" cy="439.4" r="4.65"/>
<circle cx="1832.9" cy="439.6" r="4.65"/>
<circle cx="1834.0" cy="439.8" r="4.65"/>
<circle cx="1835.1" cy="440.0" r="4.65"/>
<circle cx="1836.1" cy="440.2" r="4.65"/>
<circle cx="1837.2" cy="440.4" r="4.65"/>
<circle cx="1838.2" cy="440.6" r="4.65"/>
<circle cx="1839.3" cy="440.7" r="4.65"/>
<circle cx="1840.3" cy="440.9" r="4.65"/>
<circle cx="1841.3" cy="441.1" r="4.65"/>
<circle cx="1842.3" cy="441.3" r="4.65"/>
<circle cx="1843.4" cy="441.4" r="4.65"/>
<circle cx="1844.4" cy="441.6" r="4.65"/>
<circle cx="1845.4" cy="441.8" r="4.65"/>
<circle cx="1846.3" cy="442.0" r="4.65"/>
<circle cx="1847.3" cy="442.1" r="4.65"/>
<circle cx="1848.3" cy="442.3" r="4.65"/>
<circle cx="1849.3" cy="442.4" r="4.65"/>
<circle cx="1850.2" cy="442.6" r="4.65"/>
<circle cx="1851.2" cy="442.8" r="4.65"/>
<circle cx="1852.1" cy="442.9" r="4.65"/>
<circle cx="1853.1" cy="443.1" r="4.65"/>
<circle cx="1854.0" cy="443.2" r="4.65"/>
<circle cx="1854.9" cy="443.4" r="4.65"/>
<circle cx="1855.8" cy="443.5" r="4.65"/>
<circle cx="1856.8" cy="443.6" r="4.65"/>
<circle cx="1857.7" cy="443.8" r="4.65"/>
<circle cx="1858.6" cy="443.9" r="4.65"/>
<circle cx="1859.5" cy="444.1" r="4.65"/>
<circle cx="1860.4" cy="444.2" r="4.65"/>
<circle cx="1861.2" cy="444.3" r="4.65"/>
<circle cx="1862.1" cy="444.5" r="4.65"/>
<circle cx="1863.0" cy="444.6" r="4.65"/>
<circle cx="1863.9" cy="444.7" r="4.65"/>
<circle cx="1864.7" cy="444.9" r="4.65"/>
<circle cx="1865.6" cy="445.0" r="4.65"/>
<circle cx="1866.4" cy="445.1" r="4.65"/>
</g></g>
<g clip-path="url(#c986_0r)">
<circle cx="1177.2" cy="680.7" r="3.8"/>
<circle cx="1271.3" cy="683.3" r="3.8"/>
<circle cx="1326.4" cy="698.2" r="3.8"/>
<circle cx="1365.5" cy="700.4" r="3.8"/>
<circle cx="1395.8" cy="698.2" r="3.8"/>
<circle cx="1420.5" cy="703.4" r="3.8"/>
<circle cx="1441.5" cy="703.0" r="3.8"/>
<circle cx="1459.6" cy="696.4" r="3.8"/>
<circle cx="1475.6" cy="692.2" r="3.8"/>
<circle cx="1489.9" cy="690.7" r="3.8"/>
<circle cx="1502.8" cy="690.1" r="3.8"/>
<circle cx="1514.7" cy="691.3" r="3.8"/>
<circle cx="1525.5" cy="692.8" r="3.8"/>
<circle cx="1535.6" cy="693.6" r="3.8"/>
<circle cx="1545.0" cy="693.3" r="3.8"/>
<circle cx="1553.7" cy="693.1" r="3.8"/>
<circle cx="1562.0" cy="693.2" r="3.8"/>
<circle cx="1569.7" cy="693.2" r="3.8"/>
<circle cx="1577.1" cy="693.9" r="3.8"/>
<circle cx="1584.0" cy="694.5" r="3.8"/>
<circle cx="1590.7" cy="694.3" r="3.8"/>
<circle cx="1597.0" cy="694.5" r="3.8"/>
<circle cx="1603.0" cy="694.3" r="3.8"/>
<circle cx="1608.8" cy="693.7" r="3.8"/>
<circle cx="1614.3" cy="694.0" r="3.8"/>
<circle cx="1619.7" cy="694.6" r="3.8"/>
<circle cx="1624.8" cy="694.9" r="3.8"/>
<circle cx="1629.7" cy="694.9" r="3.8"/>
<circle cx="1634.5" cy="694.6" r="3.8"/>
<circle cx="1639.1" cy="694.6" r="3.8"/>
<circle cx="1643.5" cy="694.6" r="3.8"/>
<circle cx="1647.9" cy="694.5" r="3.8"/>
<circle cx="1652.0" cy="694.7" r="3.8"/>
<circle cx="1656.1" cy="694.8" r="3.8"/>
<circle cx="1660.0" cy="694.9" r="3.8"/>
<circle cx="1663.9" cy="695.0" r="3.8"/>
<circle cx="1667.6" cy="694.5" r="3.8"/>
<circle cx="1671.2" cy="693.7" r="3.8"/>
<circle cx="1674.7" cy="693.5" r="3.8"/>
<line x1="1678.2" y1="690.0" x2="1678.2" y2="697.6" stroke="#000" stroke-width="4"/>
<circle cx="1678.2" cy="693.8" r="3.8"/>
<line x1="1681.5" y1="689.9" x2="1681.5" y2="697.7" stroke="#000" stroke-width="4"/>
<circle cx="1681.5" cy="693.8" r="3.8"/>
<line x1="1684.8" y1="689.7" x2="1684.8" y2="697.7" stroke="#000" stroke-width="4"/>
<circle cx="1684.8" cy="693.7" r="3.8"/>
<line x1="1688.0" y1="689.6" x2="1688.0" y2="697.7" stroke="#000" stroke-width="4"/>
<circle cx="1688.0" cy="693.6" r="3.8"/>
<line x1="1691.1" y1="689.7" x2="1691.1" y2="698.0" stroke="#000" stroke-width="4"/>
<circle cx="1691.1" cy="693.8" r="3.8"/>
<line x1="1694.2" y1="689.8" x2="1694.2" y2="698.2" stroke="#000" stroke-width="4"/>
<circle cx="1694.2" cy="694.0" r="3.8"/>
<line x1="1697.1" y1="689.5" x2="1697.1" y2="698.0" stroke="#000" stroke-width="4"/>
<circle cx="1697.1" cy="693.7" r="3.8"/>
<line x1="1700.1" y1="688.3" x2="1700.1" y2="697.0" stroke="#000" stroke-width="4"/>
<circle cx="1700.1" cy="692.7" r="3.8"/>
<line x1="1702.9" y1="687.5" x2="1702.9" y2="696.2" stroke="#000" stroke-width="4"/>
<circle cx="1702.9" cy="691.9" r="3.8"/>
<line x1="1705.7" y1="687.5" x2="1705.7" y2="696.4" stroke="#000" stroke-width="4"/>
<circle cx="1705.7" cy="692.0" r="3.8"/>
<line x1="1708.5" y1="687.4" x2="1708.5" y2="696.4" stroke="#000" stroke-width="4"/>
<circle cx="1708.5" cy="691.9" r="3.8"/>
<line x1="1711.2" y1="686.8" x2="1711.2" y2="696.0" stroke="#000" stroke-width="4"/>
<circle cx="1711.2" cy="691.4" r="3.8"/>
<line x1="1713.8" y1="686.7" x2="1713.8" y2="696.0" stroke="#000" stroke-width="4"/>
<circle cx="1713.8" cy="691.4" r="3.8"/>
<line x1="1716.4" y1="686.8" x2="1716.4" y2="696.2" stroke="#000" stroke-width="4"/>
<circle cx="1716.4" cy="691.5" r="3.8"/>
<line x1="1718.9" y1="686.8" x2="1718.9" y2="696.3" stroke="#000" stroke-width="4"/>
<circle cx="1718.9" cy="691.6" r="3.8"/>
<line x1="1721.4" y1="686.9" x2="1721.4" y2="696.6" stroke="#000" stroke-width="4"/>
<circle cx="1721.4" cy="691.7" r="3.8"/>
<line x1="1723.9" y1="687.2" x2="1723.9" y2="697.0" stroke="#000" stroke-width="4"/>
<circle cx="1723.9" cy="692.1" r="3.8"/>
<line x1="1726.3" y1="687.3" x2="1726.3" y2="697.2" stroke="#000" stroke-width="4"/>
<circle cx="1726.3" cy="692.2" r="3.8"/>
<line x1="1728.6" y1="687.1" x2="1728.6" y2="697.2" stroke="#000" stroke-width="4"/>
<circle cx="1728.6" cy="692.1" r="3.8"/>
<line x1="1730.9" y1="686.9" x2="1730.9" y2="697.1" stroke="#000" stroke-width="4"/>
<circle cx="1730.9" cy="692.0" r="3.8"/>
<line x1="1733.2" y1="687.0" x2="1733.2" y2="697.3" stroke="#000" stroke-width="4"/>
<circle cx="1733.2" cy="692.1" r="3.8"/>
<line x1="1735.5" y1="687.5" x2="1735.5" y2="697.9" stroke="#000" stroke-width="4"/>
<circle cx="1735.5" cy="692.7" r="3.8"/>
<line x1="1737.7" y1="687.9" x2="1737.7" y2="698.4" stroke="#000" stroke-width="4"/>
<circle cx="1737.7" cy="693.2" r="3.8"/>
<line x1="1739.9" y1="687.4" x2="1739.9" y2="698.1" stroke="#000" stroke-width="4"/>
<circle cx="1739.9" cy="692.7" r="3.8"/>
<line x1="1742.0" y1="687.0" x2="1742.0" y2="697.8" stroke="#000" stroke-width="4"/>
<circle cx="1742.0" cy="692.4" r="3.8"/>
<line x1="1744.1" y1="687.4" x2="1744.1" y2="698.3" stroke="#000" stroke-width="4"/>
<circle cx="1744.1" cy="692.8" r="3.8"/>
<line x1="1746.2" y1="687.9" x2="1746.2" y2="698.9" stroke="#000" stroke-width="4"/>
<circle cx="1746.2" cy="693.4" r="3.8"/>
<line x1="1748.2" y1="688.0" x2="1748.2" y2="699.1" stroke="#000" stroke-width="4"/>
<circle cx="1748.2" cy="693.6" r="3.8"/>
<line x1="1750.2" y1="688.0" x2="1750.2" y2="699.2" stroke="#000" stroke-width="4"/>
<circle cx="1750.2" cy="693.6" r="3.8"/>
<line x1="1752.2" y1="687.8" x2="1752.2" y2="699.2" stroke="#000" stroke-width="4"/>
<circle cx="1752.2" cy="693.5" r="3.8"/>
<line x1="1754.2" y1="687.6" x2="1754.2" y2="699.0" stroke="#000" stroke-width="4"/>
<circle cx="1754.2" cy="693.3" r="3.8"/>
<line x1="1756.1" y1="687.2" x2="1756.1" y2="698.7" stroke="#000" stroke-width="4"/>
<circle cx="1756.1" cy="692.9" r="3.8"/>
<line x1="1758.0" y1="687.2" x2="1758.0" y2="698.8" stroke="#000" stroke-width="4"/>
<circle cx="1758.0" cy="693.0" r="3.8"/>
<line x1="1759.9" y1="687.1" x2="1759.9" y2="698.8" stroke="#000" stroke-width="4"/>
<circle cx="1759.9" cy="693.0" r="3.8"/>
<line x1="1761.7" y1="686.6" x2="1761.7" y2="698.5" stroke="#000" stroke-width="4"/>
<circle cx="1761.7" cy="692.5" r="3.8"/>
<line x1="1763.5" y1="686.6" x2="1763.5" y2="698.5" stroke="#000" stroke-width="4"/>
<circle cx="1763.5" cy="692.6" r="3.8"/>
<line x1="1765.3" y1="686.9" x2="1765.3" y2="699.0" stroke="#000" stroke-width="4"/>
<circle cx="1765.3" cy="693.0" r="3.8"/>
<line x1="1767.1" y1="686.9" x2="1767.1" y2="699.0" stroke="#000" stroke-width="4"/>
<circle cx="1767.1" cy="693.0" r="3.8"/>
<line x1="1768.9" y1="686.8" x2="1768.9" y2="699.0" stroke="#000" stroke-width="4"/>
<circle cx="1768.9" cy="692.9" r="3.8"/>
<line x1="1770.6" y1="687.2" x2="1770.6" y2="699.5" stroke="#000" stroke-width="4"/>
<circle cx="1770.6" cy="693.3" r="3.8"/>
<line x1="1772.3" y1="687.4" x2="1772.3" y2="699.8" stroke="#000" stroke-width="4"/>
<circle cx="1772.3" cy="693.6" r="3.8"/>
<line x1="1774.0" y1="686.8" x2="1774.0" y2="699.3" stroke="#000" stroke-width="4"/>
<circle cx="1774.0" cy="693.1" r="3.8"/>
<line x1="1775.6" y1="686.5" x2="1775.6" y2="699.0" stroke="#000" stroke-width="4"/>
<circle cx="1775.6" cy="692.7" r="3.8"/>
<line x1="1777.3" y1="686.7" x2="1777.3" y2="699.3" stroke="#000" stroke-width="4"/>
<circle cx="1777.3" cy="693.0" r="3.8"/>
<line x1="1778.9" y1="686.9" x2="1778.9" y2="699.7" stroke="#000" stroke-width="4"/>
<circle cx="1778.9" cy="693.3" r="3.8"/>
<line x1="1780.5" y1="686.9" x2="1780.5" y2="699.7" stroke="#000" stroke-width="4"/>
<circle cx="1780.5" cy="693.3" r="3.8"/>
<line x1="1782.1" y1="686.8" x2="1782.1" y2="699.7" stroke="#000" stroke-width="4"/>
<circle cx="1782.1" cy="693.3" r="3.8"/>
<line x1="1783.7" y1="686.5" x2="1783.7" y2="699.5" stroke="#000" stroke-width="4"/>
<circle cx="1783.7" cy="693.0" r="3.8"/>
<line x1="1785.2" y1="686.0" x2="1785.2" y2="699.0" stroke="#000" stroke-width="4"/>
<circle cx="1785.2" cy="692.5" r="3.8"/>
<line x1="1786.8" y1="685.7" x2="1786.8" y2="698.9" stroke="#000" stroke-width="4"/>
<circle cx="1786.8" cy="692.3" r="3.8"/>
<line x1="1788.3" y1="685.9" x2="1788.3" y2="699.2" stroke="#000" stroke-width="4"/>
<circle cx="1788.3" cy="692.5" r="3.8"/>
<line x1="1789.8" y1="686.0" x2="1789.8" y2="699.3" stroke="#000" stroke-width="4"/>
<circle cx="1789.8" cy="692.7" r="3.8"/>
<line x1="1791.3" y1="686.0" x2="1791.3" y2="699.4" stroke="#000" stroke-width="4"/>
<circle cx="1791.3" cy="692.7" r="3.8"/>
<line x1="1792.7" y1="686.2" x2="1792.7" y2="699.7" stroke="#000" stroke-width="4"/>
<circle cx="1792.7" cy="692.9" r="3.8"/>
<line x1="1794.2" y1="686.3" x2="1794.2" y2="699.9" stroke="#000" stroke-width="4"/>
<circle cx="1794.2" cy="693.1" r="3.8"/>
<line x1="1795.6" y1="686.4" x2="1795.6" y2="700.0" stroke="#000" stroke-width="4"/>
<circle cx="1795.6" cy="693.2" r="3.8"/>
<line x1="1797.1" y1="685.9" x2="1797.1" y2="699.6" stroke="#000" stroke-width="4"/>
<circle cx="1797.1" cy="692.8" r="3.8"/>
<line x1="1798.5" y1="685.4" x2="1798.5" y2="699.2" stroke="#000" stroke-width="4"/>
<circle cx="1798.5" cy="692.3" r="3.8"/>
<line x1="1799.9" y1="685.6" x2="1799.9" y2="699.4" stroke="#000" stroke-width="4"/>
<circle cx="1799.9" cy="692.5" r="3.8"/>
<line x1="1801.2" y1="686.1" x2="1801.2" y2="700.0" stroke="#000" stroke-width="4"/>
<circle cx="1801.2" cy="693.0" r="3.8"/>
<line x1="1802.6" y1="686.3" x2="1802.6" y2="700.3" stroke="#000" stroke-width="4"/>
<circle cx="1802.6" cy="693.3" r="3.8"/>
<line x1="1804.0" y1="686.2" x2="1804.0" y2="700.3" stroke="#000" stroke-width="4"/>
<circle cx="1804.0" cy="693.2" r="3.8"/>
<line x1="1805.3" y1="685.8" x2="1805.3" y2="700.0" stroke="#000" stroke-width="4"/>
<circle cx="1805.3" cy="692.9" r="3.8"/>
<line x1="1806.6" y1="685.8" x2="1806.6" y2="700.1" stroke="#000" stroke-width="4"/>
<circle cx="1806.6" cy="693.0" r="3.8"/>
<line x1="1807.9" y1="686.0" x2="1807.9" y2="700.3" stroke="#000" stroke-width="4"/>
<circle cx="1807.9" cy="693.2" r="3.8"/>
<line x1="1809.2" y1="685.7" x2="1809.2" y2="700.2" stroke="#000" stroke-width="4"/>
<circle cx="1809.2" cy="693.0" r="3.8"/>
<line x1="1810.5" y1="685.4" x2="1810.5" y2="700.0" stroke="#000" stroke-width="4"/>
<circle cx="1810.5" cy="692.7" r="3.8"/>
<line x1="1811.8" y1="685.1" x2="1811.8" y2="699.7" stroke="#000" stroke-width="4"/>
<circle cx="1811.8" cy="692.4" r="3.8"/>
<line x1="1813.1" y1="684.9" x2="1813.1" y2="699.6" stroke="#000" stroke-width="4"/>
<circle cx="1813.1" cy="692.2" r="3.8"/>
<line x1="1814.3" y1="684.8" x2="1814.3" y2="699.7" stroke="#000" stroke-width="4"/>
<circle cx="1814.3" cy="692.3" r="3.8"/>
<line x1="1815.5" y1="685.2" x2="1815.5" y2="700.1" stroke="#000" stroke-width="4"/>
<circle cx="1815.5" cy="692.6" r="3.8"/>
<line x1="1816.8" y1="685.3" x2="1816.8" y2="700.3" stroke="#000" stroke-width="4"/>
<circle cx="1816.8" cy="692.8" r="3.8"/>
<line x1="1818.0" y1="684.9" x2="1818.0" y2="700.1" stroke="#000" stroke-width="4"/>
<circle cx="1818.0" cy="692.5" r="3.8"/>
<line x1="1819.2" y1="684.7" x2="1819.2" y2="699.9" stroke="#000" stroke-width="4"/>
<circle cx="1819.2" cy="692.3" r="3.8"/>
<line x1="1820.4" y1="684.9" x2="1820.4" y2="700.2" stroke="#000" stroke-width="4"/>
<circle cx="1820.4" cy="692.6" r="3.8"/>
<line x1="1821.6" y1="685.2" x2="1821.6" y2="700.6" stroke="#000" stroke-width="4"/>
<circle cx="1821.6" cy="692.9" r="3.8"/>
<line x1="1822.8" y1="685.1" x2="1822.8" y2="700.5" stroke="#000" stroke-width="4"/>
<circle cx="1822.8" cy="692.8" r="3.8"/>
<line x1="1823.9" y1="684.9" x2="1823.9" y2="700.5" stroke="#000" stroke-width="4"/>
<circle cx="1823.9" cy="692.7" r="3.8"/>
<line x1="1825.1" y1="685.1" x2="1825.1" y2="700.7" stroke="#000" stroke-width="4"/>
<circle cx="1825.1" cy="692.9" r="3.8"/>
<line x1="1826.2" y1="684.8" x2="1826.2" y2="700.5" stroke="#000" stroke-width="4"/>
<circle cx="1826.2" cy="692.7" r="3.8"/>
<line x1="1827.4" y1="684.5" x2="1827.4" y2="700.2" stroke="#000" stroke-width="4"/>
<circle cx="1827.4" cy="692.4" r="3.8"/>
<line x1="1828.5" y1="684.7" x2="1828.5" y2="700.6" stroke="#000" stroke-width="4"/>
<circle cx="1828.5" cy="692.7" r="3.8"/>
<line x1="1829.6" y1="684.9" x2="1829.6" y2="700.9" stroke="#000" stroke-width="4"/>
<circle cx="1829.6" cy="692.9" r="3.8"/>
<line x1="1830.7" y1="684.6" x2="1830.7" y2="700.6" stroke="#000" stroke-width="4"/>
<circle cx="1830.7" cy="692.6" r="3.8"/>
<line x1="1831.8" y1="684.5" x2="1831.8" y2="700.6" stroke="#000" stroke-width="4"/>
<circle cx="1831.8" cy="692.6" r="3.8"/>
<line x1="1832.9" y1="684.5" x2="1832.9" y2="700.7" stroke="#000" stroke-width="4"/>
<circle cx="1832.9" cy="692.6" r="3.8"/>
<line x1="1834.0" y1="684.3" x2="1834.0" y2="700.6" stroke="#000" stroke-width="4"/>
<circle cx="1834.0" cy="692.4" r="3.8"/>
<line x1="1835.1" y1="684.2" x2="1835.1" y2="700.6" stroke="#000" stroke-width="4"/>
<circle cx="1835.1" cy="692.4" r="3.8"/>
<line x1="1836.1" y1="684.2" x2="1836.1" y2="700.6" stroke="#000" stroke-width="4"/>
<circle cx="1836.1" cy="692.4" r="3.8"/>
<line x1="1837.2" y1="684.1" x2="1837.2" y2="700.6" stroke="#000" stroke-width="4"/>
<circle cx="1837.2" cy="692.3" r="3.8"/>
<line x1="1838.2" y1="684.3" x2="1838.2" y2="700.8" stroke="#000" stroke-width="4"/>
<circle cx="1838.2" cy="692.6" r="3.8"/>
<line x1="1839.3" y1="684.5" x2="1839.3" y2="701.2" stroke="#000" stroke-width="4"/>
<circle cx="1839.3" cy="692.9" r="3.8"/>
<line x1="1840.3" y1="684.6" x2="1840.3" y2="701.3" stroke="#000" stroke-width="4"/>
<circle cx="1840.3" cy="692.9" r="3.8"/>
<line x1="1841.3" y1="684.5" x2="1841.3" y2="701.3" stroke="#000" stroke-width="4"/>
<circle cx="1841.3" cy="692.9" r="3.8"/>
<line x1="1842.3" y1="684.5" x2="1842.3" y2="701.3" stroke="#000" stroke-width="4"/>
<circle cx="1842.3" cy="692.9" r="3.8"/>
<line x1="1843.4" y1="684.8" x2="1843.4" y2="701.7" stroke="#000" stroke-width="4"/>
<circle cx="1843.4" cy="693.3" r="3.8"/>
<line x1="1844.4" y1="684.9" x2="1844.4" y2="701.9" stroke="#000" stroke-width="4"/>
<circle cx="1844.4" cy="693.4" r="3.8"/>
<line x1="1845.4" y1="684.6" x2="1845.4" y2="701.7" stroke="#000" stroke-width="4"/>
<circle cx="1845.4" cy="693.2" r="3.8"/>
<line x1="1846.3" y1="684.8" x2="1846.3" y2="702.0" stroke="#000" stroke-width="4"/>
<circle cx="1846.3" cy="693.4" r="3.8"/>
<line x1="1847.3" y1="684.9" x2="1847.3" y2="702.1" stroke="#000" stroke-width="4"/>
<circle cx="1847.3" cy="693.5" r="3.8"/>
<line x1="1848.3" y1="684.5" x2="1848.3" y2="701.7" stroke="#000" stroke-width="4"/>
<circle cx="1848.3" cy="693.1" r="3.8"/>
<line x1="1849.3" y1="684.2" x2="1849.3" y2="701.6" stroke="#000" stroke-width="4"/>
<circle cx="1849.3" cy="692.9" r="3.8"/>
<line x1="1850.2" y1="684.2" x2="1850.2" y2="701.6" stroke="#000" stroke-width="4"/>
<circle cx="1850.2" cy="692.9" r="3.8"/>
<line x1="1851.2" y1="684.4" x2="1851.2" y2="701.9" stroke="#000" stroke-width="4"/>
<circle cx="1851.2" cy="693.1" r="3.8"/>
<line x1="1852.1" y1="684.7" x2="1852.1" y2="702.2" stroke="#000" stroke-width="4"/>
<circle cx="1852.1" cy="693.4" r="3.8"/>
<line x1="1853.1" y1="684.6" x2="1853.1" y2="702.3" stroke="#000" stroke-width="4"/>
<circle cx="1853.1" cy="693.5" r="3.8"/>
<line x1="1854.0" y1="684.4" x2="1854.0" y2="702.1" stroke="#000" stroke-width="4"/>
<circle cx="1854.0" cy="693.3" r="3.8"/>
<line x1="1854.9" y1="684.3" x2="1854.9" y2="702.1" stroke="#000" stroke-width="4"/>
<circle cx="1854.9" cy="693.2" r="3.8"/>
<line x1="1855.8" y1="684.3" x2="1855.8" y2="702.2" stroke="#000" stroke-width="4"/>
<circle cx="1855.8" cy="693.3" r="3.8"/>
<line x1="1856.8" y1="684.4" x2="1856.8" y2="702.3" stroke="#000" stroke-width="4"/>
<circle cx="1856.8" cy="693.4" r="3.8"/>
<line x1="1857.7" y1="684.5" x2="1857.7" y2="702.4" stroke="#000" stroke-width="4"/>
<circle cx="1857.7" cy="693.4" r="3.8"/>
<line x1="1858.6" y1="684.4" x2="1858.6" y2="702.5" stroke="#000" stroke-width="4"/>
<circle cx="1858.6" cy="693.5" r="3.8"/>
<line x1="1859.5" y1="684.5" x2="1859.5" y2="702.6" stroke="#000" stroke-width="4"/>
<circle cx="1859.5" cy="693.5" r="3.8"/>
<line x1="1860.4" y1="684.2" x2="1860.4" y2="702.3" stroke="#000" stroke-width="4"/>
<circle cx="1860.4" cy="693.3" r="3.8"/>
<line x1="1861.2" y1="683.7" x2="1861.2" y2="701.9" stroke="#000" stroke-width="4"/>
<circle cx="1861.2" cy="692.8" r="3.8"/>
<line x1="1862.1" y1="683.4" x2="1862.1" y2="701.6" stroke="#000" stroke-width="4"/>
<circle cx="1862.1" cy="692.5" r="3.8"/>
<line x1="1863.0" y1="683.6" x2="1863.0" y2="701.9" stroke="#000" stroke-width="4"/>
<circle cx="1863.0" cy="692.8" r="3.8"/>
<line x1="1863.9" y1="684.1" x2="1863.9" y2="702.5" stroke="#000" stroke-width="4"/>
<circle cx="1863.9" cy="693.3" r="3.8"/>
<line x1="1864.7" y1="683.8" x2="1864.7" y2="702.3" stroke="#000" stroke-width="4"/>
<circle cx="1864.7" cy="693.1" r="3.8"/>
<line x1="1865.6" y1="683.4" x2="1865.6" y2="702.0" stroke="#000" stroke-width="4"/>
<circle cx="1865.6" cy="692.7" r="3.8"/>
<line x1="1866.4" y1="683.6" x2="1866.4" y2="702.2" stroke="#000" stroke-width="4"/>
<circle cx="1866.4" cy="692.9" r="3.8"/>
</g>
<rect x="1160.5" y="737.0" width="18" height="22" fill="#fff" opacity="0.85"/>
<rect x="1143.1" y="1.0" width="757.0" height="615.5" fill="none" stroke="#000" stroke-width="2.2"/>
<rect x="1143.1" y="616.4" width="757.0" height="153.4" fill="none" stroke="#000" stroke-width="2.2"/>
<line x1="1134.1" y1="44.9" x2="1143.1" y2="44.9" stroke="#000" stroke-width="2"/>
<text x="1124.8" y="57.8" font-size="32.8" text-anchor="end">12</text>
<line x1="1134.1" y1="132.8" x2="1143.1" y2="132.8" stroke="#000" stroke-width="2"/>
<text x="1124.8" y="145.8" font-size="32.8" text-anchor="end">14</text>
<line x1="1134.1" y1="220.8" x2="1143.1" y2="220.8" stroke="#000" stroke-width="2"/>
<text x="1124.8" y="233.7" font-size="32.8" text-anchor="end">16</text>
<line x1="1134.1" y1="308.7" x2="1143.1" y2="308.7" stroke="#000" stroke-width="2"/>
<text x="1124.8" y="321.6" font-size="32.8" text-anchor="end">18</text>
<line x1="1134.1" y1="396.6" x2="1143.1" y2="396.6" stroke="#000" stroke-width="2"/>
<text x="1124.8" y="409.5" font-size="32.8" text-anchor="end">20</text>
<line x1="1134.1" y1="484.5" x2="1143.1" y2="484.5" stroke="#000" stroke-width="2"/>
<text x="1124.8" y="497.4" font-size="32.8" text-anchor="end">22</text>
<line x1="1134.1" y1="572.5" x2="1143.1" y2="572.5" stroke="#000" stroke-width="2"/>
<text x="1124.8" y="585.4" font-size="32.8" text-anchor="end">24</text>
<line x1="1134.1" y1="616.5" x2="1143.1" y2="616.5" stroke="#000" stroke-width="2"/>
<text x="1124.8" y="629.4" font-size="32.8" text-anchor="end">0.05</text>
<line x1="1134.1" y1="693.3" x2="1143.1" y2="693.3" stroke="#000" stroke-width="2"/>
<text x="1124.8" y="706.2" font-size="32.8" text-anchor="end">0.00</text>
<line x1="1134.1" y1="770.0" x2="1143.1" y2="770.0" stroke="#000" stroke-width="2"/>
<text x="1124.8" y="782.9" font-size="32.8" text-anchor="end">−0.05</text>
<line x1="1146.9" y1="769.8" x2="1146.9" y2="774.6" stroke="#000" stroke-width="1.6"/>
<line x1="1162.9" y1="769.8" x2="1162.9" y2="774.6" stroke="#000" stroke-width="1.6"/>
<line x1="1177.2" y1="769.8" x2="1177.2" y2="778.8" stroke="#000" stroke-width="2"/>
<text x="1148.4" y="814.1" font-size="32.8">10</text>
<text x="1190.3" y="801.2" font-size="23.2">0</text>
<line x1="1271.3" y1="769.8" x2="1271.3" y2="774.6" stroke="#000" stroke-width="1.6"/>
<line x1="1326.4" y1="769.8" x2="1326.4" y2="774.6" stroke="#000" stroke-width="1.6"/>
<line x1="1365.5" y1="769.8" x2="1365.5" y2="774.6" stroke="#000" stroke-width="1.6"/>
<line x1="1395.8" y1="769.8" x2="1395.8" y2="774.6" stroke="#000" stroke-width="1.6"/>
<line x1="1420.5" y1="769.8" x2="1420.5" y2="774.6" stroke="#000" stroke-width="1.6"/>
<line x1="1441.5" y1="769.8" x2="1441.5" y2="774.6" stroke="#000" stroke-width="1.6"/>
<line x1="1459.6" y1="769.8" x2="1459.6" y2="774.6" stroke="#000" stroke-width="1.6"/>
<line x1="1475.6" y1="769.8" x2="1475.6" y2="774.6" stroke="#000" stroke-width="1.6"/>
<line x1="1489.9" y1="769.8" x2="1489.9" y2="778.8" stroke="#000" stroke-width="2"/>
<text x="1461.1" y="814.1" font-size="32.8">10</text>
<text x="1503.0" y="801.2" font-size="23.2">1</text>
<line x1="1584.0" y1="769.8" x2="1584.0" y2="774.6" stroke="#000" stroke-width="1.6"/>
<line x1="1639.1" y1="769.8" x2="1639.1" y2="774.6" stroke="#000" stroke-width="1.6"/>
<line x1="1678.2" y1="769.8" x2="1678.2" y2="774.6" stroke="#000" stroke-width="1.6"/>
<line x1="1708.5" y1="769.8" x2="1708.5" y2="774.6" stroke="#000" stroke-width="1.6"/>
<line x1="1733.2" y1="769.8" x2="1733.2" y2="774.6" stroke="#000" stroke-width="1.6"/>
<line x1="1754.2" y1="769.8" x2="1754.2" y2="774.6" stroke="#000" stroke-width="1.6"/>
<line x1="1772.3" y1="769.8" x2="1772.3" y2="774.6" stroke="#000" stroke-width="1.6"/>
<line x1="1788.3" y1="769.8" x2="1788.3" y2="774.6" stroke="#000" stroke-width="1.6"/>
<line x1="1802.6" y1="769.8" x2="1802.6" y2="778.8" stroke="#000" stroke-width="2"/>
<text x="1773.8" y="814.1" font-size="32.8">10</text>
<text x="1815.7" y="801.2" font-size="23.2">2</text>
<line x1="1896.7" y1="769.8" x2="1896.7" y2="774.6" stroke="#000" stroke-width="1.6"/>
<text x="1521.4" y="864.1" font-size="43.25" text-anchor="middle">Radius [pixel]</text>
<text transform="translate(1020.1,308.3) rotate(-90)" font-size="43.25" text-anchor="middle">Surface brightness</text>
<text transform="translate(1020.1,693.0) rotate(-90)" font-size="43.25" text-anchor="middle">Residual</text>
<rect x="1167.2" y="23.1" width="153.5" height="57.6" fill="#fff" stroke="#000" stroke-width="2.3"/>
<text x="1177.5" y="62.6" font-size="38.3">F814W</text>
<rect x="1527.8" y="12.5" width="360.7" height="206.0" fill="#fff"/>
<line x1="1564.2" y1="21.5" x2="1564.2" y2="47.3" stroke="#000" stroke-width="4"/>
<circle cx="1564.2" cy="34.4" r="9.7"/>
<circle cx="1564.2" cy="71.8" r="4.65" fill="#1E90FF"/>
<line x1="1538.5" y1="108.8" x2="1590.0" y2="108.8" stroke="#E69F00" stroke-width="5.3" stroke-dasharray="20.3 10.4"/>
<line x1="1538.5" y1="152.1" x2="1590.0" y2="152.1" stroke="#56B4E9" stroke-width="4.9" stroke-dasharray="25.8 5.3 5 5.5"/>
<line x1="1538.5" y1="192.0" x2="1590.0" y2="192.0" stroke="#CC79A7" stroke-width="4.6" stroke-dasharray="4.8 5.28"/>
<g font-size="25.45">
<text x="1594.7" y="42.7">Observed SB</text>
<text x="1594.7" y="80.4">Total model SB</text>
<text x="1594.7" y="117.6">AGN</text>
<text x="1594.7" y="200.1">Sky</text>
</g>
<text y="159.2" font-size="25.45"><tspan x="1594.7">Sérsic profile: </tspan><tspan x="1777.0" font-style="oblique">n</tspan><tspan x="1792.7" dy="4.4" font-size="17.7">S</tspan><tspan x="1809.5" dy="-4.4">=</tspan><tspan x="1835.4">7.3</tspan></text>
<clipPath id="c0_921"><rect x="156.6" y="922.0" width="757.0" height="615.5"/></clipPath>
<clipPath id="c0_921r"><rect x="156.6" y="1537.5" width="757.0" height="153.4"/></clipPath>
<g clip-path="url(#c0_921)">
<polyline points="156.6,1062.7 190.7,1062.7 284.8,1089.9 339.9,1121.0 379.0,1148.6 409.3,1176.3 434.0,1198.2 455.0,1213.2 473.1,1227.5 489.1,1240.8 503.4,1253.5 516.3,1264.9 528.2,1272.9 539.0,1279.8 549.1,1286.4 558.5,1292.3 567.2,1297.6 575.5,1302.6 583.2,1306.3 590.6,1310.2 597.5,1315.1 604.2,1318.8 610.5,1322.4 616.5,1326.5 622.3,1331.8 627.8,1335.7 633.2,1338.0 638.3,1341.2 643.2,1343.5 648.0,1346.0 652.6,1348.0 657.0,1350.4 661.4,1352.5 665.5,1354.6 669.6,1356.2 673.5,1358.0 677.4,1359.6 681.1,1360.8 684.7,1362.2 688.2,1363.7 691.7,1364.6 695.0,1367.2 698.3,1369.3 701.5,1370.1 704.6,1370.9 707.7,1372.4 710.6,1373.9 713.6,1375.1 716.4,1376.6 719.2,1378.1 722.0,1378.7 724.7,1379.7 727.3,1381.1 729.9,1382.8 732.4,1384.4 734.9,1385.1 737.4,1385.8 739.8,1386.5 742.1,1387.4 744.4,1389.7 746.7,1391.9 749.0,1393.1 751.2,1394.2 753.4,1394.7 755.5,1395.1 757.6,1395.7 759.7,1397.3 761.7,1398.6 763.7,1399.8 765.7,1401.2 767.7,1402.6 769.6,1403.6 771.5,1404.7 773.4,1405.1 775.2,1405.2 777.0,1407.0 778.8,1408.8 780.6,1410.4 782.4,1410.1 784.1,1409.8 785.8,1411.5 787.5,1412.9 789.1,1413.2 790.8,1413.9 792.4,1414.4 794.0,1415.1 795.6,1415.8 797.2,1415.6 798.7,1415.3 800.3,1414.8 801.8,1415.9 803.3,1417.2 804.8,1417.7 806.2,1418.2 807.7,1418.7 809.1,1419.2 810.6,1419.2 812.0,1419.1 813.4,1419.0 814.7,1419.3 816.1,1419.5 817.5,1420.3 818.8,1420.7 820.1,1421.0 821.4,1420.7 822.7,1420.4 824.0,1420.7 825.3,1421.0 826.6,1421.6 827.8,1422.1 829.0,1422.7 830.3,1423.3 831.5,1423.9 832.7,1423.7 833.9,1423.5 835.1,1423.7 836.3,1423.8 837.4,1423.7 838.6,1423.4 839.7,1423.6 840.9,1424.1 842.0,1424.2 843.1,1424.1 844.2,1424.3 845.3,1424.8 846.4,1425.5 847.5,1425.9 848.6,1426.3 849.6,1426.4 850.7,1426.9 851.7,1427.7 852.8,1427.8 853.8,1427.9 854.8,1427.9 855.8,1427.8 856.9,1427.8 857.9,1428.3 858.9,1428.3 859.8,1428.1 860.8,1427.9 861.8,1427.6 862.8,1427.5 863.7,1427.2 864.7,1427.3 865.6,1427.8 866.6,1428.3 867.5,1428.4 868.4,1428.7 869.3,1429.1 870.3,1429.1 871.2,1429.2 872.1,1429.7 873.0,1430.3 873.9,1431.0 874.7,1429.7 875.6,1428.2 876.5,1429.2 877.4,1430.4 878.2,1429.9 879.1,1429.5 879.9,1429.5" fill="none" stroke="#000" stroke-width="3.9" stroke-dasharray="12.6 5.4" />
<line x1="749.0" y1="1383.9" x2="749.0" y2="1404.4" stroke="#000" stroke-width="4"/>
<line x1="751.2" y1="1385.6" x2="751.2" y2="1404.8" stroke="#000" stroke-width="4"/>
<line x1="753.4" y1="1386.4" x2="753.4" y2="1404.8" stroke="#000" stroke-width="4"/>
<line x1="755.5" y1="1386.1" x2="755.5" y2="1406.2" stroke="#000" stroke-width="4"/>
<line x1="757.6" y1="1386.7" x2="757.6" y2="1407.0" stroke="#000" stroke-width="4"/>
<line x1="759.7" y1="1387.4" x2="759.7" y2="1409.4" stroke="#000" stroke-width="4"/>
<line x1="761.7" y1="1390.0" x2="761.7" y2="1409.2" stroke="#000" stroke-width="4"/>
<line x1="763.7" y1="1390.8" x2="763.7" y2="1411.0" stroke="#000" stroke-width="4"/>
<line x1="765.7" y1="1392.5" x2="765.7" y2="1412.0" stroke="#000" stroke-width="4"/>
<line x1="767.7" y1="1392.0" x2="767.7" y2="1415.6" stroke="#000" stroke-width="4"/>
<line x1="769.6" y1="1393.1" x2="769.6" y2="1416.5" stroke="#000" stroke-width="4"/>
<line x1="771.5" y1="1394.3" x2="771.5" y2="1417.5" stroke="#000" stroke-width="4"/>
<line x1="773.4" y1="1394.5" x2="773.4" y2="1418.1" stroke="#000" stroke-width="4"/>
<line x1="775.2" y1="1394.3" x2="775.2" y2="1418.7" stroke="#000" stroke-width="4"/>
<line x1="777.0" y1="1396.0" x2="777.0" y2="1420.5" stroke="#000" stroke-width="4"/>
<line x1="778.8" y1="1397.3" x2="778.8" y2="1423.1" stroke="#000" stroke-width="4"/>
<line x1="780.6" y1="1398.7" x2="780.6" y2="1424.9" stroke="#000" stroke-width="4"/>
<line x1="782.4" y1="1397.0" x2="782.4" y2="1426.2" stroke="#000" stroke-width="4"/>
<line x1="784.1" y1="1397.1" x2="784.1" y2="1425.5" stroke="#000" stroke-width="4"/>
<line x1="785.8" y1="1399.3" x2="785.8" y2="1426.7" stroke="#000" stroke-width="4"/>
<line x1="787.5" y1="1400.3" x2="787.5" y2="1428.3" stroke="#000" stroke-width="4"/>
<line x1="789.1" y1="1399.5" x2="789.1" y2="1430.1" stroke="#000" stroke-width="4"/>
<line x1="790.8" y1="1400.5" x2="790.8" y2="1430.4" stroke="#000" stroke-width="4"/>
<line x1="792.4" y1="1401.0" x2="792.4" y2="1431.0" stroke="#000" stroke-width="4"/>
<line x1="794.0" y1="1401.3" x2="794.0" y2="1432.0" stroke="#000" stroke-width="4"/>
<line x1="795.6" y1="1401.4" x2="795.6" y2="1433.6" stroke="#000" stroke-width="4"/>
<line x1="797.2" y1="1402.8" x2="797.2" y2="1431.5" stroke="#000" stroke-width="4"/>
<line x1="798.7" y1="1402.1" x2="798.7" y2="1431.6" stroke="#000" stroke-width="4"/>
<line x1="800.3" y1="1402.1" x2="800.3" y2="1430.5" stroke="#000" stroke-width="4"/>
<line x1="801.8" y1="1401.7" x2="801.8" y2="1433.4" stroke="#000" stroke-width="4"/>
<line x1="803.3" y1="1403.4" x2="803.3" y2="1434.2" stroke="#000" stroke-width="4"/>
<line x1="804.8" y1="1404.0" x2="804.8" y2="1434.6" stroke="#000" stroke-width="4"/>
<line x1="806.2" y1="1404.4" x2="806.2" y2="1435.1" stroke="#000" stroke-width="4"/>
<line x1="807.7" y1="1404.0" x2="807.7" y2="1436.8" stroke="#000" stroke-width="4"/>
<line x1="809.1" y1="1404.8" x2="809.1" y2="1436.8" stroke="#000" stroke-width="4"/>
<line x1="810.6" y1="1405.0" x2="810.6" y2="1436.7" stroke="#000" stroke-width="4"/>
<line x1="812.0" y1="1403.7" x2="812.0" y2="1438.0" stroke="#000" stroke-width="4"/>
<line x1="813.4" y1="1405.0" x2="813.4" y2="1436.4" stroke="#000" stroke-width="4"/>
<line x1="814.7" y1="1405.2" x2="814.7" y2="1436.6" stroke="#000" stroke-width="4"/>
<line x1="816.1" y1="1403.0" x2="816.1" y2="1439.7" stroke="#000" stroke-width="4"/>
<line x1="817.5" y1="1405.6" x2="817.5" y2="1438.4" stroke="#000" stroke-width="4"/>
<line x1="818.8" y1="1406.1" x2="818.8" y2="1438.7" stroke="#000" stroke-width="4"/>
<line x1="820.1" y1="1406.5" x2="820.1" y2="1438.9" stroke="#000" stroke-width="4"/>
<line x1="821.4" y1="1405.8" x2="821.4" y2="1439.1" stroke="#000" stroke-width="4"/>
<line x1="822.7" y1="1404.9" x2="822.7" y2="1439.5" stroke="#000" stroke-width="4"/>
<line x1="824.0" y1="1405.2" x2="824.0" y2="1439.8" stroke="#000" stroke-width="4"/>
<line x1="825.3" y1="1405.6" x2="825.3" y2="1440.0" stroke="#000" stroke-width="4"/>
<line x1="826.6" y1="1406.6" x2="826.6" y2="1440.0" stroke="#000" stroke-width="4"/>
<line x1="827.8" y1="1407.9" x2="827.8" y2="1439.7" stroke="#000" stroke-width="4"/>
<line x1="829.0" y1="1407.4" x2="829.0" y2="1441.6" stroke="#000" stroke-width="4"/>
<line x1="830.3" y1="1407.2" x2="830.3" y2="1443.1" stroke="#000" stroke-width="4"/>
<line x1="831.5" y1="1408.1" x2="831.5" y2="1443.5" stroke="#000" stroke-width="4"/>
<line x1="832.7" y1="1408.6" x2="832.7" y2="1442.4" stroke="#000" stroke-width="4"/>
<line x1="833.9" y1="1407.8" x2="833.9" y2="1442.9" stroke="#000" stroke-width="4"/>
<line x1="835.1" y1="1408.7" x2="835.1" y2="1442.3" stroke="#000" stroke-width="4"/>
<line x1="836.3" y1="1408.6" x2="836.3" y2="1442.7" stroke="#000" stroke-width="4"/>
<line x1="837.4" y1="1409.1" x2="837.4" y2="1441.6" stroke="#000" stroke-width="4"/>
<line x1="838.6" y1="1408.3" x2="838.6" y2="1442.1" stroke="#000" stroke-width="4"/>
<line x1="839.7" y1="1408.2" x2="839.7" y2="1442.7" stroke="#000" stroke-width="4"/>
<line x1="840.9" y1="1408.8" x2="840.9" y2="1443.0" stroke="#000" stroke-width="4"/>
<line x1="842.0" y1="1408.3" x2="842.0" y2="1443.8" stroke="#000" stroke-width="4"/>
<line x1="843.1" y1="1407.6" x2="843.1" y2="1444.5" stroke="#000" stroke-width="4"/>
<line x1="844.2" y1="1408.1" x2="844.2" y2="1444.3" stroke="#000" stroke-width="4"/>
<line x1="845.3" y1="1409.5" x2="845.3" y2="1443.7" stroke="#000" stroke-width="4"/>
<line x1="846.4" y1="1410.5" x2="846.4" y2="1444.1" stroke="#000" stroke-width="4"/>
<line x1="847.5" y1="1410.8" x2="847.5" y2="1444.6" stroke="#000" stroke-width="4"/>
<line x1="848.6" y1="1411.3" x2="848.6" y2="1444.7" stroke="#000" stroke-width="4"/>
<line x1="849.6" y1="1410.9" x2="849.6" y2="1445.6" stroke="#000" stroke-width="4"/>
<line x1="850.7" y1="1411.0" x2="850.7" y2="1446.4" stroke="#000" stroke-width="4"/>
<line x1="851.7" y1="1412.0" x2="851.7" y2="1447.0" stroke="#000" stroke-width="4"/>
<line x1="852.8" y1="1412.1" x2="852.8" y2="1447.2" stroke="#000" stroke-width="4"/>
<line x1="853.8" y1="1412.2" x2="853.8" y2="1447.3" stroke="#000" stroke-width="4"/>
<line x1="854.8" y1="1412.4" x2="854.8" y2="1447.2" stroke="#000" stroke-width="4"/>
<line x1="855.8" y1="1412.5" x2="855.8" y2="1446.6" stroke="#000" stroke-width="4"/>
<line x1="856.9" y1="1411.1" x2="856.9" y2="1448.5" stroke="#000" stroke-width="4"/>
<line x1="857.9" y1="1412.0" x2="857.9" y2="1448.5" stroke="#000" stroke-width="4"/>
<line x1="858.9" y1="1413.1" x2="858.9" y2="1447.1" stroke="#000" stroke-width="4"/>
<line x1="859.8" y1="1412.9" x2="859.8" y2="1446.9" stroke="#000" stroke-width="4"/>
<line x1="860.8" y1="1412.5" x2="860.8" y2="1447.0" stroke="#000" stroke-width="4"/>
<line x1="861.8" y1="1411.8" x2="861.8" y2="1447.2" stroke="#000" stroke-width="4"/>
<line x1="862.8" y1="1410.9" x2="862.8" y2="1447.9" stroke="#000" stroke-width="4"/>
<line x1="863.7" y1="1410.8" x2="863.7" y2="1447.5" stroke="#000" stroke-width="4"/>
<line x1="864.7" y1="1410.8" x2="864.7" y2="1447.7" stroke="#000" stroke-width="4"/>
<line x1="865.6" y1="1411.3" x2="865.6" y2="1448.2" stroke="#000" stroke-width="4"/>
<line x1="866.6" y1="1411.7" x2="866.6" y2="1448.7" stroke="#000" stroke-width="4"/>
<line x1="867.5" y1="1412.0" x2="867.5" y2="1448.6" stroke="#000" stroke-width="4"/>
<line x1="868.4" y1="1412.5" x2="868.4" y2="1448.7" stroke="#000" stroke-width="4"/>
<line x1="869.3" y1="1413.2" x2="869.3" y2="1448.7" stroke="#000" stroke-width="4"/>
<line x1="870.3" y1="1414.1" x2="870.3" y2="1447.5" stroke="#000" stroke-width="4"/>
<line x1="871.2" y1="1413.3" x2="871.2" y2="1448.8" stroke="#000" stroke-width="4"/>
<line x1="872.1" y1="1412.6" x2="872.1" y2="1450.7" stroke="#000" stroke-width="4"/>
<line x1="873.0" y1="1414.6" x2="873.0" y2="1449.6" stroke="#000" stroke-width="4"/>
<line x1="873.9" y1="1415.3" x2="873.9" y2="1450.3" stroke="#000" stroke-width="4"/>
<line x1="874.7" y1="1413.1" x2="874.7" y2="1450.3" stroke="#000" stroke-width="4"/>
<line x1="875.6" y1="1412.1" x2="875.6" y2="1448.1" stroke="#000" stroke-width="4"/>
<line x1="876.5" y1="1413.4" x2="876.5" y2="1448.8" stroke="#000" stroke-width="4"/>
<line x1="877.4" y1="1413.4" x2="877.4" y2="1451.4" stroke="#000" stroke-width="4"/>
<line x1="878.2" y1="1413.4" x2="878.2" y2="1450.3" stroke="#000" stroke-width="4"/>
<line x1="879.1" y1="1412.9" x2="879.1" y2="1450.0" stroke="#000" stroke-width="4"/>
<line x1="879.9" y1="1413.7" x2="879.9" y2="1449.1" stroke="#000" stroke-width="4"/>
<circle cx="190.7" cy="1062.7" r="9.7"/>
<circle cx="284.8" cy="1089.9" r="9.7"/>
<circle cx="339.9" cy="1121.0" r="9.7"/>
<circle cx="379.0" cy="1148.6" r="9.7"/>
<circle cx="409.3" cy="1176.3" r="9.7"/>
<circle cx="434.0" cy="1198.2" r="9.7"/>
<circle cx="455.0" cy="1213.2" r="9.7"/>
<circle cx="473.1" cy="1227.5" r="9.7"/>
<circle cx="489.1" cy="1240.8" r="9.7"/>
<circle cx="503.4" cy="1253.5" r="9.7"/>
<circle cx="516.3" cy="1264.9" r="9.7"/>
<circle cx="528.2" cy="1272.9" r="9.7"/>
<circle cx="539.0" cy="1279.8" r="9.7"/>
<circle cx="549.1" cy="1286.4" r="9.7"/>
<circle cx="558.5" cy="1292.3" r="9.7"/>
<circle cx="567.2" cy="1297.6" r="9.7"/>
<circle cx="575.5" cy="1302.6" r="9.7"/>
<circle cx="583.2" cy="1306.3" r="9.7"/>
<circle cx="590.6" cy="1310.2" r="9.7"/>
<circle cx="597.5" cy="1315.1" r="9.7"/>
<circle cx="604.2" cy="1318.8" r="9.7"/>
<circle cx="610.5" cy="1322.4" r="9.7"/>
<circle cx="616.5" cy="1326.5" r="9.7"/>
<circle cx="622.3" cy="1331.8" r="9.7"/>
<circle cx="627.8" cy="1335.7" r="9.7"/>
<circle cx="633.2" cy="1338.0" r="9.7"/>
<circle cx="638.3" cy="1341.2" r="9.7"/>
<circle cx="643.2" cy="1343.5" r="9.7"/>
<circle cx="648.0" cy="1346.0" r="9.7"/>
<circle cx="652.6" cy="1348.0" r="9.7"/>
<circle cx="657.0" cy="1350.4" r="9.7"/>
<circle cx="661.4" cy="1352.5" r="9.7"/>
<circle cx="665.5" cy="1354.6" r="9.7"/>
<circle cx="669.6" cy="1356.2" r="9.7"/>
<circle cx="673.5" cy="1358.0" r="9.7"/>
<circle cx="677.4" cy="1359.6" r="9.7"/>
<circle cx="681.1" cy="1360.8" r="9.7"/>
<circle cx="684.7" cy="1362.2" r="9.7"/>
<circle cx="688.2" cy="1363.7" r="9.7"/>
<circle cx="691.7" cy="1364.6" r="9.7"/>
<circle cx="695.0" cy="1367.2" r="9.7"/>
<circle cx="698.3" cy="1369.3" r="9.7"/>
<circle cx="701.5" cy="1370.1" r="9.7"/>
<circle cx="704.6" cy="1370.9" r="9.7"/>
<circle cx="707.7" cy="1372.4" r="9.7"/>
<circle cx="710.6" cy="1373.9" r="9.7"/>
<circle cx="713.6" cy="1375.1" r="9.7"/>
<circle cx="716.4" cy="1376.6" r="9.7"/>
<circle cx="719.2" cy="1378.1" r="9.7"/>
<circle cx="722.0" cy="1378.7" r="9.7"/>
<circle cx="724.7" cy="1379.7" r="9.7"/>
<circle cx="727.3" cy="1381.1" r="9.7"/>
<circle cx="729.9" cy="1382.8" r="9.7"/>
<circle cx="732.4" cy="1384.4" r="9.7"/>
<circle cx="734.9" cy="1385.1" r="9.7"/>
<circle cx="737.4" cy="1385.8" r="9.7"/>
<circle cx="739.8" cy="1386.5" r="9.7"/>
<circle cx="742.1" cy="1387.4" r="9.7"/>
<circle cx="744.4" cy="1389.7" r="9.7"/>
<circle cx="746.7" cy="1391.9" r="9.7"/>
<circle cx="749.0" cy="1393.1" r="9.7"/>
<circle cx="751.2" cy="1394.2" r="9.7"/>
<circle cx="753.4" cy="1394.7" r="9.7"/>
<circle cx="755.5" cy="1395.1" r="9.7"/>
<circle cx="757.6" cy="1395.7" r="9.7"/>
<circle cx="759.7" cy="1397.3" r="9.7"/>
<circle cx="761.7" cy="1398.6" r="9.7"/>
<circle cx="763.7" cy="1399.8" r="9.7"/>
<circle cx="765.7" cy="1401.2" r="9.7"/>
<circle cx="767.7" cy="1402.6" r="9.7"/>
<circle cx="769.6" cy="1403.6" r="9.7"/>
<circle cx="771.5" cy="1404.7" r="9.7"/>
<circle cx="773.4" cy="1405.1" r="9.7"/>
<circle cx="775.2" cy="1405.2" r="9.7"/>
<circle cx="777.0" cy="1407.0" r="9.7"/>
<circle cx="778.8" cy="1408.8" r="9.7"/>
<circle cx="780.6" cy="1410.4" r="9.7"/>
<circle cx="782.4" cy="1410.1" r="9.7"/>
<circle cx="784.1" cy="1409.8" r="9.7"/>
<circle cx="785.8" cy="1411.5" r="9.7"/>
<circle cx="787.5" cy="1412.9" r="9.7"/>
<circle cx="789.1" cy="1413.2" r="9.7"/>
<circle cx="790.8" cy="1413.9" r="9.7"/>
<circle cx="792.4" cy="1414.4" r="9.7"/>
<circle cx="794.0" cy="1415.1" r="9.7"/>
<circle cx="795.6" cy="1415.8" r="9.7"/>
<circle cx="797.2" cy="1415.6" r="9.7"/>
<circle cx="798.7" cy="1415.3" r="9.7"/>
<circle cx="800.3" cy="1414.8" r="9.7"/>
<circle cx="801.8" cy="1415.9" r="9.7"/>
<circle cx="803.3" cy="1417.2" r="9.7"/>
<circle cx="804.8" cy="1417.7" r="9.7"/>
<circle cx="806.2" cy="1418.2" r="9.7"/>
<circle cx="807.7" cy="1418.7" r="9.7"/>
<circle cx="809.1" cy="1419.2" r="9.7"/>
<circle cx="810.6" cy="1419.2" r="9.7"/>
<circle cx="812.0" cy="1419.1" r="9.7"/>
<circle cx="813.4" cy="1419.0" r="9.7"/>
<circle cx="814.7" cy="1419.3" r="9.7"/>
<circle cx="816.1" cy="1419.5" r="9.7"/>
<circle cx="817.5" cy="1420.3" r="9.7"/>
<circle cx="818.8" cy="1420.7" r="9.7"/>
<circle cx="820.1" cy="1421.0" r="9.7"/>
<circle cx="821.4" cy="1420.7" r="9.7"/>
<circle cx="822.7" cy="1420.4" r="9.7"/>
<circle cx="824.0" cy="1420.7" r="9.7"/>
<circle cx="825.3" cy="1421.0" r="9.7"/>
<circle cx="826.6" cy="1421.6" r="9.7"/>
<circle cx="827.8" cy="1422.1" r="9.7"/>
<circle cx="829.0" cy="1422.7" r="9.7"/>
<circle cx="830.3" cy="1423.3" r="9.7"/>
<circle cx="831.5" cy="1423.9" r="9.7"/>
<circle cx="832.7" cy="1423.7" r="9.7"/>
<circle cx="833.9" cy="1423.5" r="9.7"/>
<circle cx="835.1" cy="1423.7" r="9.7"/>
<circle cx="836.3" cy="1423.8" r="9.7"/>
<circle cx="837.4" cy="1423.7" r="9.7"/>
<circle cx="838.6" cy="1423.4" r="9.7"/>
<circle cx="839.7" cy="1423.6" r="9.7"/>
<circle cx="840.9" cy="1424.1" r="9.7"/>
<circle cx="842.0" cy="1424.2" r="9.7"/>
<circle cx="843.1" cy="1424.1" r="9.7"/>
<circle cx="844.2" cy="1424.3" r="9.7"/>
<circle cx="845.3" cy="1424.8" r="9.7"/>
<circle cx="846.4" cy="1425.5" r="9.7"/>
<circle cx="847.5" cy="1425.9" r="9.7"/>
<circle cx="848.6" cy="1426.3" r="9.7"/>
<circle cx="849.6" cy="1426.4" r="9.7"/>
<circle cx="850.7" cy="1426.9" r="9.7"/>
<circle cx="851.7" cy="1427.7" r="9.7"/>
<circle cx="852.8" cy="1427.8" r="9.7"/>
<circle cx="853.8" cy="1427.9" r="9.7"/>
<circle cx="854.8" cy="1427.9" r="9.7"/>
<circle cx="855.8" cy="1427.8" r="9.7"/>
<circle cx="856.9" cy="1427.8" r="9.7"/>
<circle cx="857.9" cy="1428.3" r="9.7"/>
<circle cx="858.9" cy="1428.3" r="9.7"/>
<circle cx="859.8" cy="1428.1" r="9.7"/>
<circle cx="860.8" cy="1427.9" r="9.7"/>
<circle cx="861.8" cy="1427.6" r="9.7"/>
<circle cx="862.8" cy="1427.5" r="9.7"/>
<circle cx="863.7" cy="1427.2" r="9.7"/>
<circle cx="864.7" cy="1427.3" r="9.7"/>
<circle cx="865.6" cy="1427.8" r="9.7"/>
<circle cx="866.6" cy="1428.3" r="9.7"/>
<circle cx="867.5" cy="1428.4" r="9.7"/>
<circle cx="868.4" cy="1428.7" r="9.7"/>
<circle cx="869.3" cy="1429.1" r="9.7"/>
<circle cx="870.3" cy="1429.1" r="9.7"/>
<circle cx="871.2" cy="1429.2" r="9.7"/>
<circle cx="872.1" cy="1429.7" r="9.7"/>
<circle cx="873.0" cy="1430.3" r="9.7"/>
<circle cx="873.9" cy="1431.0" r="9.7"/>
<circle cx="874.7" cy="1429.7" r="9.7"/>
<circle cx="875.6" cy="1428.2" r="9.7"/>
<circle cx="876.5" cy="1429.2" r="9.7"/>
<circle cx="877.4" cy="1430.4" r="9.7"/>
<circle cx="878.2" cy="1429.9" r="9.7"/>
<circle cx="879.1" cy="1429.5" r="9.7"/>
<circle cx="879.9" cy="1429.5" r="9.7"/>
</g>
<g stroke="#ababab" stroke-width="2" stroke-dasharray="7.4 3.2" fill="none">
<line x1="160.4" y1="1537.5" x2="160.4" y2="922.0"/>
<line x1="176.4" y1="1537.5" x2="176.4" y2="922.0"/>
<line x1="190.7" y1="1537.5" x2="190.7" y2="922.0"/>
<line x1="284.8" y1="1537.5" x2="284.8" y2="922.0"/>
<line x1="339.9" y1="1537.5" x2="339.9" y2="922.0"/>
<line x1="379.0" y1="1537.5" x2="379.0" y2="922.0"/>
<line x1="409.3" y1="1537.5" x2="409.3" y2="922.0"/>
<line x1="434.0" y1="1537.5" x2="434.0" y2="922.0"/>
<line x1="455.0" y1="1537.5" x2="455.0" y2="922.0"/>
<line x1="473.1" y1="1537.5" x2="473.1" y2="922.0"/>
<line x1="489.1" y1="1537.5" x2="489.1" y2="922.0"/>
<line x1="503.4" y1="1537.5" x2="503.4" y2="922.0"/>
<line x1="597.5" y1="1537.5" x2="597.5" y2="922.0"/>
<line x1="652.6" y1="1537.5" x2="652.6" y2="922.0"/>
<line x1="691.7" y1="1537.5" x2="691.7" y2="922.0"/>
<line x1="722.0" y1="1537.5" x2="722.0" y2="922.0"/>
<line x1="746.7" y1="1537.5" x2="746.7" y2="922.0"/>
<line x1="767.7" y1="1537.5" x2="767.7" y2="922.0"/>
<line x1="785.8" y1="1537.5" x2="785.8" y2="922.0"/>
<line x1="801.8" y1="1537.5" x2="801.8" y2="922.0"/>
<line x1="816.1" y1="1537.5" x2="816.1" y2="922.0"/>
<line x1="910.2" y1="1537.5" x2="910.2" y2="922.0"/>
<line x1="156.6" y1="966.0" x2="913.6" y2="966.0"/>
<line x1="156.6" y1="1053.9" x2="913.6" y2="1053.9"/>
<line x1="156.6" y1="1141.8" x2="913.6" y2="1141.8"/>
<line x1="156.6" y1="1229.7" x2="913.6" y2="1229.7"/>
<line x1="156.6" y1="1317.6" x2="913.6" y2="1317.6"/>
<line x1="156.6" y1="1405.6" x2="913.6" y2="1405.6"/>
<line x1="156.6" y1="1493.5" x2="913.6" y2="1493.5"/>
<line x1="160.4" y1="1690.8" x2="160.4" y2="1537.5"/>
<line x1="176.4" y1="1690.8" x2="176.4" y2="1537.5"/>
<line x1="190.7" y1="1690.8" x2="190.7" y2="1537.5"/>
<line x1="284.8" y1="1690.8" x2="284.8" y2="1537.5"/>
<line x1="339.9" y1="1690.8" x2="339.9" y2="1537.5"/>
<line x1="379.0" y1="1690.8" x2="379.0" y2="1537.5"/>
<line x1="409.3" y1="1690.8" x2="409.3" y2="1537.5"/>
<line x1="434.0" y1="1690.8" x2="434.0" y2="1537.5"/>
<line x1="455.0" y1="1690.8" x2="455.0" y2="1537.5"/>
<line x1="473.1" y1="1690.8" x2="473.1" y2="1537.5"/>
<line x1="489.1" y1="1690.8" x2="489.1" y2="1537.5"/>
<line x1="503.4" y1="1690.8" x2="503.4" y2="1537.5"/>
<line x1="597.5" y1="1690.8" x2="597.5" y2="1537.5"/>
<line x1="652.6" y1="1690.8" x2="652.6" y2="1537.5"/>
<line x1="691.7" y1="1690.8" x2="691.7" y2="1537.5"/>
<line x1="722.0" y1="1690.8" x2="722.0" y2="1537.5"/>
<line x1="746.7" y1="1690.8" x2="746.7" y2="1537.5"/>
<line x1="767.7" y1="1690.8" x2="767.7" y2="1537.5"/>
<line x1="785.8" y1="1690.8" x2="785.8" y2="1537.5"/>
<line x1="801.8" y1="1690.8" x2="801.8" y2="1537.5"/>
<line x1="816.1" y1="1690.8" x2="816.1" y2="1537.5"/>
<line x1="910.2" y1="1690.8" x2="910.2" y2="1537.5"/>
<line x1="156.6" y1="1614.3" x2="913.6" y2="1614.3"/>
</g>
<g clip-path="url(#c0_921)">
<polyline points="156.6,1059.2 190.7,1059.2 284.8,1099.5 339.9,1149.1 379.0,1195.0 409.3,1238.4 434.0,1254.6 455.0,1265.1 473.1,1285.5 489.1,1310.2 503.4,1333.6 516.3,1344.9 528.2,1353.1 539.0,1359.9 549.1,1365.6 558.5,1370.4 567.2,1374.2 575.5,1378.3 583.2,1383.6 590.6,1390.8 597.5,1399.0 604.2,1408.5 610.5,1419.0 616.5,1428.9 622.3,1438.4 627.8,1446.3 633.2,1453.3 638.3,1457.7 643.2,1459.7 648.0,1461.1 652.6,1462.5 657.0,1463.9 661.4,1465.3 665.5,1466.7 669.6,1468.1 673.5,1469.7 677.4,1471.5 681.1,1473.5 684.7,1475.7 688.2,1477.9 691.7,1480.2 695.0,1482.6 698.3,1485.0 701.5,1487.5 704.6,1489.9 707.7,1492.4 710.6,1494.6 713.6,1496.9 716.4,1499.2 719.2,1501.7 722.0,1504.6 724.7,1508.3 727.3,1512.4 729.9,1516.6 732.4,1520.7 734.9,1524.9 737.4,1529.1 739.8,1533.1 742.1,1537.5 744.4,1542.6 746.7,1548.3 749.0,1553.7 751.2,1558.9 753.4,1564.0 755.5,1569.1 757.6,1574.0 759.7,1578.9 761.7,1583.8 763.7,1588.5 765.7,1593.2 767.7,1597.8 769.6,1602.3 771.5,1606.8 773.4,1611.2 775.2,1615.6 777.0,1619.9 778.8,1624.1 780.6,1628.3 782.4,1632.5 784.1,1636.6 785.8,1640.6 787.5,1644.6 789.1,1648.5 790.8,1652.4 792.4,1656.2 794.0,1660.0 795.6,1663.8 797.2,1667.5 798.7,1671.1 800.3,1674.8 801.8,1678.3 803.3,1681.9 804.8,1685.4 806.2,1688.8 807.7,1692.3 809.1,1695.7 810.6,1699.0 812.0,1702.3 813.4,1705.6 814.7,1708.9 816.1,1712.1 817.5,1715.3 818.8,1718.5 820.1,1721.6 821.4,1724.7 822.7,1727.7 824.0,1730.8 825.3,1733.8 826.6,1736.8 827.8,1739.7 829.0,1742.7 830.3,1745.6 831.5,1748.4 832.7,1751.3 833.9,1754.1 835.1,1756.9 836.3,1759.7 837.4,1762.4 838.6,1765.2 839.7,1767.9 840.9,1770.5 842.0,1773.2 843.1,1775.8 844.2,1778.5 845.3,1781.0 846.4,1783.6 847.5,1786.2 848.6,1788.7 849.6,1791.2 850.7,1793.7 851.7,1796.2 852.8,1798.6 853.8,1801.1 854.8,1803.5 855.8,1805.9 856.9,1808.3 857.9,1810.7 858.9,1813.0 859.8,1815.3 860.8,1817.6 861.8,1819.9 862.8,1822.2 863.7,1824.5 864.7,1826.7 865.6,1829.0 866.6,1831.2 867.5,1833.4 868.4,1835.6 869.3,1837.8 870.3,1839.9 871.2,1842.1 872.1,1844.2 873.0,1846.3 873.9,1848.4 874.7,1850.5 875.6,1852.6 876.5,1854.6 877.4,1856.7 878.2,1858.7 879.1,1860.7 879.9,1862.7" fill="none" stroke="#E69F00" stroke-width="5.3" stroke-dasharray="20.3 10.4" />
<polyline points="156.6,1141.5 190.7,1141.5 284.8,1156.1 339.9,1174.4 379.0,1193.0 409.3,1210.3 434.0,1224.1 455.0,1236.8 473.1,1248.3 489.1,1259.7 503.4,1269.8 516.3,1278.6 528.2,1286.4 539.0,1293.5 549.1,1300.3 558.5,1306.5 567.2,1312.3 575.5,1317.8 583.2,1323.1 590.6,1328.4 597.5,1333.7 604.2,1339.0 610.5,1344.2 616.5,1349.5 622.3,1354.6 627.8,1359.7 633.2,1364.6 638.3,1369.4 643.2,1374.1 648.0,1378.6 652.6,1383.0 657.0,1387.3 661.4,1391.5 665.5,1395.6 669.6,1399.7 673.5,1403.7 677.4,1407.6 681.1,1411.4 684.7,1415.2 688.2,1418.9 691.7,1422.6 695.0,1426.2 698.3,1429.8 701.5,1433.4 704.6,1436.9 707.7,1440.4 710.6,1443.8 713.6,1447.2 716.4,1450.5 719.2,1453.8 722.0,1457.0 724.7,1460.2 727.3,1463.3 729.9,1466.5 732.4,1469.6 734.9,1472.6 737.4,1475.6 739.8,1478.6 742.1,1481.5 744.4,1484.3 746.7,1487.1 749.0,1489.8 751.2,1492.5 753.4,1495.2 755.5,1497.9 757.6,1500.5 759.7,1503.1 761.7,1505.5 763.7,1507.9 765.7,1510.2 767.7,1512.4 769.6,1514.5 771.5,1516.5 773.4,1518.4 775.2,1520.3 777.0,1522.2 778.8,1523.9 780.6,1525.7 782.4,1527.4 784.1,1529.1 785.8,1530.8 787.5,1532.5 789.1,1534.0 790.8,1535.7 792.4,1537.5 794.0,1539.3 795.6,1541.3 797.2,1543.2 798.7,1545.3 800.3,1547.4 801.8,1549.2 803.3,1551.1 804.8,1552.9 806.2,1554.8 807.7,1556.6 809.1,1558.3 810.6,1560.1 812.0,1561.8 813.4,1563.6 814.7,1565.3 816.1,1567.0 817.5,1568.6 818.8,1570.3 820.1,1571.9 821.4,1573.6 822.7,1575.2 824.0,1576.8 825.3,1578.4 826.6,1579.9 827.8,1581.5 829.0,1583.0 830.3,1584.5 831.5,1586.0 832.7,1587.5 833.9,1589.0 835.1,1590.5 836.3,1591.9 837.4,1593.4 838.6,1594.8 839.7,1596.2 840.9,1597.6 842.0,1599.0 843.1,1600.4 844.2,1601.8 845.3,1603.2 846.4,1604.5 847.5,1605.8 848.6,1607.2 849.6,1608.5 850.7,1609.8 851.7,1611.1 852.8,1612.4 853.8,1613.7 854.8,1614.9 855.8,1616.2 856.9,1617.5 857.9,1618.7 858.9,1619.9 859.8,1621.2 860.8,1622.4 861.8,1623.6 862.8,1624.8 863.7,1626.0 864.7,1627.1 865.6,1628.3 866.6,1629.5 867.5,1630.6 868.4,1631.8 869.3,1632.9 870.3,1634.1 871.2,1635.2 872.1,1636.3 873.0,1637.4 873.9,1638.5 874.7,1639.6 875.6,1640.7 876.5,1641.8 877.4,1642.8 878.2,1643.9 879.1,1645.0 879.9,1646.0" fill="none" stroke="#56B4E9" stroke-width="4.9" stroke-dasharray="25.8 5.3 5 5.5" />
<polyline points="156.6,1386.5 190.7,1386.5 284.8,1386.7 339.9,1387.1 379.0,1387.4 409.3,1387.6 434.0,1388.1 455.0,1388.7 473.1,1389.3 489.1,1390.0 503.4,1390.6 516.3,1391.3 528.2,1392.0 539.0,1392.8 549.1,1393.6 558.5,1394.6 567.2,1395.8 575.5,1397.1 583.2,1398.4 590.6,1399.7 597.5,1400.8 604.2,1401.9 610.5,1403.0 616.5,1404.0 622.3,1405.1 627.8,1406.1 633.2,1407.1 638.3,1408.1 643.2,1409.0 648.0,1410.0 652.6,1410.9 657.0,1411.9 661.4,1412.8 665.5,1413.8 669.6,1414.7 673.5,1415.6 677.4,1416.6 681.1,1417.5 684.7,1418.4 688.2,1419.3 691.7,1420.2 695.0,1421.1 698.3,1422.1 701.5,1423.0 704.6,1423.9 707.7,1424.8 710.6,1425.8 713.6,1426.7 716.4,1427.6 719.2,1428.5 722.0,1429.4 724.7,1430.3 727.3,1431.3 729.9,1432.2 732.4,1433.1 734.9,1434.0 737.4,1434.9 739.8,1435.9 742.1,1436.8 744.4,1437.7 746.7,1438.6 749.0,1439.6 751.2,1440.5 753.4,1441.4 755.5,1442.3 757.6,1443.3 759.7,1444.2 761.7,1445.1 763.7,1446.1 765.7,1447.0 767.7,1447.9 769.6,1448.9 771.5,1449.8 773.4,1450.7 775.2,1451.7 777.0,1452.6 778.8,1453.5 780.6,1454.5 782.4,1455.4 784.1,1456.4 785.8,1457.3 787.5,1458.3 789.1,1459.3 790.8,1460.3 792.4,1461.2 794.0,1462.2 795.6,1463.2 797.2,1464.2 798.7,1465.2 800.3,1466.2 801.8,1467.2 803.3,1468.2 804.8,1469.2 806.2,1470.2 807.7,1471.2 809.1,1472.3 810.6,1473.3 812.0,1474.3 813.4,1475.3 814.7,1476.3 816.1,1477.2 817.5,1478.2 818.8,1479.1 820.1,1480.1 821.4,1481.0 822.7,1481.9 824.0,1482.9 825.3,1483.8 826.6,1484.7 827.8,1485.6 829.0,1486.5 830.3,1487.4 831.5,1488.3 832.7,1489.2 833.9,1490.1 835.1,1491.0 836.3,1491.9 837.4,1492.8 838.6,1493.7 839.7,1494.6 840.9,1495.5 842.0,1496.5 843.1,1497.4 844.2,1498.3 845.3,1499.3 846.4,1500.2 847.5,1501.1 848.6,1502.1 849.6,1503.0 850.7,1504.0 851.7,1504.9 852.8,1505.9 853.8,1506.8 854.8,1507.8 855.8,1508.7 856.9,1509.7 857.9,1510.6 858.9,1511.6 859.8,1512.5 860.8,1513.4 861.8,1514.4 862.8,1515.3 863.7,1516.2 864.7,1517.2 865.6,1518.1 866.6,1519.0 867.5,1520.0 868.4,1520.9 869.3,1521.8 870.3,1522.8 871.2,1523.7 872.1,1524.6 873.0,1525.6 873.9,1526.5 874.7,1527.5 875.6,1528.4 876.5,1529.4 877.4,1530.3 878.2,1531.3 879.1,1532.2 879.9,1533.1" fill="none" stroke="#009E73" stroke-width="4.9" stroke-dasharray="15.4 5.4 4.6 5.4 4.6 5.1" />
<line x1="162.0" y1="1437.0" x2="879.9" y2="1437.0" stroke="#CC79A7" stroke-width="4.6" stroke-dasharray="4.8 5.28"/>
<polyline points="156.6,1051.8 190.7,1051.8 284.8,1087.7 339.9,1128.4 379.0,1163.2 409.3,1188.6 434.0,1202.8 455.0,1214.2 473.1,1227.7 489.1,1241.2 503.4,1254.1 516.3,1262.8 528.2,1269.9 539.0,1276.5 549.1,1282.8 558.5,1288.7 567.2,1293.8 575.5,1299.1 583.2,1303.7 590.6,1308.3 597.5,1314.3 604.2,1319.0 610.5,1323.6 616.5,1327.5 622.3,1331.3 627.8,1334.7 633.2,1337.9 638.3,1340.8 643.2,1343.6 648.0,1346.2 652.6,1348.7 657.0,1350.9 661.4,1352.9 665.5,1354.7 669.6,1356.4 673.5,1358.0 677.4,1359.7 681.1,1361.3 684.7,1362.9 688.2,1364.4 691.7,1365.9 695.0,1367.4 698.3,1368.8 701.5,1370.2 704.6,1371.5 707.7,1372.8 710.6,1374.1 713.6,1375.4 716.4,1376.7 719.2,1378.0 722.0,1379.3 724.7,1380.7 727.3,1382.0 729.9,1383.4 732.4,1384.8 734.9,1386.1 737.4,1387.4 739.8,1388.7 742.1,1390.0 744.4,1391.3 746.7,1392.5 749.0,1393.7 751.2,1394.9 753.4,1396.2 755.5,1397.4 757.6,1398.6 759.7,1399.8 761.7,1400.9 763.7,1402.0 765.7,1402.9 767.7,1403.8 769.6,1404.7 771.5,1405.6 773.4,1406.4 775.2,1407.2 777.0,1407.9 778.8,1408.7 780.6,1409.4 782.4,1410.0 784.1,1410.6 785.8,1411.2 787.5,1411.7 789.1,1412.2 790.8,1412.6 792.4,1413.0 794.0,1413.4 795.6,1413.8 797.2,1414.2 798.7,1414.6 800.3,1415.0 801.8,1415.4 803.3,1415.8 804.8,1416.2 806.2,1416.6 807.7,1417.0 809.1,1417.4 810.6,1417.8 812.0,1418.3 813.4,1418.7 814.7,1419.1 816.1,1419.4 817.5,1419.6 818.8,1419.9 820.1,1420.0 821.4,1420.2 822.7,1420.4 824.0,1420.6 825.3,1420.8 826.6,1420.9 827.8,1421.1 829.0,1421.2 830.3,1421.4 831.5,1421.6 832.7,1421.8 833.9,1422.0 835.1,1422.3 836.3,1422.5 837.4,1422.8 838.6,1423.1 839.7,1423.4 840.9,1423.7 842.0,1423.9 843.1,1424.2 844.2,1424.4 845.3,1424.6 846.4,1424.8 847.5,1425.0 848.6,1425.2 849.6,1425.4 850.7,1425.6 851.7,1425.8 852.8,1426.0 853.8,1426.2 854.8,1426.3 855.8,1426.5 856.9,1426.6 857.9,1426.8 858.9,1426.9 859.8,1427.1 860.8,1427.2 861.8,1427.4 862.8,1427.6 863.7,1427.7 864.7,1427.9 865.6,1428.0 866.6,1428.2 867.5,1428.3 868.4,1428.5 869.3,1428.7 870.3,1428.8 871.2,1429.0 872.1,1429.1 873.0,1429.3 873.9,1429.5 874.7,1429.6 875.6,1429.8 876.5,1430.0 877.4,1430.1 878.2,1430.3 879.1,1430.5 879.9,1430.7" fill="none" stroke="#1E90FF" stroke-width="3.9" stroke-dasharray="12.6 5.4" />
<g fill="#1E90FF">
<circle cx="190.7" cy="1051.8" r="4.65"/>
<circle cx="284.8" cy="1087.7" r="4.65"/>
<circle cx="339.9" cy="1128.4" r="4.65"/>
<circle cx="379.0" cy="1163.2" r="4.65"/>
<circle cx="409.3" cy="1188.6" r="4.65"/>
<circle cx="434.0" cy="1202.8" r="4.65"/>
<circle cx="455.0" cy="1214.2" r="4.65"/>
<circle cx="473.1" cy="1227.7" r="4.65"/>
<circle cx="489.1" cy="1241.2" r="4.65"/>
<circle cx="503.4" cy="1254.1" r="4.65"/>
<circle cx="516.3" cy="1262.8" r="4.65"/>
<circle cx="528.2" cy="1269.9" r="4.65"/>
<circle cx="539.0" cy="1276.5" r="4.65"/>
<circle cx="549.1" cy="1282.8" r="4.65"/>
<circle cx="558.5" cy="1288.7" r="4.65"/>
<circle cx="567.2" cy="1293.8" r="4.65"/>
<circle cx="575.5" cy="1299.1" r="4.65"/>
<circle cx="583.2" cy="1303.7" r="4.65"/>
<circle cx="590.6" cy="1308.3" r="4.65"/>
<circle cx="597.5" cy="1314.3" r="4.65"/>
<circle cx="604.2" cy="1319.0" r="4.65"/>
<circle cx="610.5" cy="1323.6" r="4.65"/>
<circle cx="616.5" cy="1327.5" r="4.65"/>
<circle cx="622.3" cy="1331.3" r="4.65"/>
<circle cx="627.8" cy="1334.7" r="4.65"/>
<circle cx="633.2" cy="1337.9" r="4.65"/>
<circle cx="638.3" cy="1340.8" r="4.65"/>
<circle cx="643.2" cy="1343.6" r="4.65"/>
<circle cx="648.0" cy="1346.2" r="4.65"/>
<circle cx="652.6" cy="1348.7" r="4.65"/>
<circle cx="657.0" cy="1350.9" r="4.65"/>
<circle cx="661.4" cy="1352.9" r="4.65"/>
<circle cx="665.5" cy="1354.7" r="4.65"/>
<circle cx="669.6" cy="1356.4" r="4.65"/>
<circle cx="673.5" cy="1358.0" r="4.65"/>
<circle cx="677.4" cy="1359.7" r="4.65"/>
<circle cx="681.1" cy="1361.3" r="4.65"/>
<circle cx="684.7" cy="1362.9" r="4.65"/>
<circle cx="688.2" cy="1364.4" r="4.65"/>
<circle cx="691.7" cy="1365.9" r="4.65"/>
<circle cx="695.0" cy="1367.4" r="4.65"/>
<circle cx="698.3" cy="1368.8" r="4.65"/>
<circle cx="701.5" cy="1370.2" r="4.65"/>
<circle cx="704.6" cy="1371.5" r="4.65"/>
<circle cx="707.7" cy="1372.8" r="4.65"/>
<circle cx="710.6" cy="1374.1" r="4.65"/>
<circle cx="713.6" cy="1375.4" r="4.65"/>
<circle cx="716.4" cy="1376.7" r="4.65"/>
<circle cx="719.2" cy="1378.0" r="4.65"/>
<circle cx="722.0" cy="1379.3" r="4.65"/>
<circle cx="724.7" cy="1380.7" r="4.65"/>
<circle cx="727.3" cy="1382.0" r="4.65"/>
<circle cx="729.9" cy="1383.4" r="4.65"/>
<circle cx="732.4" cy="1384.8" r="4.65"/>
<circle cx="734.9" cy="1386.1" r="4.65"/>
<circle cx="737.4" cy="1387.4" r="4.65"/>
<circle cx="739.8" cy="1388.7" r="4.65"/>
<circle cx="742.1" cy="1390.0" r="4.65"/>
<circle cx="744.4" cy="1391.3" r="4.65"/>
<circle cx="746.7" cy="1392.5" r="4.65"/>
<circle cx="749.0" cy="1393.7" r="4.65"/>
<circle cx="751.2" cy="1394.9" r="4.65"/>
<circle cx="753.4" cy="1396.2" r="4.65"/>
<circle cx="755.5" cy="1397.4" r="4.65"/>
<circle cx="757.6" cy="1398.6" r="4.65"/>
<circle cx="759.7" cy="1399.8" r="4.65"/>
<circle cx="761.7" cy="1400.9" r="4.65"/>
<circle cx="763.7" cy="1402.0" r="4.65"/>
<circle cx="765.7" cy="1402.9" r="4.65"/>
<circle cx="767.7" cy="1403.8" r="4.65"/>
<circle cx="769.6" cy="1404.7" r="4.65"/>
<circle cx="771.5" cy="1405.6" r="4.65"/>
<circle cx="773.4" cy="1406.4" r="4.65"/>
<circle cx="775.2" cy="1407.2" r="4.65"/>
<circle cx="777.0" cy="1407.9" r="4.65"/>
<circle cx="778.8" cy="1408.7" r="4.65"/>
<circle cx="780.6" cy="1409.4" r="4.65"/>
<circle cx="782.4" cy="1410.0" r="4.65"/>
<circle cx="784.1" cy="1410.6" r="4.65"/>
<circle cx="785.8" cy="1411.2" r="4.65"/>
<circle cx="787.5" cy="1411.7" r="4.65"/>
<circle cx="789.1" cy="1412.2" r="4.65"/>
<circle cx="790.8" cy="1412.6" r="4.65"/>
<circle cx="792.4" cy="1413.0" r="4.65"/>
<circle cx="794.0" cy="1413.4" r="4.65"/>
<circle cx="795.6" cy="1413.8" r="4.65"/>
<circle cx="797.2" cy="1414.2" r="4.65"/>
<circle cx="798.7" cy="1414.6" r="4.65"/>
<circle cx="800.3" cy="1415.0" r="4.65"/>
<circle cx="801.8" cy="1415.4" r="4.65"/>
<circle cx="803.3" cy="1415.8" r="4.65"/>
<circle cx="804.8" cy="1416.2" r="4.65"/>
<circle cx="806.2" cy="1416.6" r="4.65"/>
<circle cx="807.7" cy="1417.0" r="4.65"/>
<circle cx="809.1" cy="1417.4" r="4.65"/>
<circle cx="810.6" cy="1417.8" r="4.65"/>
<circle cx="812.0" cy="1418.3" r="4.65"/>
<circle cx="813.4" cy="1418.7" r="4.65"/>
<circle cx="814.7" cy="1419.1" r="4.65"/>
<circle cx="816.1" cy="1419.4" r="4.65"/>
<circle cx="817.5" cy="1419.6" r="4.65"/>
<circle cx="818.8" cy="1419.9" r="4.65"/>
<circle cx="820.1" cy="1420.0" r="4.65"/>
<circle cx="821.4" cy="1420.2" r="4.65"/>
<circle cx="822.7" cy="1420.4" r="4.65"/>
<circle cx="824.0" cy="1420.6" r="4.65"/>
<circle cx="825.3" cy="1420.8" r="4.65"/>
<circle cx="826.6" cy="1420.9" r="4.65"/>
<circle cx="827.8" cy="1421.1" r="4.65"/>
<circle cx="829.0" cy="1421.2" r="4.65"/>
<circle cx="830.3" cy="1421.4" r="4.65"/>
<circle cx="831.5" cy="1421.6" r="4.65"/>
<circle cx="832.7" cy="1421.8" r="4.65"/>
<circle cx="833.9" cy="1422.0" r="4.65"/>
<circle cx="835.1" cy="1422.3" r="4.65"/>
<circle cx="836.3" cy="1422.5" r="4.65"/>
<circle cx="837.4" cy="1422.8" r="4.65"/>
<circle cx="838.6" cy="1423.1" r="4.65"/>
<circle cx="839.7" cy="1423.4" r="4.65"/>
<circle cx="840.9" cy="1423.7" r="4.65"/>
<circle cx="842.0" cy="1423.9" r="4.65"/>
<circle cx="843.1" cy="1424.2" r="4.65"/>
<circle cx="844.2" cy="1424.4" r="4.65"/>
<circle cx="845.3" cy="1424.6" r="4.65"/>
<circle cx="846.4" cy="1424.8" r="4.65"/>
<circle cx="847.5" cy="1425.0" r="4.65"/>
<circle cx="848.6" cy="1425.2" r="4.65"/>
<circle cx="849.6" cy="1425.4" r="4.65"/>
<circle cx="850.7" cy="1425.6" r="4.65"/>
<circle cx="851.7" cy="1425.8" r="4.65"/>
<circle cx="852.8" cy="1426.0" r="4.65"/>
<circle cx="853.8" cy="1426.2" r="4.65"/>
<circle cx="854.8" cy="1426.3" r="4.65"/>
<circle cx="855.8" cy="1426.5" r="4.65"/>
<circle cx="856.9" cy="1426.6" r="4.65"/>
<circle cx="857.9" cy="1426.8" r="4.65"/>
<circle cx="858.9" cy="1426.9" r="4.65"/>
<circle cx="859.8" cy="1427.1" r="4.65"/>
<circle cx="860.8" cy="1427.2" r="4.65"/>
<circle cx="861.8" cy="1427.4" r="4.65"/>
<circle cx="862.8" cy="1427.6" r="4.65"/>
<circle cx="863.7" cy="1427.7" r="4.65"/>
<circle cx="864.7" cy="1427.9" r="4.65"/>
<circle cx="865.6" cy="1428.0" r="4.65"/>
<circle cx="866.6" cy="1428.2" r="4.65"/>
<circle cx="867.5" cy="1428.3" r="4.65"/>
<circle cx="868.4" cy="1428.5" r="4.65"/>
<circle cx="869.3" cy="1428.7" r="4.65"/>
<circle cx="870.3" cy="1428.8" r="4.65"/>
<circle cx="871.2" cy="1429.0" r="4.65"/>
<circle cx="872.1" cy="1429.1" r="4.65"/>
<circle cx="873.0" cy="1429.3" r="4.65"/>
<circle cx="873.9" cy="1429.5" r="4.65"/>
<circle cx="874.7" cy="1429.6" r="4.65"/>
<circle cx="875.6" cy="1429.8" r="4.65"/>
<circle cx="876.5" cy="1430.0" r="4.65"/>
<circle cx="877.4" cy="1430.1" r="4.65"/>
<circle cx="878.2" cy="1430.3" r="4.65"/>
<circle cx="879.1" cy="1430.5" r="4.65"/>
<circle cx="879.9" cy="1430.7" r="4.65"/>
</g></g>
<g clip-path="url(#c0_921r)">
<circle cx="190.7" cy="1586.2" r="6.0"/>
<circle cx="284.8" cy="1609.3" r="6.0"/>
<circle cx="339.9" cy="1630.8" r="6.0"/>
<circle cx="379.0" cy="1645.2" r="6.0"/>
<circle cx="409.3" cy="1640.7" r="6.0"/>
<circle cx="434.0" cy="1624.8" r="6.0"/>
<circle cx="455.0" cy="1617.7" r="6.0"/>
<circle cx="473.1" cy="1617.6" r="6.0"/>
<circle cx="489.1" cy="1617.6" r="6.0"/>
<circle cx="503.4" cy="1614.0" r="6.0"/>
<circle cx="516.3" cy="1609.7" r="6.0"/>
<circle cx="528.2" cy="1607.9" r="6.0"/>
<circle cx="539.0" cy="1607.3" r="6.0"/>
<circle cx="549.1" cy="1606.5" r="6.0"/>
<circle cx="558.5" cy="1606.3" r="6.0"/>
<line x1="567.2" y1="1599.6" x2="567.2" y2="1612.5" stroke="#000" stroke-width="4"/>
<circle cx="567.2" cy="1606.0" r="6.0"/>
<line x1="575.5" y1="1599.8" x2="575.5" y2="1613.5" stroke="#000" stroke-width="4"/>
<circle cx="575.5" cy="1606.7" r="6.0"/>
<line x1="583.2" y1="1601.2" x2="583.2" y2="1615.8" stroke="#000" stroke-width="4"/>
<circle cx="583.2" cy="1608.5" r="6.0"/>
<line x1="590.6" y1="1602.7" x2="590.6" y2="1618.0" stroke="#000" stroke-width="4"/>
<circle cx="590.6" cy="1610.3" r="6.0"/>
<line x1="597.5" y1="1604.5" x2="597.5" y2="1620.5" stroke="#000" stroke-width="4"/>
<circle cx="597.5" cy="1612.5" r="6.0"/>
<line x1="604.2" y1="1606.3" x2="604.2" y2="1623.3" stroke="#000" stroke-width="4"/>
<circle cx="604.2" cy="1614.8" r="6.0"/>
<line x1="610.5" y1="1608.2" x2="610.5" y2="1626.0" stroke="#000" stroke-width="4"/>
<circle cx="610.5" cy="1617.1" r="6.0"/>
<line x1="616.5" y1="1607.1" x2="616.5" y2="1625.9" stroke="#000" stroke-width="4"/>
<circle cx="616.5" cy="1616.5" r="6.0"/>
<line x1="622.3" y1="1603.5" x2="622.3" y2="1623.1" stroke="#000" stroke-width="4"/>
<circle cx="622.3" cy="1613.3" r="6.0"/>
<line x1="627.8" y1="1602.1" x2="627.8" y2="1622.5" stroke="#000" stroke-width="4"/>
<circle cx="627.8" cy="1612.3" r="6.0"/>
<line x1="633.2" y1="1603.6" x2="633.2" y2="1624.8" stroke="#000" stroke-width="4"/>
<circle cx="633.2" cy="1614.2" r="6.0"/>
<line x1="638.3" y1="1602.6" x2="638.3" y2="1624.5" stroke="#000" stroke-width="4"/>
<circle cx="638.3" cy="1613.6" r="6.0"/>
<line x1="643.2" y1="1603.2" x2="643.2" y2="1625.8" stroke="#000" stroke-width="4"/>
<circle cx="643.2" cy="1614.5" r="6.0"/>
<line x1="648.0" y1="1603.1" x2="648.0" y2="1626.5" stroke="#000" stroke-width="4"/>
<circle cx="648.0" cy="1614.8" r="6.0"/>
<line x1="652.6" y1="1603.9" x2="652.6" y2="1627.9" stroke="#000" stroke-width="4"/>
<circle cx="652.6" cy="1615.9" r="6.0"/>
<line x1="657.0" y1="1603.2" x2="657.0" y2="1627.4" stroke="#000" stroke-width="4"/>
<circle cx="657.0" cy="1615.3" r="6.0"/>
<line x1="661.4" y1="1602.9" x2="661.4" y2="1627.4" stroke="#000" stroke-width="4"/>
<circle cx="661.4" cy="1615.2" r="6.0"/>
<line x1="665.5" y1="1600.4" x2="665.5" y2="1628.9" stroke="#000" stroke-width="4"/>
<circle cx="665.5" cy="1614.7" r="6.0"/>
<line x1="669.6" y1="1599.9" x2="669.6" y2="1629.9" stroke="#000" stroke-width="4"/>
<circle cx="669.6" cy="1614.9" r="6.0"/>
<line x1="673.5" y1="1601.6" x2="673.5" y2="1627.4" stroke="#000" stroke-width="4"/>
<circle cx="673.5" cy="1614.5" r="6.0"/>
<line x1="677.4" y1="1600.5" x2="677.4" y2="1628.4" stroke="#000" stroke-width="4"/>
<circle cx="677.4" cy="1614.4" r="6.0"/>
<line x1="681.1" y1="1600.6" x2="681.1" y2="1630.1" stroke="#000" stroke-width="4"/>
<circle cx="681.1" cy="1615.3" r="6.0"/>
<line x1="684.7" y1="1601.7" x2="684.7" y2="1629.7" stroke="#000" stroke-width="4"/>
<circle cx="684.7" cy="1615.7" r="6.0"/>
<line x1="688.2" y1="1601.8" x2="688.2" y2="1629.9" stroke="#000" stroke-width="4"/>
<circle cx="688.2" cy="1615.9" r="6.0"/>
<line x1="691.7" y1="1602.9" x2="691.7" y2="1631.5" stroke="#000" stroke-width="4"/>
<circle cx="691.7" cy="1617.2" r="6.0"/>
<line x1="695.0" y1="1598.7" x2="695.0" y2="1630.9" stroke="#000" stroke-width="4"/>
<circle cx="695.0" cy="1614.8" r="6.0"/>
<line x1="698.3" y1="1598.6" x2="698.3" y2="1627.8" stroke="#000" stroke-width="4"/>
<circle cx="698.3" cy="1613.2" r="6.0"/>
<line x1="701.5" y1="1597.7" x2="701.5" y2="1631.4" stroke="#000" stroke-width="4"/>
<circle cx="701.5" cy="1614.6" r="6.0"/>
<line x1="704.6" y1="1599.7" x2="704.6" y2="1631.8" stroke="#000" stroke-width="4"/>
<circle cx="704.6" cy="1615.8" r="6.0"/>
<line x1="707.7" y1="1598.4" x2="707.7" y2="1632.3" stroke="#000" stroke-width="4"/>
<circle cx="707.7" cy="1615.3" r="6.0"/>
<line x1="710.6" y1="1597.0" x2="710.6" y2="1632.9" stroke="#000" stroke-width="4"/>
<circle cx="710.6" cy="1615.0" r="6.0"/>
<line x1="713.6" y1="1599.1" x2="713.6" y2="1631.1" stroke="#000" stroke-width="4"/>
<circle cx="713.6" cy="1615.1" r="6.0"/>
<line x1="716.4" y1="1598.5" x2="716.4" y2="1630.6" stroke="#000" stroke-width="4"/>
<circle cx="716.4" cy="1614.5" r="6.0"/>
<line x1="719.2" y1="1596.7" x2="719.2" y2="1631.7" stroke="#000" stroke-width="4"/>
<circle cx="719.2" cy="1614.2" r="6.0"/>
<line x1="722.0" y1="1599.6" x2="722.0" y2="1632.1" stroke="#000" stroke-width="4"/>
<circle cx="722.0" cy="1615.8" r="6.0"/>
<line x1="724.7" y1="1599.6" x2="724.7" y2="1633.1" stroke="#000" stroke-width="4"/>
<circle cx="724.7" cy="1616.4" r="6.0"/>
<line x1="727.3" y1="1598.8" x2="727.3" y2="1634.0" stroke="#000" stroke-width="4"/>
<circle cx="727.3" cy="1616.4" r="6.0"/>
<line x1="729.9" y1="1597.5" x2="729.9" y2="1633.6" stroke="#000" stroke-width="4"/>
<circle cx="729.9" cy="1615.6" r="6.0"/>
<line x1="732.4" y1="1598.3" x2="732.4" y2="1632.0" stroke="#000" stroke-width="4"/>
<circle cx="732.4" cy="1615.2" r="6.0"/>
<line x1="734.9" y1="1598.6" x2="734.9" y2="1634.4" stroke="#000" stroke-width="4"/>
<circle cx="734.9" cy="1616.5" r="6.0"/>
<line x1="737.4" y1="1598.9" x2="737.4" y2="1637.0" stroke="#000" stroke-width="4"/>
<circle cx="737.4" cy="1618.0" r="6.0"/>
<line x1="739.8" y1="1599.2" x2="739.8" y2="1639.1" stroke="#000" stroke-width="4"/>
<circle cx="739.8" cy="1619.2" r="6.0"/>
<line x1="742.1" y1="1603.1" x2="742.1" y2="1636.9" stroke="#000" stroke-width="4"/>
<circle cx="742.1" cy="1620.0" r="6.0"/>
<line x1="744.4" y1="1597.5" x2="744.4" y2="1638.1" stroke="#000" stroke-width="4"/>
<circle cx="744.4" cy="1617.8" r="6.0"/>
<line x1="746.7" y1="1595.6" x2="746.7" y2="1635.7" stroke="#000" stroke-width="4"/>
<circle cx="746.7" cy="1615.6" r="6.0"/>
<line x1="749.0" y1="1597.5" x2="749.0" y2="1634.0" stroke="#000" stroke-width="4"/>
<circle cx="749.0" cy="1615.7" r="6.0"/>
<line x1="751.2" y1="1598.0" x2="751.2" y2="1634.1" stroke="#000" stroke-width="4"/>
<circle cx="751.2" cy="1616.0" r="6.0"/>
<line x1="753.4" y1="1597.6" x2="753.4" y2="1637.8" stroke="#000" stroke-width="4"/>
<circle cx="753.4" cy="1617.7" r="6.0"/>
<line x1="755.5" y1="1600.0" x2="755.5" y2="1638.8" stroke="#000" stroke-width="4"/>
<circle cx="755.5" cy="1619.4" r="6.0"/>
<line x1="757.6" y1="1600.5" x2="757.6" y2="1640.8" stroke="#000" stroke-width="4"/>
<circle cx="757.6" cy="1620.7" r="6.0"/>
<line x1="759.7" y1="1598.9" x2="759.7" y2="1641.0" stroke="#000" stroke-width="4"/>
<circle cx="759.7" cy="1619.9" r="6.0"/>
<line x1="761.7" y1="1599.4" x2="761.7" y2="1639.4" stroke="#000" stroke-width="4"/>
<circle cx="761.7" cy="1619.4" r="6.0"/>
<line x1="763.7" y1="1598.3" x2="763.7" y2="1639.7" stroke="#000" stroke-width="4"/>
<circle cx="763.7" cy="1619.0" r="6.0"/>
<line x1="765.7" y1="1597.0" x2="765.7" y2="1639.3" stroke="#000" stroke-width="4"/>
<circle cx="765.7" cy="1618.1" r="6.0"/>
<line x1="767.7" y1="1595.4" x2="767.7" y2="1638.9" stroke="#000" stroke-width="4"/>
<circle cx="767.7" cy="1617.1" r="6.0"/>
<line x1="769.6" y1="1594.0" x2="769.6" y2="1639.6" stroke="#000" stroke-width="4"/>
<circle cx="769.6" cy="1616.8" r="6.0"/>
<line x1="771.5" y1="1593.3" x2="771.5" y2="1639.1" stroke="#000" stroke-width="4"/>
<circle cx="771.5" cy="1616.2" r="6.0"/>
<line x1="773.4" y1="1595.6" x2="773.4" y2="1638.8" stroke="#000" stroke-width="4"/>
<circle cx="773.4" cy="1617.2" r="6.0"/>
<line x1="775.2" y1="1597.3" x2="775.2" y2="1639.9" stroke="#000" stroke-width="4"/>
<circle cx="775.2" cy="1618.6" r="6.0"/>
<line x1="777.0" y1="1592.4" x2="777.0" y2="1640.4" stroke="#000" stroke-width="4"/>
<circle cx="777.0" cy="1616.4" r="6.0"/>
<line x1="778.8" y1="1591.5" x2="778.8" y2="1636.4" stroke="#000" stroke-width="4"/>
<circle cx="778.8" cy="1614.0" r="6.0"/>
<line x1="780.6" y1="1589.6" x2="780.6" y2="1634.4" stroke="#000" stroke-width="4"/>
<circle cx="780.6" cy="1612.0" r="6.0"/>
<line x1="782.4" y1="1593.2" x2="782.4" y2="1635.3" stroke="#000" stroke-width="4"/>
<circle cx="782.4" cy="1614.3" r="6.0"/>
<line x1="784.1" y1="1593.1" x2="784.1" y2="1639.1" stroke="#000" stroke-width="4"/>
<circle cx="784.1" cy="1616.1" r="6.0"/>
<line x1="785.8" y1="1592.0" x2="785.8" y2="1635.3" stroke="#000" stroke-width="4"/>
<circle cx="785.8" cy="1613.7" r="6.0"/>
<line x1="787.5" y1="1589.7" x2="787.5" y2="1633.9" stroke="#000" stroke-width="4"/>
<circle cx="787.5" cy="1611.8" r="6.0"/>
<line x1="789.1" y1="1590.7" x2="789.1" y2="1633.5" stroke="#000" stroke-width="4"/>
<circle cx="789.1" cy="1612.1" r="6.0"/>
<line x1="790.8" y1="1589.2" x2="790.8" y2="1633.8" stroke="#000" stroke-width="4"/>
<circle cx="790.8" cy="1611.5" r="6.0"/>
<line x1="792.4" y1="1588.2" x2="792.4" y2="1634.3" stroke="#000" stroke-width="4"/>
<circle cx="792.4" cy="1611.3" r="6.0"/>
<line x1="794.0" y1="1589.1" x2="794.0" y2="1632.4" stroke="#000" stroke-width="4"/>
<circle cx="794.0" cy="1610.7" r="6.0"/>
<line x1="795.6" y1="1587.6" x2="795.6" y2="1632.3" stroke="#000" stroke-width="4"/>
<circle cx="795.6" cy="1609.9" r="6.0"/>
<line x1="797.2" y1="1587.8" x2="797.2" y2="1634.4" stroke="#000" stroke-width="4"/>
<circle cx="797.2" cy="1611.1" r="6.0"/>
<line x1="798.7" y1="1590.5" x2="798.7" y2="1635.0" stroke="#000" stroke-width="4"/>
<circle cx="798.7" cy="1612.7" r="6.0"/>
<line x1="800.3" y1="1592.2" x2="800.3" y2="1637.1" stroke="#000" stroke-width="4"/>
<circle cx="800.3" cy="1614.7" r="6.0"/>
<line x1="801.8" y1="1590.2" x2="801.8" y2="1636.1" stroke="#000" stroke-width="4"/>
<circle cx="801.8" cy="1613.1" r="6.0"/>
<line x1="803.3" y1="1588.7" x2="803.3" y2="1633.7" stroke="#000" stroke-width="4"/>
<circle cx="803.3" cy="1611.2" r="6.0"/>
<line x1="804.8" y1="1586.3" x2="804.8" y2="1635.6" stroke="#000" stroke-width="4"/>
<circle cx="804.8" cy="1611.0" r="6.0"/>
<line x1="806.2" y1="1587.7" x2="806.2" y2="1634.0" stroke="#000" stroke-width="4"/>
<circle cx="806.2" cy="1610.8" r="6.0"/>
<line x1="807.7" y1="1585.6" x2="807.7" y2="1635.7" stroke="#000" stroke-width="4"/>
<circle cx="807.7" cy="1610.6" r="6.0"/>
<line x1="809.1" y1="1585.1" x2="809.1" y2="1635.8" stroke="#000" stroke-width="4"/>
<circle cx="809.1" cy="1610.5" r="6.0"/>
<line x1="810.6" y1="1587.9" x2="810.6" y2="1634.6" stroke="#000" stroke-width="4"/>
<circle cx="810.6" cy="1611.3" r="6.0"/>
<line x1="812.0" y1="1587.9" x2="812.0" y2="1637.3" stroke="#000" stroke-width="4"/>
<circle cx="812.0" cy="1612.6" r="6.0"/>
<line x1="813.4" y1="1589.4" x2="813.4" y2="1638.0" stroke="#000" stroke-width="4"/>
<circle cx="813.4" cy="1613.7" r="6.0"/>
<line x1="814.7" y1="1590.3" x2="814.7" y2="1637.8" stroke="#000" stroke-width="4"/>
<circle cx="814.7" cy="1614.1" r="6.0"/>
<line x1="816.1" y1="1589.6" x2="816.1" y2="1638.9" stroke="#000" stroke-width="4"/>
<circle cx="816.1" cy="1614.3" r="6.0"/>
<line x1="817.5" y1="1588.0" x2="817.5" y2="1637.8" stroke="#000" stroke-width="4"/>
<circle cx="817.5" cy="1612.9" r="6.0"/>
<line x1="818.8" y1="1586.5" x2="818.8" y2="1638.5" stroke="#000" stroke-width="4"/>
<circle cx="818.8" cy="1612.5" r="6.0"/>
<line x1="820.1" y1="1585.8" x2="820.1" y2="1638.6" stroke="#000" stroke-width="4"/>
<circle cx="820.1" cy="1612.2" r="6.0"/>
<line x1="821.4" y1="1588.9" x2="821.4" y2="1637.7" stroke="#000" stroke-width="4"/>
<circle cx="821.4" cy="1613.3" r="6.0"/>
<line x1="822.7" y1="1589.2" x2="822.7" y2="1639.6" stroke="#000" stroke-width="4"/>
<circle cx="822.7" cy="1614.4" r="6.0"/>
<line x1="824.0" y1="1587.8" x2="824.0" y2="1640.4" stroke="#000" stroke-width="4"/>
<circle cx="824.0" cy="1614.1" r="6.0"/>
<line x1="825.3" y1="1586.7" x2="825.3" y2="1640.8" stroke="#000" stroke-width="4"/>
<circle cx="825.3" cy="1613.7" r="6.0"/>
<line x1="826.6" y1="1589.4" x2="826.6" y2="1636.5" stroke="#000" stroke-width="4"/>
<circle cx="826.6" cy="1612.9" r="6.0"/>
<line x1="827.8" y1="1584.8" x2="827.8" y2="1639.5" stroke="#000" stroke-width="4"/>
<circle cx="827.8" cy="1612.1" r="6.0"/>
<line x1="829.0" y1="1585.2" x2="829.0" y2="1637.3" stroke="#000" stroke-width="4"/>
<circle cx="829.0" cy="1611.2" r="6.0"/>
<line x1="830.3" y1="1582.3" x2="830.3" y2="1638.1" stroke="#000" stroke-width="4"/>
<circle cx="830.3" cy="1610.2" r="6.0"/>
<line x1="831.5" y1="1583.2" x2="831.5" y2="1635.2" stroke="#000" stroke-width="4"/>
<circle cx="831.5" cy="1609.2" r="6.0"/>
<line x1="832.7" y1="1584.3" x2="832.7" y2="1635.8" stroke="#000" stroke-width="4"/>
<circle cx="832.7" cy="1610.0" r="6.0"/>
<line x1="833.9" y1="1584.3" x2="833.9" y2="1637.7" stroke="#000" stroke-width="4"/>
<circle cx="833.9" cy="1611.0" r="6.0"/>
<line x1="835.1" y1="1583.2" x2="835.1" y2="1639.1" stroke="#000" stroke-width="4"/>
<circle cx="835.1" cy="1611.1" r="6.0"/>
<line x1="836.3" y1="1584.6" x2="836.3" y2="1638.4" stroke="#000" stroke-width="4"/>
<circle cx="836.3" cy="1611.5" r="6.0"/>
<line x1="837.4" y1="1587.9" x2="837.4" y2="1637.2" stroke="#000" stroke-width="4"/>
<circle cx="837.4" cy="1612.6" r="6.0"/>
<line x1="838.6" y1="1586.0" x2="838.6" y2="1641.5" stroke="#000" stroke-width="4"/>
<circle cx="838.6" cy="1613.7" r="6.0"/>
<line x1="839.7" y1="1588.3" x2="839.7" y2="1639.6" stroke="#000" stroke-width="4"/>
<circle cx="839.7" cy="1613.9" r="6.0"/>
<line x1="840.9" y1="1587.0" x2="840.9" y2="1639.7" stroke="#000" stroke-width="4"/>
<circle cx="840.9" cy="1613.4" r="6.0"/>
<line x1="842.0" y1="1587.5" x2="842.0" y2="1640.0" stroke="#000" stroke-width="4"/>
<circle cx="842.0" cy="1613.8" r="6.0"/>
<line x1="843.1" y1="1588.7" x2="843.1" y2="1640.1" stroke="#000" stroke-width="4"/>
<circle cx="843.1" cy="1614.4" r="6.0"/>
<line x1="844.2" y1="1588.1" x2="844.2" y2="1640.9" stroke="#000" stroke-width="4"/>
<circle cx="844.2" cy="1614.5" r="6.0"/>
<line x1="845.3" y1="1587.1" x2="845.3" y2="1640.6" stroke="#000" stroke-width="4"/>
<circle cx="845.3" cy="1613.9" r="6.0"/>
<line x1="846.4" y1="1585.6" x2="846.4" y2="1640.0" stroke="#000" stroke-width="4"/>
<circle cx="846.4" cy="1612.8" r="6.0"/>
<line x1="847.5" y1="1584.4" x2="847.5" y2="1640.2" stroke="#000" stroke-width="4"/>
<circle cx="847.5" cy="1612.3" r="6.0"/>
<line x1="848.6" y1="1584.4" x2="848.6" y2="1639.8" stroke="#000" stroke-width="4"/>
<circle cx="848.6" cy="1612.1" r="6.0"/>
<line x1="849.6" y1="1585.5" x2="849.6" y2="1638.8" stroke="#000" stroke-width="4"/>
<circle cx="849.6" cy="1612.2" r="6.0"/>
<line x1="850.7" y1="1583.6" x2="850.7" y2="1639.7" stroke="#000" stroke-width="4"/>
<circle cx="850.7" cy="1611.6" r="6.0"/>
<line x1="851.7" y1="1581.0" x2="851.7" y2="1639.6" stroke="#000" stroke-width="4"/>
<circle cx="851.7" cy="1610.3" r="6.0"/>
<line x1="852.8" y1="1580.9" x2="852.8" y2="1639.7" stroke="#000" stroke-width="4"/>
<circle cx="852.8" cy="1610.3" r="6.0"/>
<line x1="853.8" y1="1581.9" x2="853.8" y2="1639.2" stroke="#000" stroke-width="4"/>
<circle cx="853.8" cy="1610.5" r="6.0"/>
<line x1="854.8" y1="1581.5" x2="854.8" y2="1640.0" stroke="#000" stroke-width="4"/>
<circle cx="854.8" cy="1610.8" r="6.0"/>
<line x1="855.8" y1="1581.9" x2="855.8" y2="1641.2" stroke="#000" stroke-width="4"/>
<circle cx="855.8" cy="1611.5" r="6.0"/>
<line x1="856.9" y1="1581.5" x2="856.9" y2="1641.9" stroke="#000" stroke-width="4"/>
<circle cx="856.9" cy="1611.7" r="6.0"/>
<line x1="857.9" y1="1580.4" x2="857.9" y2="1641.6" stroke="#000" stroke-width="4"/>
<circle cx="857.9" cy="1611.0" r="6.0"/>
<line x1="858.9" y1="1582.6" x2="858.9" y2="1640.0" stroke="#000" stroke-width="4"/>
<circle cx="858.9" cy="1611.3" r="6.0"/>
<line x1="859.8" y1="1583.2" x2="859.8" y2="1640.9" stroke="#000" stroke-width="4"/>
<circle cx="859.8" cy="1612.1" r="6.0"/>
<line x1="860.8" y1="1582.1" x2="860.8" y2="1643.5" stroke="#000" stroke-width="4"/>
<circle cx="860.8" cy="1612.8" r="6.0"/>
<line x1="861.8" y1="1582.9" x2="861.8" y2="1644.7" stroke="#000" stroke-width="4"/>
<circle cx="861.8" cy="1613.8" r="6.0"/>
<line x1="862.8" y1="1583.6" x2="862.8" y2="1645.5" stroke="#000" stroke-width="4"/>
<circle cx="862.8" cy="1614.6" r="6.0"/>
<line x1="863.7" y1="1588.3" x2="863.7" y2="1642.6" stroke="#000" stroke-width="4"/>
<circle cx="863.7" cy="1615.4" r="6.0"/>
<line x1="864.7" y1="1586.2" x2="864.7" y2="1644.9" stroke="#000" stroke-width="4"/>
<circle cx="864.7" cy="1615.6" r="6.0"/>
<line x1="865.6" y1="1588.4" x2="865.6" y2="1641.2" stroke="#000" stroke-width="4"/>
<circle cx="865.6" cy="1614.8" r="6.0"/>
<line x1="866.6" y1="1583.6" x2="866.6" y2="1644.6" stroke="#000" stroke-width="4"/>
<circle cx="866.6" cy="1614.1" r="6.0"/>
<line x1="867.5" y1="1584.4" x2="867.5" y2="1644.1" stroke="#000" stroke-width="4"/>
<circle cx="867.5" cy="1614.2" r="6.0"/>
<line x1="868.4" y1="1584.0" x2="868.4" y2="1643.9" stroke="#000" stroke-width="4"/>
<circle cx="868.4" cy="1613.9" r="6.0"/>
<line x1="869.3" y1="1583.5" x2="869.3" y2="1643.3" stroke="#000" stroke-width="4"/>
<circle cx="869.3" cy="1613.4" r="6.0"/>
<line x1="870.3" y1="1582.4" x2="870.3" y2="1645.2" stroke="#000" stroke-width="4"/>
<circle cx="870.3" cy="1613.8" r="6.0"/>
<line x1="871.2" y1="1584.0" x2="871.2" y2="1643.7" stroke="#000" stroke-width="4"/>
<circle cx="871.2" cy="1613.8" r="6.0"/>
<line x1="872.1" y1="1581.9" x2="872.1" y2="1644.5" stroke="#000" stroke-width="4"/>
<circle cx="872.1" cy="1613.2" r="6.0"/>
<line x1="873.0" y1="1581.3" x2="873.0" y2="1643.1" stroke="#000" stroke-width="4"/>
<circle cx="873.0" cy="1612.2" r="6.0"/>
<line x1="873.9" y1="1580.2" x2="873.9" y2="1641.8" stroke="#000" stroke-width="4"/>
<circle cx="873.9" cy="1611.0" r="6.0"/>
<line x1="874.7" y1="1583.2" x2="874.7" y2="1645.1" stroke="#000" stroke-width="4"/>
<circle cx="874.7" cy="1614.2" r="6.0"/>
<line x1="875.6" y1="1587.1" x2="875.6" y2="1648.5" stroke="#000" stroke-width="4"/>
<circle cx="875.6" cy="1617.8" r="6.0"/>
<line x1="876.5" y1="1586.3" x2="876.5" y2="1645.5" stroke="#000" stroke-width="4"/>
<circle cx="876.5" cy="1615.9" r="6.0"/>
<line x1="877.4" y1="1582.3" x2="877.4" y2="1645.3" stroke="#000" stroke-width="4"/>
<circle cx="877.4" cy="1613.8" r="6.0"/>
<line x1="878.2" y1="1583.7" x2="878.2" y2="1646.8" stroke="#000" stroke-width="4"/>
<circle cx="878.2" cy="1615.3" r="6.0"/>
<line x1="879.1" y1="1585.7" x2="879.1" y2="1647.3" stroke="#000" stroke-width="4"/>
<circle cx="879.1" cy="1616.5" r="6.0"/>
<line x1="879.9" y1="1585.1" x2="879.9" y2="1648.5" stroke="#000" stroke-width="4"/>
<circle cx="879.9" cy="1616.8" r="6.0"/>
</g>
<rect x="174.0" y="1658.0" width="18" height="22" fill="#fff" opacity="0.85"/>
<rect x="156.6" y="922.0" width="757.0" height="615.5" fill="none" stroke="#000" stroke-width="2.2"/>
<rect x="156.6" y="1537.5" width="757.0" height="153.4" fill="none" stroke="#000" stroke-width="2.2"/>
<line x1="147.6" y1="966.0" x2="156.6" y2="966.0" stroke="#000" stroke-width="2"/>
<text x="138.3" y="978.9" font-size="32.8" text-anchor="end">12</text>
<line x1="147.6" y1="1053.9" x2="156.6" y2="1053.9" stroke="#000" stroke-width="2"/>
<text x="138.3" y="1066.8" font-size="32.8" text-anchor="end">14</text>
<line x1="147.6" y1="1141.8" x2="156.6" y2="1141.8" stroke="#000" stroke-width="2"/>
<text x="138.3" y="1154.7" font-size="32.8" text-anchor="end">16</text>
<line x1="147.6" y1="1229.7" x2="156.6" y2="1229.7" stroke="#000" stroke-width="2"/>
<text x="138.3" y="1242.6" font-size="32.8" text-anchor="end">18</text>
<line x1="147.6" y1="1317.6" x2="156.6" y2="1317.6" stroke="#000" stroke-width="2"/>
<text x="138.3" y="1330.5" font-size="32.8" text-anchor="end">20</text>
<line x1="147.6" y1="1405.6" x2="156.6" y2="1405.6" stroke="#000" stroke-width="2"/>
<text x="138.3" y="1418.5" font-size="32.8" text-anchor="end">22</text>
<line x1="147.6" y1="1493.5" x2="156.6" y2="1493.5" stroke="#000" stroke-width="2"/>
<text x="138.3" y="1506.4" font-size="32.8" text-anchor="end">24</text>
<line x1="147.6" y1="1537.6" x2="156.6" y2="1537.6" stroke="#000" stroke-width="2"/>
<text x="138.3" y="1550.5" font-size="32.8" text-anchor="end">0.05</text>
<line x1="147.6" y1="1614.3" x2="156.6" y2="1614.3" stroke="#000" stroke-width="2"/>
<text x="138.3" y="1627.2" font-size="32.8" text-anchor="end">0.00</text>
<line x1="147.6" y1="1691.1" x2="156.6" y2="1691.1" stroke="#000" stroke-width="2"/>
<text x="138.3" y="1704.0" font-size="32.8" text-anchor="end">−0.05</text>
<line x1="160.4" y1="1690.8" x2="160.4" y2="1695.6" stroke="#000" stroke-width="1.6"/>
<line x1="176.4" y1="1690.8" x2="176.4" y2="1695.6" stroke="#000" stroke-width="1.6"/>
<line x1="190.7" y1="1690.8" x2="190.7" y2="1699.8" stroke="#000" stroke-width="2"/>
<text x="161.9" y="1735.1" font-size="32.8">10</text>
<text x="203.8" y="1722.2" font-size="23.2">0</text>
<line x1="284.8" y1="1690.8" x2="284.8" y2="1695.6" stroke="#000" stroke-width="1.6"/>
<line x1="339.9" y1="1690.8" x2="339.9" y2="1695.6" stroke="#000" stroke-width="1.6"/>
<line x1="379.0" y1="1690.8" x2="379.0" y2="1695.6" stroke="#000" stroke-width="1.6"/>
<line x1="409.3" y1="1690.8" x2="409.3" y2="1695.6" stroke="#000" stroke-width="1.6"/>
<line x1="434.0" y1="1690.8" x2="434.0" y2="1695.6" stroke="#000" stroke-width="1.6"/>
<line x1="455.0" y1="1690.8" x2="455.0" y2="1695.6" stroke="#000" stroke-width="1.6"/>
<line x1="473.1" y1="1690.8" x2="473.1" y2="1695.6" stroke="#000" stroke-width="1.6"/>
<line x1="489.1" y1="1690.8" x2="489.1" y2="1695.6" stroke="#000" stroke-width="1.6"/>
<line x1="503.4" y1="1690.8" x2="503.4" y2="1699.8" stroke="#000" stroke-width="2"/>
<text x="474.6" y="1735.1" font-size="32.8">10</text>
<text x="516.5" y="1722.2" font-size="23.2">1</text>
<line x1="597.5" y1="1690.8" x2="597.5" y2="1695.6" stroke="#000" stroke-width="1.6"/>
<line x1="652.6" y1="1690.8" x2="652.6" y2="1695.6" stroke="#000" stroke-width="1.6"/>
<line x1="691.7" y1="1690.8" x2="691.7" y2="1695.6" stroke="#000" stroke-width="1.6"/>
<line x1="722.0" y1="1690.8" x2="722.0" y2="1695.6" stroke="#000" stroke-width="1.6"/>
<line x1="746.7" y1="1690.8" x2="746.7" y2="1695.6" stroke="#000" stroke-width="1.6"/>
<line x1="767.7" y1="1690.8" x2="767.7" y2="1695.6" stroke="#000" stroke-width="1.6"/>
<line x1="785.8" y1="1690.8" x2="785.8" y2="1695.6" stroke="#000" stroke-width="1.6"/>
<line x1="801.8" y1="1690.8" x2="801.8" y2="1695.6" stroke="#000" stroke-width="1.6"/>
<line x1="816.1" y1="1690.8" x2="816.1" y2="1699.8" stroke="#000" stroke-width="2"/>
<text x="787.3" y="1735.1" font-size="32.8">10</text>
<text x="829.2" y="1722.2" font-size="23.2">2</text>
<line x1="910.2" y1="1690.8" x2="910.2" y2="1695.6" stroke="#000" stroke-width="1.6"/>
<text x="534.9" y="1785.1" font-size="43.25" text-anchor="middle">Radius [pixel]</text>
<text transform="translate(33.6,1229.3) rotate(-90)" font-size="43.25" text-anchor="middle">Surface brightness</text>
<text transform="translate(33.6,1614.0) rotate(-90)" font-size="43.25" text-anchor="middle">Residual</text>
<rect x="180.7" y="944.1" width="153.5" height="57.6" fill="#fff" stroke="#000" stroke-width="2.3"/>
<text x="191.0" y="983.6" font-size="38.3">F435W</text>
<rect x="563.0" y="932.6" width="339.3" height="251.8" fill="#fff"/>
<line x1="600.6" y1="942.5" x2="600.6" y2="968.3" stroke="#000" stroke-width="4"/>
<circle cx="600.6" cy="955.4" r="9.7"/>
<circle cx="600.6" cy="992.8" r="4.65" fill="#1E90FF"/>
<line x1="575.0" y1="1029.8" x2="626.5" y2="1029.8" stroke="#E69F00" stroke-width="5.3" stroke-dasharray="20.3 10.4"/>
<line x1="575.0" y1="1072.7" x2="626.5" y2="1072.7" stroke="#56B4E9" stroke-width="4.9" stroke-dasharray="25.8 5.3 5 5.5"/>
<line x1="575.0" y1="1118.7" x2="626.5" y2="1118.7" stroke="#009E73" stroke-width="4.9" stroke-dasharray="15.4 5.4 4.6 5.4 4.6 5.1"/>
<line x1="575.0" y1="1158.5" x2="626.5" y2="1158.5" stroke="#CC79A7" stroke-width="4.6" stroke-dasharray="4.8 5.28"/>
<g font-size="25.45">
<text x="631.0" y="963.6">Observed SB</text>
<text x="631.0" y="1001.3">Total model SB</text>
<text x="631.0" y="1038.5">AGN</text>
<text x="631.0" y="1166.6">Sky</text>
</g>
<text y="1080.1" font-size="25.45"><tspan x="631.0">Sérsic profile: </tspan><tspan x="813.3" font-style="oblique">n</tspan><tspan x="829.0" dy="4.4" font-size="17.7">S</tspan><tspan x="845.8" dy="-4.4">=</tspan><tspan x="871.7">4</tspan></text>
<text y="1126.1" font-size="25.45"><tspan x="631.0">Sérsic profile: </tspan><tspan x="813.3" font-style="oblique">n</tspan><tspan x="829.0" dy="4.4" font-size="17.7">S</tspan><tspan x="845.8" dy="-4.4">=</tspan><tspan x="871.7">1</tspan></text>
<clipPath id="c986_921"><rect x="1143.1" y="922.0" width="757.0" height="615.5"/></clipPath>
<clipPath id="c986_921r"><rect x="1143.1" y="1537.5" width="757.0" height="153.4"/></clipPath>
<g clip-path="url(#c986_921)">
<polyline points="1143.1,1058.8 1177.2,1058.8 1271.3,1082.3 1326.4,1112.2 1365.5,1134.1 1395.8,1149.8 1420.5,1167.1 1441.5,1186.0 1459.6,1199.8 1475.6,1207.9 1489.9,1213.6 1502.8,1220.9 1514.7,1225.1 1525.5,1229.0 1535.6,1235.0 1545.0,1240.8 1553.7,1246.2 1562.0,1250.3 1569.7,1253.8 1577.1,1256.6 1584.0,1259.5 1590.7,1262.7 1597.0,1265.6 1603.0,1268.6 1608.8,1271.7 1614.3,1274.2 1619.7,1276.6 1624.8,1279.0 1629.7,1281.4 1634.5,1283.9 1639.1,1286.1 1643.5,1288.3 1647.9,1290.5 1652.0,1292.6 1656.1,1294.6 1660.0,1296.5 1663.9,1298.5 1667.6,1300.5 1671.2,1302.7 1674.7,1304.5 1678.2,1306.1 1681.5,1307.7 1684.8,1309.4 1688.0,1310.9 1691.1,1312.3 1694.2,1313.7 1697.1,1315.2 1700.1,1317.1 1702.9,1318.8 1705.7,1320.0 1708.5,1321.4 1711.2,1322.9 1713.8,1324.2 1716.4,1325.3 1718.9,1326.5 1721.4,1327.6 1723.9,1328.6 1726.3,1329.7 1728.6,1330.9 1730.9,1332.0 1733.2,1333.0 1735.5,1333.7 1737.7,1334.5 1739.9,1335.7 1742.0,1336.8 1744.1,1337.6 1746.2,1338.2 1748.2,1339.0 1750.2,1339.9 1752.2,1340.7 1754.2,1341.5 1756.1,1342.4 1758.0,1343.1 1759.9,1343.7 1761.7,1344.5 1763.5,1345.1 1765.3,1345.5 1767.1,1346.1 1768.9,1346.6 1770.6,1347.0 1772.3,1347.4 1774.0,1348.1 1775.6,1348.8 1777.3,1349.2 1778.9,1349.5 1780.5,1350.0 1782.1,1350.5 1783.7,1351.0 1785.2,1351.7 1786.8,1352.1 1788.3,1352.4 1789.8,1352.6 1791.3,1352.9 1792.7,1353.1 1794.2,1353.2 1795.6,1353.4 1797.1,1353.8 1798.5,1354.3 1799.9,1354.4 1801.2,1354.4 1802.6,1354.5 1804.0,1354.8 1805.3,1355.2 1806.6,1355.5 1807.9,1355.6 1809.2,1356.0 1810.5,1356.4 1811.8,1356.7 1813.1,1357.1 1814.3,1357.3 1815.5,1357.4 1816.8,1357.6 1818.0,1358.0 1819.2,1358.4 1820.4,1358.5 1821.6,1358.6 1822.8,1358.9 1823.9,1359.1 1825.1,1359.3 1826.2,1359.6 1827.4,1360.0 1828.5,1360.1 1829.6,1360.2 1830.7,1360.5 1831.8,1360.8 1832.9,1361.0 1834.0,1361.2 1835.1,1361.4 1836.1,1361.6 1837.2,1361.8 1838.2,1361.9 1839.3,1362.0 1840.3,1362.1 1841.3,1362.3 1842.3,1362.5 1843.4,1362.5 1844.4,1362.6 1845.4,1362.9 1846.3,1362.9 1847.3,1363.1 1848.3,1363.4 1849.3,1363.6 1850.2,1363.8 1851.2,1363.9 1852.1,1363.9 1853.1,1364.0 1854.0,1364.3 1854.9,1364.4 1855.8,1364.6 1856.8,1364.6 1857.7,1364.8 1858.6,1364.9 1859.5,1365.0 1860.4,1365.2 1861.2,1365.6 1862.1,1365.9 1863.0,1365.9 1863.9,1365.8 1864.7,1366.0 1865.6,1366.3 1866.4,1366.3" fill="none" stroke="#000" stroke-width="3.9" stroke-dasharray="12.6 5.4" />
<circle cx="1177.2" cy="1058.8" r="9.7"/>
<circle cx="1271.3" cy="1082.3" r="9.7"/>
<circle cx="1326.4" cy="1112.2" r="9.7"/>
<circle cx="1365.5" cy="1134.1" r="9.7"/>
<circle cx="1395.8" cy="1149.8" r="9.7"/>
<circle cx="1420.5" cy="1167.1" r="9.7"/>
<circle cx="1441.5" cy="1186.0" r="9.7"/>
<circle cx="1459.6" cy="1199.8" r="9.7"/>
<circle cx="1475.6" cy="1207.9" r="9.7"/>
<circle cx="1489.9" cy="1213.6" r="9.7"/>
<circle cx="1502.8" cy="1220.9" r="9.7"/>
<circle cx="1514.7" cy="1225.1" r="9.7"/>
<circle cx="1525.5" cy="1229.0" r="9.7"/>
<circle cx="1535.6" cy="1235.0" r="9.7"/>
<circle cx="1545.0" cy="1240.8" r="9.7"/>
<circle cx="1553.7" cy="1246.2" r="9.7"/>
<circle cx="1562.0" cy="1250.3" r="9.7"/>
<circle cx="1569.7" cy="1253.8" r="9.7"/>
<circle cx="1577.1" cy="1256.6" r="9.7"/>
<circle cx="1584.0" cy="1259.5" r="9.7"/>
<circle cx="1590.7" cy="1262.7" r="9.7"/>
<circle cx="1597.0" cy="1265.6" r="9.7"/>
<circle cx="1603.0" cy="1268.6" r="9.7"/>
<circle cx="1608.8" cy="1271.7" r="9.7"/>
<circle cx="1614.3" cy="1274.2" r="9.7"/>
<circle cx="1619.7" cy="1276.6" r="9.7"/>
<circle cx="1624.8" cy="1279.0" r="9.7"/>
<circle cx="1629.7" cy="1281.4" r="9.7"/>
<circle cx="1634.5" cy="1283.9" r="9.7"/>
<circle cx="1639.1" cy="1286.1" r="9.7"/>
<circle cx="1643.5" cy="1288.3" r="9.7"/>
<circle cx="1647.9" cy="1290.5" r="9.7"/>
<circle cx="1652.0" cy="1292.6" r="9.7"/>
<circle cx="1656.1" cy="1294.6" r="9.7"/>
<circle cx="1660.0" cy="1296.5" r="9.7"/>
<circle cx="1663.9" cy="1298.5" r="9.7"/>
<circle cx="1667.6" cy="1300.5" r="9.7"/>
<circle cx="1671.2" cy="1302.7" r="9.7"/>
<circle cx="1674.7" cy="1304.5" r="9.7"/>
<circle cx="1678.2" cy="1306.1" r="9.7"/>
<circle cx="1681.5" cy="1307.7" r="9.7"/>
<circle cx="1684.8" cy="1309.4" r="9.7"/>
<circle cx="1688.0" cy="1310.9" r="9.7"/>
<circle cx="1691.1" cy="1312.3" r="9.7"/>
<circle cx="1694.2" cy="1313.7" r="9.7"/>
<circle cx="1697.1" cy="1315.2" r="9.7"/>
<circle cx="1700.1" cy="1317.1" r="9.7"/>
<circle cx="1702.9" cy="1318.8" r="9.7"/>
<circle cx="1705.7" cy="1320.0" r="9.7"/>
<circle cx="1708.5" cy="1321.4" r="9.7"/>
<circle cx="1711.2" cy="1322.9" r="9.7"/>
<circle cx="1713.8" cy="1324.2" r="9.7"/>
<circle cx="1716.4" cy="1325.3" r="9.7"/>
<circle cx="1718.9" cy="1326.5" r="9.7"/>
<circle cx="1721.4" cy="1327.6" r="9.7"/>
<circle cx="1723.9" cy="1328.6" r="9.7"/>
<circle cx="1726.3" cy="1329.7" r="9.7"/>
<circle cx="1728.6" cy="1330.9" r="9.7"/>
<circle cx="1730.9" cy="1332.0" r="9.7"/>
<circle cx="1733.2" cy="1333.0" r="9.7"/>
<circle cx="1735.5" cy="1333.7" r="9.7"/>
<circle cx="1737.7" cy="1334.5" r="9.7"/>
<circle cx="1739.9" cy="1335.7" r="9.7"/>
<circle cx="1742.0" cy="1336.8" r="9.7"/>
<circle cx="1744.1" cy="1337.6" r="9.7"/>
<circle cx="1746.2" cy="1338.2" r="9.7"/>
<circle cx="1748.2" cy="1339.0" r="9.7"/>
<circle cx="1750.2" cy="1339.9" r="9.7"/>
<circle cx="1752.2" cy="1340.7" r="9.7"/>
<circle cx="1754.2" cy="1341.5" r="9.7"/>
<circle cx="1756.1" cy="1342.4" r="9.7"/>
<circle cx="1758.0" cy="1343.1" r="9.7"/>
<circle cx="1759.9" cy="1343.7" r="9.7"/>
<circle cx="1761.7" cy="1344.5" r="9.7"/>
<circle cx="1763.5" cy="1345.1" r="9.7"/>
<circle cx="1765.3" cy="1345.5" r="9.7"/>
<circle cx="1767.1" cy="1346.1" r="9.7"/>
<circle cx="1768.9" cy="1346.6" r="9.7"/>
<circle cx="1770.6" cy="1347.0" r="9.7"/>
<circle cx="1772.3" cy="1347.4" r="9.7"/>
<circle cx="1774.0" cy="1348.1" r="9.7"/>
<circle cx="1775.6" cy="1348.8" r="9.7"/>
<circle cx="1777.3" cy="1349.2" r="9.7"/>
<circle cx="1778.9" cy="1349.5" r="9.7"/>
<circle cx="1780.5" cy="1350.0" r="9.7"/>
<circle cx="1782.1" cy="1350.5" r="9.7"/>
<circle cx="1783.7" cy="1351.0" r="9.7"/>
<circle cx="1785.2" cy="1351.7" r="9.7"/>
<circle cx="1786.8" cy="1352.1" r="9.7"/>
<circle cx="1788.3" cy="1352.4" r="9.7"/>
<circle cx="1789.8" cy="1352.6" r="9.7"/>
<circle cx="1791.3" cy="1352.9" r="9.7"/>
<circle cx="1792.7" cy="1353.1" r="9.7"/>
<circle cx="1794.2" cy="1353.2" r="9.7"/>
<circle cx="1795.6" cy="1353.4" r="9.7"/>
<circle cx="1797.1" cy="1353.8" r="9.7"/>
<circle cx="1798.5" cy="1354.3" r="9.7"/>
<circle cx="1799.9" cy="1354.4" r="9.7"/>
<circle cx="1801.2" cy="1354.4" r="9.7"/>
<circle cx="1802.6" cy="1354.5" r="9.7"/>
<circle cx="1804.0" cy="1354.8" r="9.7"/>
<circle cx="1805.3" cy="1355.2" r="9.7"/>
<circle cx="1806.6" cy="1355.5" r="9.7"/>
<circle cx="1807.9" cy="1355.6" r="9.7"/>
<circle cx="1809.2" cy="1356.0" r="9.7"/>
<circle cx="1810.5" cy="1356.4" r="9.7"/>
<circle cx="1811.8" cy="1356.7" r="9.7"/>
<circle cx="1813.1" cy="1357.1" r="9.7"/>
<circle cx="1814.3" cy="1357.3" r="9.7"/>
<circle cx="1815.5" cy="1357.4" r="9.7"/>
<circle cx="1816.8" cy="1357.6" r="9.7"/>
<circle cx="1818.0" cy="1358.0" r="9.7"/>
<circle cx="1819.2" cy="1358.4" r="9.7"/>
<circle cx="1820.4" cy="1358.5" r="9.7"/>
<circle cx="1821.6" cy="1358.6" r="9.7"/>
<circle cx="1822.8" cy="1358.9" r="9.7"/>
<circle cx="1823.9" cy="1359.1" r="9.7"/>
<circle cx="1825.1" cy="1359.3" r="9.7"/>
<circle cx="1826.2" cy="1359.6" r="9.7"/>
<circle cx="1827.4" cy="1360.0" r="9.7"/>
<circle cx="1828.5" cy="1360.1" r="9.7"/>
<circle cx="1829.6" cy="1360.2" r="9.7"/>
<circle cx="1830.7" cy="1360.5" r="9.7"/>
<circle cx="1831.8" cy="1360.8" r="9.7"/>
<circle cx="1832.9" cy="1361.0" r="9.7"/>
<circle cx="1834.0" cy="1361.2" r="9.7"/>
<circle cx="1835.1" cy="1361.4" r="9.7"/>
<circle cx="1836.1" cy="1361.6" r="9.7"/>
<circle cx="1837.2" cy="1361.8" r="9.7"/>
<circle cx="1838.2" cy="1361.9" r="9.7"/>
<circle cx="1839.3" cy="1362.0" r="9.7"/>
<circle cx="1840.3" cy="1362.1" r="9.7"/>
<circle cx="1841.3" cy="1362.3" r="9.7"/>
<circle cx="1842.3" cy="1362.5" r="9.7"/>
<circle cx="1843.4" cy="1362.5" r="9.7"/>
<circle cx="1844.4" cy="1362.6" r="9.7"/>
<circle cx="1845.4" cy="1362.9" r="9.7"/>
<circle cx="1846.3" cy="1362.9" r="9.7"/>
<circle cx="1847.3" cy="1363.1" r="9.7"/>
<circle cx="1848.3" cy="1363.4" r="9.7"/>
<circle cx="1849.3" cy="1363.6" r="9.7"/>
<circle cx="1850.2" cy="1363.8" r="9.7"/>
<circle cx="1851.2" cy="1363.9" r="9.7"/>
<circle cx="1852.1" cy="1363.9" r="9.7"/>
<circle cx="1853.1" cy="1364.0" r="9.7"/>
<circle cx="1854.0" cy="1364.3" r="9.7"/>
<circle cx="1854.9" cy="1364.4" r="9.7"/>
<circle cx="1855.8" cy="1364.6" r="9.7"/>
<circle cx="1856.8" cy="1364.6" r="9.7"/>
<circle cx="1857.7" cy="1364.8" r="9.7"/>
<circle cx="1858.6" cy="1364.9" r="9.7"/>
<circle cx="1859.5" cy="1365.0" r="9.7"/>
<circle cx="1860.4" cy="1365.2" r="9.7"/>
<circle cx="1861.2" cy="1365.6" r="9.7"/>
<circle cx="1862.1" cy="1365.9" r="9.7"/>
<circle cx="1863.0" cy="1365.9" r="9.7"/>
<circle cx="1863.9" cy="1365.8" r="9.7"/>
<circle cx="1864.7" cy="1366.0" r="9.7"/>
<circle cx="1865.6" cy="1366.3" r="9.7"/>
<circle cx="1866.4" cy="1366.3" r="9.7"/>
</g>
<g stroke="#ababab" stroke-width="2" stroke-dasharray="7.4 3.2" fill="none">
<line x1="1146.9" y1="1537.5" x2="1146.9" y2="922.0"/>
<line x1="1162.9" y1="1537.5" x2="1162.9" y2="922.0"/>
<line x1="1177.2" y1="1537.5" x2="1177.2" y2="922.0"/>
<line x1="1271.3" y1="1537.5" x2="1271.3" y2="922.0"/>
<line x1="1326.4" y1="1537.5" x2="1326.4" y2="922.0"/>
<line x1="1365.5" y1="1537.5" x2="1365.5" y2="922.0"/>
<line x1="1395.8" y1="1537.5" x2="1395.8" y2="922.0"/>
<line x1="1420.5" y1="1537.5" x2="1420.5" y2="922.0"/>
<line x1="1441.5" y1="1537.5" x2="1441.5" y2="922.0"/>
<line x1="1459.6" y1="1537.5" x2="1459.6" y2="922.0"/>
<line x1="1475.6" y1="1537.5" x2="1475.6" y2="922.0"/>
<line x1="1489.9" y1="1537.5" x2="1489.9" y2="922.0"/>
<line x1="1584.0" y1="1537.5" x2="1584.0" y2="922.0"/>
<line x1="1639.1" y1="1537.5" x2="1639.1" y2="922.0"/>
<line x1="1678.2" y1="1537.5" x2="1678.2" y2="922.0"/>
<line x1="1708.5" y1="1537.5" x2="1708.5" y2="922.0"/>
<line x1="1733.2" y1="1537.5" x2="1733.2" y2="922.0"/>
<line x1="1754.2" y1="1537.5" x2="1754.2" y2="922.0"/>
<line x1="1772.3" y1="1537.5" x2="1772.3" y2="922.0"/>
<line x1="1788.3" y1="1537.5" x2="1788.3" y2="922.0"/>
<line x1="1802.6" y1="1537.5" x2="1802.6" y2="922.0"/>
<line x1="1896.7" y1="1537.5" x2="1896.7" y2="922.0"/>
<line x1="1143.1" y1="966.0" x2="1900.1" y2="966.0"/>
<line x1="1143.1" y1="1053.9" x2="1900.1" y2="1053.9"/>
<line x1="1143.1" y1="1141.8" x2="1900.1" y2="1141.8"/>
<line x1="1143.1" y1="1229.7" x2="1900.1" y2="1229.7"/>
<line x1="1143.1" y1="1317.6" x2="1900.1" y2="1317.6"/>
<line x1="1143.1" y1="1405.6" x2="1900.1" y2="1405.6"/>
<line x1="1143.1" y1="1493.5" x2="1900.1" y2="1493.5"/>
<line x1="1146.9" y1="1690.8" x2="1146.9" y2="1537.5"/>
<line x1="1162.9" y1="1690.8" x2="1162.9" y2="1537.5"/>
<line x1="1177.2" y1="1690.8" x2="1177.2" y2="1537.5"/>
<line x1="1271.3" y1="1690.8" x2="1271.3" y2="1537.5"/>
<line x1="1326.4" y1="1690.8" x2="1326.4" y2="1537.5"/>
<line x1="1365.5" y1="1690.8" x2="1365.5" y2="1537.5"/>
<line x1="1395.8" y1="1690.8" x2="1395.8" y2="1537.5"/>
<line x1="1420.5" y1="1690.8" x2="1420.5" y2="1537.5"/>
<line x1="1441.5" y1="1690.8" x2="1441.5" y2="1537.5"/>
<line x1="1459.6" y1="1690.8" x2="1459.6" y2="1537.5"/>
<line x1="1475.6" y1="1690.8" x2="1475.6" y2="1537.5"/>
<line x1="1489.9" y1="1690.8" x2="1489.9" y2="1537.5"/>
<line x1="1584.0" y1="1690.8" x2="1584.0" y2="1537.5"/>
<line x1="1639.1" y1="1690.8" x2="1639.1" y2="1537.5"/>
<line x1="1678.2" y1="1690.8" x2="1678.2" y2="1537.5"/>
<line x1="1708.5" y1="1690.8" x2="1708.5" y2="1537.5"/>
<line x1="1733.2" y1="1690.8" x2="1733.2" y2="1537.5"/>
<line x1="1754.2" y1="1690.8" x2="1754.2" y2="1537.5"/>
<line x1="1772.3" y1="1690.8" x2="1772.3" y2="1537.5"/>
<line x1="1788.3" y1="1690.8" x2="1788.3" y2="1537.5"/>
<line x1="1802.6" y1="1690.8" x2="1802.6" y2="1537.5"/>
<line x1="1896.7" y1="1690.8" x2="1896.7" y2="1537.5"/>
<line x1="1143.1" y1="1614.3" x2="1900.1" y2="1614.3"/>
</g>
<g clip-path="url(#c986_921)">
<polyline points="1143.1,1063.4 1177.2,1063.4 1271.3,1092.0 1326.4,1137.3 1365.5,1170.7 1395.8,1188.1 1420.5,1225.5 1441.5,1271.6 1459.6,1305.2 1475.6,1308.8 1489.9,1310.0 1502.8,1311.0 1514.7,1316.6 1525.5,1327.7 1535.6,1341.6 1545.0,1355.7 1553.7,1368.8 1562.0,1377.0 1569.7,1382.9 1577.1,1386.9 1584.0,1390.3 1590.7,1394.2 1597.0,1398.1 1603.0,1402.0 1608.8,1405.7 1614.3,1409.0 1619.7,1412.2 1624.8,1415.2 1629.7,1418.1 1634.5,1420.9 1639.1,1423.8 1643.5,1426.5 1647.9,1429.2 1652.0,1431.8 1656.1,1434.5 1660.0,1437.2 1663.9,1440.1 1667.6,1443.4 1671.2,1447.1 1674.7,1450.8 1678.2,1454.2 1681.5,1457.2 1684.8,1460.0 1688.0,1462.6 1691.1,1465.1 1694.2,1467.3 1697.1,1469.2 1700.1,1471.0 1702.9,1472.6 1705.7,1474.2 1708.5,1475.9 1711.2,1477.6 1713.8,1479.2 1716.4,1481.0 1718.9,1483.4 1721.4,1486.7 1723.9,1490.4 1726.3,1493.9 1728.6,1497.3 1730.9,1500.9 1733.2,1505.0 1735.5,1510.1 1737.7,1516.4 1739.9,1524.0 1742.0,1533.1 1744.1,1543.5 1746.2,1553.9 1748.2,1564.1 1750.2,1574.2 1752.2,1584.1 1754.2,1593.8 1756.1,1603.5 1758.0,1613.0 1759.9,1622.3 1761.7,1631.6 1763.5,1640.7 1765.3,1649.7 1767.1,1658.6 1768.9,1667.3 1770.6,1676.0 1772.3,1684.5 1774.0,1692.9 1775.6,1701.3 1777.3,1709.5 1778.9,1717.6 1780.5,1725.7 1782.1,1733.6 1783.7,1741.5 1785.2,1749.2 1786.8,1756.9 1788.3,1764.5 1789.8,1772.0 1791.3,1779.4 1792.7,1786.8 1794.2,1794.0 1795.6,1801.2 1797.1,1808.3 1798.5,1815.3 1799.9,1822.3 1801.2,1829.2 1802.6,1836.0 1804.0,1842.8 1805.3,1849.5 1806.6,1856.1 1807.9,1862.7 1809.2,1869.2 1810.5,1875.6 1811.8,1882.0 1813.1,1888.3 1814.3,1894.5 1815.5,1900.7 1816.8,1906.9 1818.0,1913.0 1819.2,1919.0 1820.4,1925.0 1821.6,1930.9 1822.8,1936.8 1823.9,1942.6 1825.1,1948.4 1826.2,1954.1 1827.4,1959.8 1828.5,1965.5 1829.6,1971.1 1830.7,1976.6 1831.8,1982.1 1832.9,1987.5 1834.0,1993.0 1835.1,1998.3 1836.1,2003.7 1837.2,2008.9 1838.2,2014.2 1839.3,2019.4 1840.3,2024.5 1841.3,2029.7 1842.3,2034.8 1843.4,2039.8 1844.4,2044.8 1845.4,2049.8 1846.3,2054.7 1847.3,2059.6 1848.3,2064.5 1849.3,2069.3 1850.2,2074.1 1851.2,2078.9 1852.1,2083.6 1853.1,2088.3 1854.0,2093.0 1854.9,2097.6 1855.8,2102.2 1856.8,2106.8 1857.7,2111.3 1858.6,2115.9 1859.5,2120.3 1860.4,2124.8 1861.2,2129.2 1862.1,2133.6 1863.0,2138.0 1863.9,2142.3 1864.7,2146.6 1865.6,2150.9 1866.4,2155.2" fill="none" stroke="#E69F00" stroke-width="5.3" stroke-dasharray="20.3 10.4" />
<polyline points="1143.1,1137.1 1177.2,1137.1 1271.3,1145.2 1326.4,1156.7 1365.5,1170.1 1395.8,1182.0 1420.5,1194.0 1441.5,1204.4 1459.6,1214.3 1475.6,1222.3 1489.9,1229.3 1502.8,1236.1 1514.7,1242.6 1525.5,1248.7 1535.6,1254.5 1545.0,1260.0 1553.7,1265.3 1562.0,1270.4 1569.7,1275.3 1577.1,1280.0 1584.0,1284.6 1590.7,1289.1 1597.0,1293.5 1603.0,1297.9 1608.8,1302.1 1614.3,1306.2 1619.7,1310.1 1624.8,1313.9 1629.7,1317.5 1634.5,1320.9 1639.1,1324.2 1643.5,1327.3 1647.9,1330.2 1652.0,1333.0 1656.1,1335.7 1660.0,1338.3 1663.9,1340.9 1667.6,1343.4 1671.2,1345.8 1674.7,1348.2 1678.2,1350.6 1681.5,1353.0 1684.8,1355.2 1688.0,1357.4 1691.1,1359.5 1694.2,1361.6 1697.1,1363.8 1700.1,1365.9 1702.9,1368.0 1705.7,1370.1 1708.5,1372.3 1711.2,1374.5 1713.8,1376.8 1716.4,1379.2 1718.9,1381.5 1721.4,1383.9 1723.9,1386.2 1726.3,1388.6 1728.6,1390.9 1730.9,1393.2 1733.2,1395.4 1735.5,1397.6 1737.7,1399.7 1739.9,1401.9 1742.0,1404.0 1744.1,1406.1 1746.2,1408.2 1748.2,1410.3 1750.2,1412.3 1752.2,1414.3 1754.2,1416.3 1756.1,1418.2 1758.0,1420.2 1759.9,1422.1 1761.7,1424.0 1763.5,1425.9 1765.3,1427.8 1767.1,1429.6 1768.9,1431.4 1770.6,1433.2 1772.3,1434.9 1774.0,1436.6 1775.6,1438.3 1777.3,1439.9 1778.9,1441.5 1780.5,1443.1 1782.1,1444.6 1783.7,1446.2 1785.2,1447.7 1786.8,1449.3 1788.3,1450.9 1789.8,1452.5 1791.3,1454.1 1792.7,1455.8 1794.2,1457.4 1795.6,1459.1 1797.1,1460.7 1798.5,1462.3 1799.9,1463.9 1801.2,1465.5 1802.6,1467.1 1804.0,1468.6 1805.3,1470.1 1806.6,1471.6 1807.9,1473.0 1809.2,1474.5 1810.5,1475.9 1811.8,1477.3 1813.1,1478.7 1814.3,1480.1 1815.5,1481.5 1816.8,1482.8 1818.0,1484.2 1819.2,1485.5 1820.4,1486.9 1821.6,1488.2 1822.8,1489.5 1823.9,1490.8 1825.1,1492.0 1826.2,1493.3 1827.4,1494.6 1828.5,1495.8 1829.6,1497.1 1830.7,1498.3 1831.8,1499.5 1832.9,1500.8 1834.0,1502.0 1835.1,1503.2 1836.1,1504.4 1837.2,1505.5 1838.2,1506.7 1839.3,1507.8 1840.3,1509.0 1841.3,1510.1 1842.3,1511.2 1843.4,1512.3 1844.4,1513.3 1845.4,1514.4 1846.3,1515.4 1847.3,1516.5 1848.3,1517.5 1849.3,1518.5 1850.2,1519.5 1851.2,1520.4 1852.1,1521.4 1853.1,1522.4 1854.0,1523.3 1854.9,1524.3 1855.8,1525.2 1856.8,1526.1 1857.7,1527.0 1858.6,1527.9 1859.5,1528.8 1860.4,1529.6 1861.2,1530.5 1862.1,1531.4 1863.0,1532.2 1863.9,1533.1 1864.7,1533.9 1865.6,1534.7 1866.4,1535.6" fill="none" stroke="#56B4E9" stroke-width="4.9" stroke-dasharray="25.8 5.3 5 5.5" />
<polyline points="1143.1,1311.3 1177.2,1311.3 1271.3,1311.9 1326.4,1312.6 1365.5,1313.4 1395.8,1314.0 1420.5,1315.1 1441.5,1316.5 1459.6,1318.1 1475.6,1319.6 1489.9,1321.0 1502.8,1322.4 1514.7,1323.9 1525.5,1325.4 1535.6,1326.9 1545.0,1328.4 1553.7,1329.9 1562.0,1331.3 1569.7,1332.6 1577.1,1334.0 1584.0,1335.2 1590.7,1336.5 1597.0,1337.7 1603.0,1339.0 1608.8,1340.3 1614.3,1341.5 1619.7,1342.8 1624.8,1344.0 1629.7,1345.2 1634.5,1346.4 1639.1,1347.6 1643.5,1348.8 1647.9,1350.0 1652.0,1351.2 1656.1,1352.4 1660.0,1353.6 1663.9,1354.8 1667.6,1356.0 1671.2,1357.2 1674.7,1358.4 1678.2,1359.6 1681.5,1360.8 1684.8,1362.1 1688.0,1363.3 1691.1,1364.5 1694.2,1365.8 1697.1,1367.0 1700.1,1368.3 1702.9,1369.5 1705.7,1370.8 1708.5,1372.0 1711.2,1373.3 1713.8,1374.5 1716.4,1375.8 1718.9,1377.1 1721.4,1378.4 1723.9,1379.7 1726.3,1381.0 1728.6,1382.2 1730.9,1383.5 1733.2,1384.8 1735.5,1386.1 1737.7,1387.4 1739.9,1388.8 1742.0,1390.1 1744.1,1391.4 1746.2,1392.8 1748.2,1394.1 1750.2,1395.4 1752.2,1396.7 1754.2,1398.0 1756.1,1399.3 1758.0,1400.6 1759.9,1401.9 1761.7,1403.2 1763.5,1404.5 1765.3,1405.8 1767.1,1407.1 1768.9,1408.4 1770.6,1409.7 1772.3,1411.0 1774.0,1412.3 1775.6,1413.6 1777.3,1414.9 1778.9,1416.2 1780.5,1417.5 1782.1,1418.8 1783.7,1420.1 1785.2,1421.4 1786.8,1422.7 1788.3,1424.0 1789.8,1425.3 1791.3,1426.7 1792.7,1428.0 1794.2,1429.3 1795.6,1430.6 1797.1,1431.9 1798.5,1433.3 1799.9,1434.6 1801.2,1435.9 1802.6,1437.2 1804.0,1438.5 1805.3,1439.9 1806.6,1441.2 1807.9,1442.5 1809.2,1443.8 1810.5,1445.1 1811.8,1446.4 1813.1,1447.7 1814.3,1449.0 1815.5,1450.2 1816.8,1451.5 1818.0,1452.8 1819.2,1454.1 1820.4,1455.4 1821.6,1456.7 1822.8,1458.0 1823.9,1459.2 1825.1,1460.5 1826.2,1461.8 1827.4,1463.1 1828.5,1464.4 1829.6,1465.7 1830.7,1466.9 1831.8,1468.2 1832.9,1469.5 1834.0,1470.8 1835.1,1472.0 1836.1,1473.3 1837.2,1474.6 1838.2,1475.8 1839.3,1477.1 1840.3,1478.4 1841.3,1479.6 1842.3,1480.9 1843.4,1482.2 1844.4,1483.4 1845.4,1484.7 1846.3,1486.0 1847.3,1487.2 1848.3,1488.5 1849.3,1489.8 1850.2,1491.0 1851.2,1492.3 1852.1,1493.6 1853.1,1494.8 1854.0,1496.1 1854.9,1497.4 1855.8,1498.7 1856.8,1500.0 1857.7,1501.3 1858.6,1502.6 1859.5,1503.9 1860.4,1505.2 1861.2,1506.5 1862.1,1507.8 1863.0,1509.1 1863.9,1510.4 1864.7,1511.7 1865.6,1512.9 1866.4,1514.2" fill="none" stroke="#009E73" stroke-width="4.9" stroke-dasharray="15.4 5.4 4.6 5.4 4.6 5.1" />
<line x1="1148.5" y1="1369.3" x2="1866.4" y2="1369.3" stroke="#CC79A7" stroke-width="4.6" stroke-dasharray="4.8 5.28"/>
<polyline points="1143.1,1054.4 1177.2,1054.4 1271.3,1078.8 1326.4,1113.4 1365.5,1137.3 1395.8,1151.0 1420.5,1170.4 1441.5,1189.4 1459.6,1201.0 1475.6,1208.2 1489.9,1213.8 1502.8,1219.2 1514.7,1224.2 1525.5,1228.8 1535.6,1235.3 1545.0,1241.3 1553.7,1246.5 1562.0,1250.6 1569.7,1254.0 1577.1,1257.1 1584.0,1260.2 1590.7,1263.3 1597.0,1266.2 1603.0,1269.2 1608.8,1272.0 1614.3,1274.7 1619.7,1277.3 1624.8,1279.8 1629.7,1282.2 1634.5,1284.5 1639.1,1286.7 1643.5,1288.9 1647.9,1291.1 1652.0,1293.2 1656.1,1295.2 1660.0,1297.2 1663.9,1299.1 1667.6,1301.0 1671.2,1302.7 1674.7,1304.5 1678.2,1306.1 1681.5,1307.7 1684.8,1309.3 1688.0,1310.8 1691.1,1312.2 1694.2,1313.6 1697.1,1315.0 1700.1,1316.3 1702.9,1317.7 1705.7,1319.0 1708.5,1320.2 1711.2,1321.5 1713.8,1322.8 1716.4,1324.0 1718.9,1325.2 1721.4,1326.4 1723.9,1327.6 1726.3,1328.7 1728.6,1329.9 1730.9,1331.0 1733.2,1332.1 1735.5,1333.1 1737.7,1334.2 1739.9,1335.2 1742.0,1336.2 1744.1,1337.2 1746.2,1338.1 1748.2,1338.9 1750.2,1339.8 1752.2,1340.5 1754.2,1341.3 1756.1,1342.1 1758.0,1342.8 1759.9,1343.5 1761.7,1344.1 1763.5,1344.8 1765.3,1345.4 1767.1,1346.0 1768.9,1346.6 1770.6,1347.2 1772.3,1347.7 1774.0,1348.3 1775.6,1348.9 1777.3,1349.4 1778.9,1350.0 1780.5,1350.5 1782.1,1351.0 1783.7,1351.5 1785.2,1352.0 1786.8,1352.4 1788.3,1352.7 1789.8,1353.0 1791.3,1353.3 1792.7,1353.6 1794.2,1353.9 1795.6,1354.1 1797.1,1354.3 1798.5,1354.6 1799.9,1354.8 1801.2,1355.0 1802.6,1355.3 1804.0,1355.6 1805.3,1355.8 1806.6,1356.1 1807.9,1356.4 1809.2,1356.7 1810.5,1357.0 1811.8,1357.3 1813.1,1357.6 1814.3,1357.8 1815.5,1358.1 1816.8,1358.4 1818.0,1358.6 1819.2,1358.8 1820.4,1359.1 1821.6,1359.3 1822.8,1359.5 1823.9,1359.7 1825.1,1359.9 1826.2,1360.1 1827.4,1360.3 1828.5,1360.5 1829.6,1360.7 1830.7,1360.9 1831.8,1361.0 1832.9,1361.2 1834.0,1361.4 1835.1,1361.5 1836.1,1361.7 1837.2,1361.8 1838.2,1362.0 1839.3,1362.2 1840.3,1362.3 1841.3,1362.5 1842.3,1362.7 1843.4,1362.8 1844.4,1363.0 1845.4,1363.1 1846.3,1363.3 1847.3,1363.4 1848.3,1363.6 1849.3,1363.7 1850.2,1363.9 1851.2,1364.1 1852.1,1364.2 1853.1,1364.4 1854.0,1364.5 1854.9,1364.7 1855.8,1364.8 1856.8,1365.0 1857.7,1365.1 1858.6,1365.2 1859.5,1365.3 1860.4,1365.4 1861.2,1365.5 1862.1,1365.5 1863.0,1365.6 1863.9,1365.6 1864.7,1365.6 1865.6,1365.6 1866.4,1365.6" fill="none" stroke="#1E90FF" stroke-width="3.9" stroke-dasharray="12.6 5.4" />
<g fill="#1E90FF">
<circle cx="1177.2" cy="1054.4" r="4.65"/>
<circle cx="1271.3" cy="1078.8" r="4.65"/>
<circle cx="1326.4" cy="1113.4" r="4.65"/>
<circle cx="1365.5" cy="1137.3" r="4.65"/>
<circle cx="1395.8" cy="1151.0" r="4.65"/>
<circle cx="1420.5" cy="1170.4" r="4.65"/>
<circle cx="1441.5" cy="1189.4" r="4.65"/>
<circle cx="1459.6" cy="1201.0" r="4.65"/>
<circle cx="1475.6" cy="1208.2" r="4.65"/>
<circle cx="1489.9" cy="1213.8" r="4.65"/>
<circle cx="1502.8" cy="1219.2" r="4.65"/>
<circle cx="1514.7" cy="1224.2" r="4.65"/>
<circle cx="1525.5" cy="1228.8" r="4.65"/>
<circle cx="1535.6" cy="1235.3" r="4.65"/>
<circle cx="1545.0" cy="1241.3" r="4.65"/>
<circle cx="1553.7" cy="1246.5" r="4.65"/>
<circle cx="1562.0" cy="1250.6" r="4.65"/>
<circle cx="1569.7" cy="1254.0" r="4.65"/>
<circle cx="1577.1" cy="1257.1" r="4.65"/>
<circle cx="1584.0" cy="1260.2" r="4.65"/>
<circle cx="1590.7" cy="1263.3" r="4.65"/>
<circle cx="1597.0" cy="1266.2" r="4.65"/>
<circle cx="1603.0" cy="1269.2" r="4.65"/>
<circle cx="1608.8" cy="1272.0" r="4.65"/>
<circle cx="1614.3" cy="1274.7" r="4.65"/>
<circle cx="1619.7" cy="1277.3" r="4.65"/>
<circle cx="1624.8" cy="1279.8" r="4.65"/>
<circle cx="1629.7" cy="1282.2" r="4.65"/>
<circle cx="1634.5" cy="1284.5" r="4.65"/>
<circle cx="1639.1" cy="1286.7" r="4.65"/>
<circle cx="1643.5" cy="1288.9" r="4.65"/>
<circle cx="1647.9" cy="1291.1" r="4.65"/>
<circle cx="1652.0" cy="1293.2" r="4.65"/>
<circle cx="1656.1" cy="1295.2" r="4.65"/>
<circle cx="1660.0" cy="1297.2" r="4.65"/>
<circle cx="1663.9" cy="1299.1" r="4.65"/>
<circle cx="1667.6" cy="1301.0" r="4.65"/>
<circle cx="1671.2" cy="1302.7" r="4.65"/>
<circle cx="1674.7" cy="1304.5" r="4.65"/>
<circle cx="1678.2" cy="1306.1" r="4.65"/>
<circle cx="1681.5" cy="1307.7" r="4.65"/>
<circle cx="1684.8" cy="1309.3" r="4.65"/>
<circle cx="1688.0" cy="1310.8" r="4.65"/>
<circle cx="1691.1" cy="1312.2" r="4.65"/>
<circle cx="1694.2" cy="1313.6" r="4.65"/>
<circle cx="1697.1" cy="1315.0" r="4.65"/>
<circle cx="1700.1" cy="1316.3" r="4.65"/>
<circle cx="1702.9" cy="1317.7" r="4.65"/>
<circle cx="1705.7" cy="1319.0" r="4.65"/>
<circle cx="1708.5" cy="1320.2" r="4.65"/>
<circle cx="1711.2" cy="1321.5" r="4.65"/>
<circle cx="1713.8" cy="1322.8" r="4.65"/>
<circle cx="1716.4" cy="1324.0" r="4.65"/>
<circle cx="1718.9" cy="1325.2" r="4.65"/>
<circle cx="1721.4" cy="1326.4" r="4.65"/>
<circle cx="1723.9" cy="1327.6" r="4.65"/>
<circle cx="1726.3" cy="1328.7" r="4.65"/>
<circle cx="1728.6" cy="1329.9" r="4.65"/>
<circle cx="1730.9" cy="1331.0" r="4.65"/>
<circle cx="1733.2" cy="1332.1" r="4.65"/>
<circle cx="1735.5" cy="1333.1" r="4.65"/>
<circle cx="1737.7" cy="1334.2" r="4.65"/>
<circle cx="1739.9" cy="1335.2" r="4.65"/>
<circle cx="1742.0" cy="1336.2" r="4.65"/>
<circle cx="1744.1" cy="1337.2" r="4.65"/>
<circle cx="1746.2" cy="1338.1" r="4.65"/>
<circle cx="1748.2" cy="1338.9" r="4.65"/>
<circle cx="1750.2" cy="1339.8" r="4.65"/>
<circle cx="1752.2" cy="1340.5" r="4.65"/>
<circle cx="1754.2" cy="1341.3" r="4.65"/>
<circle cx="1756.1" cy="1342.1" r="4.65"/>
<circle cx="1758.0" cy="1342.8" r="4.65"/>
<circle cx="1759.9" cy="1343.5" r="4.65"/>
<circle cx="1761.7" cy="1344.1" r="4.65"/>
<circle cx="1763.5" cy="1344.8" r="4.65"/>
<circle cx="1765.3" cy="1345.4" r="4.65"/>
<circle cx="1767.1" cy="1346.0" r="4.65"/>
<circle cx="1768.9" cy="1346.6" r="4.65"/>
<circle cx="1770.6" cy="1347.2" r="4.65"/>
<circle cx="1772.3" cy="1347.7" r="4.65"/>
<circle cx="1774.0" cy="1348.3" r="4.65"/>
<circle cx="1775.6" cy="1348.9" r="4.65"/>
<circle cx="1777.3" cy="1349.4" r="4.65"/>
<circle cx="1778.9" cy="1350.0" r="4.65"/>
<circle cx="1780.5" cy="1350.5" r="4.65"/>
<circle cx="1782.1" cy="1351.0" r="4.65"/>
<circle cx="1783.7" cy="1351.5" r="4.65"/>
<circle cx="1785.2" cy="1352.0" r="4.65"/>
<circle cx="1786.8" cy="1352.4" r="4.65"/>
<circle cx="1788.3" cy="1352.7" r="4.65"/>
<circle cx="1789.8" cy="1353.0" r="4.65"/>
<circle cx="1791.3" cy="1353.3" r="4.65"/>
<circle cx="1792.7" cy="1353.6" r="4.65"/>
<circle cx="1794.2" cy="1353.9" r="4.65"/>
<circle cx="1795.6" cy="1354.1" r="4.65"/>
<circle cx="1797.1" cy="1354.3" r="4.65"/>
<circle cx="1798.5" cy="1354.6" r="4.65"/>
<circle cx="1799.9" cy="1354.8" r="4.65"/>
<circle cx="1801.2" cy="1355.0" r="4.65"/>
<circle cx="1802.6" cy="1355.3" r="4.65"/>
<circle cx="1804.0" cy="1355.6" r="4.65"/>
<circle cx="1805.3" cy="1355.8" r="4.65"/>
<circle cx="1806.6" cy="1356.1" r="4.65"/>
<circle cx="1807.9" cy="1356.4" r="4.65"/>
<circle cx="1809.2" cy="1356.7" r="4.65"/>
<circle cx="1810.5" cy="1357.0" r="4.65"/>
<circle cx="1811.8" cy="1357.3" r="4.65"/>
<circle cx="1813.1" cy="1357.6" r="4.65"/>
<circle cx="1814.3" cy="1357.8" r="4.65"/>
<circle cx="1815.5" cy="1358.1" r="4.65"/>
<circle cx="1816.8" cy="1358.4" r="4.65"/>
<circle cx="1818.0" cy="1358.6" r="4.65"/>
<circle cx="1819.2" cy="1358.8" r="4.65"/>
<circle cx="1820.4" cy="1359.1" r="4.65"/>
<circle cx="1821.6" cy="1359.3" r="4.65"/>
<circle cx="1822.8" cy="1359.5" r="4.65"/>
<circle cx="1823.9" cy="1359.7" r="4.65"/>
<circle cx="1825.1" cy="1359.9" r="4.65"/>
<circle cx="1826.2" cy="1360.1" r="4.65"/>
<circle cx="1827.4" cy="1360.3" r="4.65"/>
<circle cx="1828.5" cy="1360.5" r="4.65"/>
<circle cx="1829.6" cy="1360.7" r="4.65"/>
<circle cx="1830.7" cy="1360.9" r="4.65"/>
<circle cx="1831.8" cy="1361.0" r="4.65"/>
<circle cx="1832.9" cy="1361.2" r="4.65"/>
<circle cx="1834.0" cy="1361.4" r="4.65"/>
<circle cx="1835.1" cy="1361.5" r="4.65"/>
<circle cx="1836.1" cy="1361.7" r="4.65"/>
<circle cx="1837.2" cy="1361.8" r="4.65"/>
<circle cx="1838.2" cy="1362.0" r="4.65"/>
<circle cx="1839.3" cy="1362.2" r="4.65"/>
<circle cx="1840.3" cy="1362.3" r="4.65"/>
<circle cx="1841.3" cy="1362.5" r="4.65"/>
<circle cx="1842.3" cy="1362.7" r="4.65"/>
<circle cx="1843.4" cy="1362.8" r="4.65"/>
<circle cx="1844.4" cy="1363.0" r="4.65"/>
<circle cx="1845.4" cy="1363.1" r="4.65"/>
<circle cx="1846.3" cy="1363.3" r="4.65"/>
<circle cx="1847.3" cy="1363.4" r="4.65"/>
<circle cx="1848.3" cy="1363.6" r="4.65"/>
<circle cx="1849.3" cy="1363.7" r="4.65"/>
<circle cx="1850.2" cy="1363.9" r="4.65"/>
<circle cx="1851.2" cy="1364.1" r="4.65"/>
<circle cx="1852.1" cy="1364.2" r="4.65"/>
<circle cx="1853.1" cy="1364.4" r="4.65"/>
<circle cx="1854.0" cy="1364.5" r="4.65"/>
<circle cx="1854.9" cy="1364.7" r="4.65"/>
<circle cx="1855.8" cy="1364.8" r="4.65"/>
<circle cx="1856.8" cy="1365.0" r="4.65"/>
<circle cx="1857.7" cy="1365.1" r="4.65"/>
<circle cx="1858.6" cy="1365.2" r="4.65"/>
<circle cx="1859.5" cy="1365.3" r="4.65"/>
<circle cx="1860.4" cy="1365.4" r="4.65"/>
<circle cx="1861.2" cy="1365.5" r="4.65"/>
<circle cx="1862.1" cy="1365.5" r="4.65"/>
<circle cx="1863.0" cy="1365.6" r="4.65"/>
<circle cx="1863.9" cy="1365.6" r="4.65"/>
<circle cx="1864.7" cy="1365.6" r="4.65"/>
<circle cx="1865.6" cy="1365.6" r="4.65"/>
<circle cx="1866.4" cy="1365.6" r="4.65"/>
</g></g>
<g clip-path="url(#c986_921r)">
<circle cx="1177.2" cy="1602.8" r="6.0"/>
<circle cx="1271.3" cy="1605.1" r="6.0"/>
<circle cx="1326.4" cy="1619.2" r="6.0"/>
<circle cx="1365.5" cy="1620.6" r="6.0"/>
<circle cx="1395.8" cy="1618.3" r="6.0"/>
<circle cx="1420.5" cy="1623.1" r="6.0"/>
<circle cx="1441.5" cy="1622.3" r="6.0"/>
<circle cx="1459.6" cy="1616.0" r="6.0"/>
<circle cx="1475.6" cy="1612.3" r="6.0"/>
<circle cx="1489.9" cy="1611.1" r="6.0"/>
<circle cx="1502.8" cy="1610.6" r="6.0"/>
<circle cx="1514.7" cy="1612.2" r="6.0"/>
<circle cx="1525.5" cy="1613.9" r="6.0"/>
<circle cx="1535.6" cy="1614.9" r="6.0"/>
<circle cx="1545.0" cy="1615.4" r="6.0"/>
<circle cx="1553.7" cy="1614.9" r="6.0"/>
<circle cx="1562.0" cy="1614.9" r="6.0"/>
<circle cx="1569.7" cy="1614.8" r="6.0"/>
<circle cx="1577.1" cy="1615.4" r="6.0"/>
<circle cx="1584.0" cy="1615.9" r="6.0"/>
<circle cx="1590.7" cy="1615.6" r="6.0"/>
<circle cx="1597.0" cy="1615.7" r="6.0"/>
<circle cx="1603.0" cy="1615.5" r="6.0"/>
<circle cx="1608.8" cy="1615.0" r="6.0"/>
<circle cx="1614.3" cy="1615.3" r="6.0"/>
<circle cx="1619.7" cy="1615.9" r="6.0"/>
<circle cx="1624.8" cy="1616.1" r="6.0"/>
<circle cx="1629.7" cy="1616.0" r="6.0"/>
<circle cx="1634.5" cy="1615.6" r="6.0"/>
<circle cx="1639.1" cy="1615.6" r="6.0"/>
<circle cx="1643.5" cy="1615.6" r="6.0"/>
<circle cx="1647.9" cy="1615.5" r="6.0"/>
<circle cx="1652.0" cy="1615.6" r="6.0"/>
<circle cx="1656.1" cy="1615.7" r="6.0"/>
<circle cx="1660.0" cy="1615.8" r="6.0"/>
<circle cx="1663.9" cy="1615.8" r="6.0"/>
<circle cx="1667.6" cy="1615.3" r="6.0"/>
<circle cx="1671.2" cy="1614.5" r="6.0"/>
<circle cx="1674.7" cy="1614.2" r="6.0"/>
<circle cx="1678.2" cy="1614.4" r="6.0"/>
<circle cx="1681.5" cy="1614.3" r="6.0"/>
<circle cx="1684.8" cy="1614.1" r="6.0"/>
<circle cx="1688.0" cy="1614.0" r="6.0"/>
<circle cx="1691.1" cy="1614.2" r="6.0"/>
<circle cx="1694.2" cy="1614.2" r="6.0"/>
<circle cx="1697.1" cy="1613.9" r="6.0"/>
<circle cx="1700.1" cy="1612.8" r="6.0"/>
<circle cx="1702.9" cy="1611.9" r="6.0"/>
<circle cx="1705.7" cy="1612.0" r="6.0"/>
<circle cx="1708.5" cy="1611.9" r="6.0"/>
<circle cx="1711.2" cy="1611.3" r="6.0"/>
<circle cx="1713.8" cy="1611.3" r="6.0"/>
<circle cx="1716.4" cy="1611.5" r="6.0"/>
<circle cx="1718.9" cy="1611.5" r="6.0"/>
<circle cx="1721.4" cy="1611.7" r="6.0"/>
<circle cx="1723.9" cy="1612.0" r="6.0"/>
<circle cx="1726.3" cy="1612.2" r="6.0"/>
<circle cx="1728.6" cy="1612.2" r="6.0"/>
<circle cx="1730.9" cy="1612.2" r="6.0"/>
<circle cx="1733.2" cy="1612.4" r="6.0"/>
<circle cx="1735.5" cy="1613.0" r="6.0"/>
<circle cx="1737.7" cy="1613.6" r="6.0"/>
<circle cx="1739.9" cy="1613.2" r="6.0"/>
<circle cx="1742.0" cy="1612.9" r="6.0"/>
<circle cx="1744.1" cy="1613.4" r="6.0"/>
<circle cx="1746.2" cy="1613.9" r="6.0"/>
<circle cx="1748.2" cy="1614.1" r="6.0"/>
<circle cx="1750.2" cy="1614.1" r="6.0"/>
<circle cx="1752.2" cy="1614.0" r="6.0"/>
<circle cx="1754.2" cy="1613.9" r="6.0"/>
<circle cx="1756.1" cy="1613.6" r="6.0"/>
<circle cx="1758.0" cy="1613.7" r="6.0"/>
<circle cx="1759.9" cy="1613.8" r="6.0"/>
<circle cx="1761.7" cy="1613.5" r="6.0"/>
<circle cx="1763.5" cy="1613.6" r="6.0"/>
<line x1="1765.3" y1="1608.1" x2="1765.3" y2="1620.1" stroke="#000" stroke-width="4"/>
<circle cx="1765.3" cy="1614.1" r="6.0"/>
<line x1="1767.1" y1="1608.1" x2="1767.1" y2="1620.2" stroke="#000" stroke-width="4"/>
<circle cx="1767.1" cy="1614.2" r="6.0"/>
<line x1="1768.9" y1="1608.1" x2="1768.9" y2="1620.3" stroke="#000" stroke-width="4"/>
<circle cx="1768.9" cy="1614.2" r="6.0"/>
<line x1="1770.6" y1="1608.6" x2="1770.6" y2="1620.9" stroke="#000" stroke-width="4"/>
<circle cx="1770.6" cy="1614.7" r="6.0"/>
<line x1="1772.3" y1="1608.9" x2="1772.3" y2="1621.3" stroke="#000" stroke-width="4"/>
<circle cx="1772.3" cy="1615.1" r="6.0"/>
<line x1="1774.0" y1="1608.4" x2="1774.0" y2="1620.9" stroke="#000" stroke-width="4"/>
<circle cx="1774.0" cy="1614.7" r="6.0"/>
<line x1="1775.6" y1="1608.2" x2="1775.6" y2="1620.7" stroke="#000" stroke-width="4"/>
<circle cx="1775.6" cy="1614.5" r="6.0"/>
<line x1="1777.3" y1="1608.5" x2="1777.3" y2="1621.2" stroke="#000" stroke-width="4"/>
<circle cx="1777.3" cy="1614.9" r="6.0"/>
<line x1="1778.9" y1="1608.9" x2="1778.9" y2="1621.7" stroke="#000" stroke-width="4"/>
<circle cx="1778.9" cy="1615.3" r="6.0"/>
<line x1="1780.5" y1="1609.0" x2="1780.5" y2="1621.9" stroke="#000" stroke-width="4"/>
<circle cx="1780.5" cy="1615.4" r="6.0"/>
<line x1="1782.1" y1="1609.1" x2="1782.1" y2="1622.0" stroke="#000" stroke-width="4"/>
<circle cx="1782.1" cy="1615.5" r="6.0"/>
<line x1="1783.7" y1="1608.9" x2="1783.7" y2="1621.9" stroke="#000" stroke-width="4"/>
<circle cx="1783.7" cy="1615.4" r="6.0"/>
<line x1="1785.2" y1="1608.4" x2="1785.2" y2="1621.5" stroke="#000" stroke-width="4"/>
<circle cx="1785.2" cy="1614.9" r="6.0"/>
<line x1="1786.8" y1="1608.3" x2="1786.8" y2="1621.4" stroke="#000" stroke-width="4"/>
<circle cx="1786.8" cy="1614.8" r="6.0"/>
<line x1="1788.3" y1="1608.5" x2="1788.3" y2="1621.7" stroke="#000" stroke-width="4"/>
<circle cx="1788.3" cy="1615.1" r="6.0"/>
<line x1="1789.8" y1="1608.6" x2="1789.8" y2="1621.9" stroke="#000" stroke-width="4"/>
<circle cx="1789.8" cy="1615.3" r="6.0"/>
<line x1="1791.3" y1="1608.6" x2="1791.3" y2="1622.0" stroke="#000" stroke-width="4"/>
<circle cx="1791.3" cy="1615.3" r="6.0"/>
<line x1="1792.7" y1="1608.8" x2="1792.7" y2="1622.3" stroke="#000" stroke-width="4"/>
<circle cx="1792.7" cy="1615.5" r="6.0"/>
<line x1="1794.2" y1="1609.0" x2="1794.2" y2="1622.5" stroke="#000" stroke-width="4"/>
<circle cx="1794.2" cy="1615.7" r="6.0"/>
<line x1="1795.6" y1="1609.0" x2="1795.6" y2="1622.7" stroke="#000" stroke-width="4"/>
<circle cx="1795.6" cy="1615.8" r="6.0"/>
<line x1="1797.1" y1="1608.6" x2="1797.1" y2="1622.3" stroke="#000" stroke-width="4"/>
<circle cx="1797.1" cy="1615.5" r="6.0"/>
<line x1="1798.5" y1="1608.1" x2="1798.5" y2="1621.9" stroke="#000" stroke-width="4"/>
<circle cx="1798.5" cy="1615.0" r="6.0"/>
<line x1="1799.9" y1="1608.3" x2="1799.9" y2="1622.1" stroke="#000" stroke-width="4"/>
<circle cx="1799.9" cy="1615.2" r="6.0"/>
<line x1="1801.2" y1="1608.8" x2="1801.2" y2="1622.7" stroke="#000" stroke-width="4"/>
<circle cx="1801.2" cy="1615.7" r="6.0"/>
<line x1="1802.6" y1="1609.0" x2="1802.6" y2="1623.0" stroke="#000" stroke-width="4"/>
<circle cx="1802.6" cy="1616.0" r="6.0"/>
<line x1="1804.0" y1="1608.9" x2="1804.0" y2="1623.0" stroke="#000" stroke-width="4"/>
<circle cx="1804.0" cy="1616.0" r="6.0"/>
<line x1="1805.3" y1="1608.6" x2="1805.3" y2="1622.8" stroke="#000" stroke-width="4"/>
<circle cx="1805.3" cy="1615.7" r="6.0"/>
<line x1="1806.6" y1="1608.7" x2="1806.6" y2="1623.0" stroke="#000" stroke-width="4"/>
<circle cx="1806.6" cy="1615.8" r="6.0"/>
<line x1="1807.9" y1="1608.9" x2="1807.9" y2="1623.3" stroke="#000" stroke-width="4"/>
<circle cx="1807.9" cy="1616.1" r="6.0"/>
<line x1="1809.2" y1="1608.7" x2="1809.2" y2="1623.2" stroke="#000" stroke-width="4"/>
<circle cx="1809.2" cy="1615.9" r="6.0"/>
<line x1="1810.5" y1="1608.4" x2="1810.5" y2="1623.0" stroke="#000" stroke-width="4"/>
<circle cx="1810.5" cy="1615.7" r="6.0"/>
<line x1="1811.8" y1="1608.2" x2="1811.8" y2="1622.8" stroke="#000" stroke-width="4"/>
<circle cx="1811.8" cy="1615.5" r="6.0"/>
<line x1="1813.1" y1="1608.0" x2="1813.1" y2="1622.8" stroke="#000" stroke-width="4"/>
<circle cx="1813.1" cy="1615.4" r="6.0"/>
<line x1="1814.3" y1="1608.0" x2="1814.3" y2="1622.9" stroke="#000" stroke-width="4"/>
<circle cx="1814.3" cy="1615.4" r="6.0"/>
<line x1="1815.5" y1="1608.3" x2="1815.5" y2="1623.3" stroke="#000" stroke-width="4"/>
<circle cx="1815.5" cy="1615.8" r="6.0"/>
<line x1="1816.8" y1="1608.4" x2="1816.8" y2="1623.5" stroke="#000" stroke-width="4"/>
<circle cx="1816.8" cy="1616.0" r="6.0"/>
<line x1="1818.0" y1="1608.1" x2="1818.0" y2="1623.2" stroke="#000" stroke-width="4"/>
<circle cx="1818.0" cy="1615.6" r="6.0"/>
<line x1="1819.2" y1="1607.8" x2="1819.2" y2="1623.0" stroke="#000" stroke-width="4"/>
<circle cx="1819.2" cy="1615.4" r="6.0"/>
<line x1="1820.4" y1="1608.0" x2="1820.4" y2="1623.3" stroke="#000" stroke-width="4"/>
<circle cx="1820.4" cy="1615.6" r="6.0"/>
<line x1="1821.6" y1="1608.3" x2="1821.6" y2="1623.6" stroke="#000" stroke-width="4"/>
<circle cx="1821.6" cy="1615.9" r="6.0"/>
<line x1="1822.8" y1="1608.0" x2="1822.8" y2="1623.5" stroke="#000" stroke-width="4"/>
<circle cx="1822.8" cy="1615.8" r="6.0"/>
<line x1="1823.9" y1="1607.8" x2="1823.9" y2="1623.4" stroke="#000" stroke-width="4"/>
<circle cx="1823.9" cy="1615.6" r="6.0"/>
<line x1="1825.1" y1="1607.9" x2="1825.1" y2="1623.5" stroke="#000" stroke-width="4"/>
<circle cx="1825.1" cy="1615.7" r="6.0"/>
<line x1="1826.2" y1="1607.6" x2="1826.2" y2="1623.3" stroke="#000" stroke-width="4"/>
<circle cx="1826.2" cy="1615.5" r="6.0"/>
<line x1="1827.4" y1="1607.2" x2="1827.4" y2="1623.0" stroke="#000" stroke-width="4"/>
<circle cx="1827.4" cy="1615.1" r="6.0"/>
<line x1="1828.5" y1="1607.4" x2="1828.5" y2="1623.3" stroke="#000" stroke-width="4"/>
<circle cx="1828.5" cy="1615.3" r="6.0"/>
<line x1="1829.6" y1="1607.5" x2="1829.6" y2="1623.4" stroke="#000" stroke-width="4"/>
<circle cx="1829.6" cy="1615.5" r="6.0"/>
<line x1="1830.7" y1="1607.1" x2="1830.7" y2="1623.1" stroke="#000" stroke-width="4"/>
<circle cx="1830.7" cy="1615.1" r="6.0"/>
<line x1="1831.8" y1="1606.9" x2="1831.8" y2="1623.0" stroke="#000" stroke-width="4"/>
<circle cx="1831.8" cy="1615.0" r="6.0"/>
<line x1="1832.9" y1="1606.8" x2="1832.9" y2="1623.0" stroke="#000" stroke-width="4"/>
<circle cx="1832.9" cy="1614.9" r="6.0"/>
<line x1="1834.0" y1="1606.5" x2="1834.0" y2="1622.7" stroke="#000" stroke-width="4"/>
<circle cx="1834.0" cy="1614.6" r="6.0"/>
<line x1="1835.1" y1="1606.3" x2="1835.1" y2="1622.7" stroke="#000" stroke-width="4"/>
<circle cx="1835.1" cy="1614.5" r="6.0"/>
<line x1="1836.1" y1="1606.2" x2="1836.1" y2="1622.6" stroke="#000" stroke-width="4"/>
<circle cx="1836.1" cy="1614.4" r="6.0"/>
<line x1="1837.2" y1="1606.1" x2="1837.2" y2="1622.6" stroke="#000" stroke-width="4"/>
<circle cx="1837.2" cy="1614.3" r="6.0"/>
<line x1="1838.2" y1="1606.2" x2="1838.2" y2="1622.8" stroke="#000" stroke-width="4"/>
<circle cx="1838.2" cy="1614.5" r="6.0"/>
<line x1="1839.3" y1="1606.5" x2="1839.3" y2="1623.1" stroke="#000" stroke-width="4"/>
<circle cx="1839.3" cy="1614.8" r="6.0"/>
<line x1="1840.3" y1="1606.5" x2="1840.3" y2="1623.2" stroke="#000" stroke-width="4"/>
<circle cx="1840.3" cy="1614.8" r="6.0"/>
<line x1="1841.3" y1="1606.3" x2="1841.3" y2="1623.1" stroke="#000" stroke-width="4"/>
<circle cx="1841.3" cy="1614.7" r="6.0"/>
<line x1="1842.3" y1="1606.3" x2="1842.3" y2="1623.1" stroke="#000" stroke-width="4"/>
<circle cx="1842.3" cy="1614.7" r="6.0"/>
<line x1="1843.4" y1="1606.6" x2="1843.4" y2="1623.5" stroke="#000" stroke-width="4"/>
<circle cx="1843.4" cy="1615.0" r="6.0"/>
<line x1="1844.4" y1="1606.6" x2="1844.4" y2="1623.6" stroke="#000" stroke-width="4"/>
<circle cx="1844.4" cy="1615.1" r="6.0"/>
<line x1="1845.4" y1="1606.4" x2="1845.4" y2="1623.4" stroke="#000" stroke-width="4"/>
<circle cx="1845.4" cy="1614.9" r="6.0"/>
<line x1="1846.3" y1="1606.5" x2="1846.3" y2="1623.7" stroke="#000" stroke-width="4"/>
<circle cx="1846.3" cy="1615.1" r="6.0"/>
<line x1="1847.3" y1="1606.5" x2="1847.3" y2="1623.8" stroke="#000" stroke-width="4"/>
<circle cx="1847.3" cy="1615.1" r="6.0"/>
<line x1="1848.3" y1="1606.1" x2="1848.3" y2="1623.4" stroke="#000" stroke-width="4"/>
<circle cx="1848.3" cy="1614.7" r="6.0"/>
<line x1="1849.3" y1="1605.9" x2="1849.3" y2="1623.2" stroke="#000" stroke-width="4"/>
<circle cx="1849.3" cy="1614.6" r="6.0"/>
<line x1="1850.2" y1="1605.8" x2="1850.2" y2="1623.2" stroke="#000" stroke-width="4"/>
<circle cx="1850.2" cy="1614.5" r="6.0"/>
<line x1="1851.2" y1="1606.0" x2="1851.2" y2="1623.5" stroke="#000" stroke-width="4"/>
<circle cx="1851.2" cy="1614.7" r="6.0"/>
<line x1="1852.1" y1="1606.3" x2="1852.1" y2="1623.9" stroke="#000" stroke-width="4"/>
<circle cx="1852.1" cy="1615.1" r="6.0"/>
<line x1="1853.1" y1="1606.3" x2="1853.1" y2="1623.9" stroke="#000" stroke-width="4"/>
<circle cx="1853.1" cy="1615.1" r="6.0"/>
<line x1="1854.0" y1="1606.1" x2="1854.0" y2="1623.8" stroke="#000" stroke-width="4"/>
<circle cx="1854.0" cy="1614.9" r="6.0"/>
<line x1="1854.9" y1="1606.0" x2="1854.9" y2="1623.7" stroke="#000" stroke-width="4"/>
<circle cx="1854.9" cy="1614.9" r="6.0"/>
<line x1="1855.8" y1="1606.0" x2="1855.8" y2="1623.8" stroke="#000" stroke-width="4"/>
<circle cx="1855.8" cy="1614.9" r="6.0"/>
<line x1="1856.8" y1="1606.1" x2="1856.8" y2="1624.0" stroke="#000" stroke-width="4"/>
<circle cx="1856.8" cy="1615.0" r="6.0"/>
<line x1="1857.7" y1="1606.1" x2="1857.7" y2="1624.1" stroke="#000" stroke-width="4"/>
<circle cx="1857.7" cy="1615.1" r="6.0"/>
<line x1="1858.6" y1="1606.0" x2="1858.6" y2="1624.1" stroke="#000" stroke-width="4"/>
<circle cx="1858.6" cy="1615.1" r="6.0"/>
<line x1="1859.5" y1="1606.0" x2="1859.5" y2="1624.1" stroke="#000" stroke-width="4"/>
<circle cx="1859.5" cy="1615.1" r="6.0"/>
<line x1="1860.4" y1="1605.6" x2="1860.4" y2="1623.7" stroke="#000" stroke-width="4"/>
<circle cx="1860.4" cy="1614.7" r="6.0"/>
<line x1="1861.2" y1="1604.9" x2="1861.2" y2="1623.1" stroke="#000" stroke-width="4"/>
<circle cx="1861.2" cy="1614.0" r="6.0"/>
<line x1="1862.1" y1="1604.4" x2="1862.1" y2="1622.7" stroke="#000" stroke-width="4"/>
<circle cx="1862.1" cy="1613.6" r="6.0"/>
<line x1="1863.0" y1="1604.5" x2="1863.0" y2="1622.8" stroke="#000" stroke-width="4"/>
<circle cx="1863.0" cy="1613.6" r="6.0"/>
<line x1="1863.9" y1="1604.7" x2="1863.9" y2="1623.1" stroke="#000" stroke-width="4"/>
<circle cx="1863.9" cy="1613.9" r="6.0"/>
<line x1="1864.7" y1="1604.3" x2="1864.7" y2="1622.7" stroke="#000" stroke-width="4"/>
<circle cx="1864.7" cy="1613.5" r="6.0"/>
<line x1="1865.6" y1="1603.6" x2="1865.6" y2="1622.2" stroke="#000" stroke-width="4"/>
<circle cx="1865.6" cy="1612.9" r="6.0"/>
<line x1="1866.4" y1="1603.5" x2="1866.4" y2="1622.1" stroke="#000" stroke-width="4"/>
<circle cx="1866.4" cy="1612.8" r="6.0"/>
</g>
<rect x="1160.5" y="1658.0" width="18" height="22" fill="#fff" opacity="0.85"/>
<rect x="1143.1" y="922.0" width="757.0" height="615.5" fill="none" stroke="#000" stroke-width="2.2"/>
<rect x="1143.1" y="1537.5" width="757.0" height="153.4" fill="none" stroke="#000" stroke-width="2.2"/>
<line x1="1134.1" y1="966.0" x2="1143.1" y2="966.0" stroke="#000" stroke-width="2"/>
<text x="1124.8" y="978.9" font-size="32.8" text-anchor="end">12</text>
<line x1="1134.1" y1="1053.9" x2="1143.1" y2="1053.9" stroke="#000" stroke-width="2"/>
<text x="1124.8" y="1066.8" font-size="32.8" text-anchor="end">14</text>
<line x1="1134.1" y1="1141.8" x2="1143.1" y2="1141.8" stroke="#000" stroke-width="2"/>
<text x="1124.8" y="1154.7" font-size="32.8" text-anchor="end">16</text>
<line x1="1134.1" y1="1229.7" x2="1143.1" y2="1229.7" stroke="#000" stroke-width="2"/>
<text x="1124.8" y="1242.6" font-size="32.8" text-anchor="end">18</text>
<line x1="1134.1" y1="1317.6" x2="1143.1" y2="1317.6" stroke="#000" stroke-width="2"/>
<text x="1124.8" y="1330.5" font-size="32.8" text-anchor="end">20</text>
<line x1="1134.1" y1="1405.6" x2="1143.1" y2="1405.6" stroke="#000" stroke-width="2"/>
<text x="1124.8" y="1418.5" font-size="32.8" text-anchor="end">22</text>
<line x1="1134.1" y1="1493.5" x2="1143.1" y2="1493.5" stroke="#000" stroke-width="2"/>
<text x="1124.8" y="1506.4" font-size="32.8" text-anchor="end">24</text>
<line x1="1134.1" y1="1537.6" x2="1143.1" y2="1537.6" stroke="#000" stroke-width="2"/>
<text x="1124.8" y="1550.5" font-size="32.8" text-anchor="end">0.05</text>
<line x1="1134.1" y1="1614.3" x2="1143.1" y2="1614.3" stroke="#000" stroke-width="2"/>
<text x="1124.8" y="1627.2" font-size="32.8" text-anchor="end">0.00</text>
<line x1="1134.1" y1="1691.1" x2="1143.1" y2="1691.1" stroke="#000" stroke-width="2"/>
<text x="1124.8" y="1704.0" font-size="32.8" text-anchor="end">−0.05</text>
<line x1="1146.9" y1="1690.8" x2="1146.9" y2="1695.6" stroke="#000" stroke-width="1.6"/>
<line x1="1162.9" y1="1690.8" x2="1162.9" y2="1695.6" stroke="#000" stroke-width="1.6"/>
<line x1="1177.2" y1="1690.8" x2="1177.2" y2="1699.8" stroke="#000" stroke-width="2"/>
<text x="1148.4" y="1735.1" font-size="32.8">10</text>
<text x="1190.3" y="1722.2" font-size="23.2">0</text>
<line x1="1271.3" y1="1690.8" x2="1271.3" y2="1695.6" stroke="#000" stroke-width="1.6"/>
<line x1="1326.4" y1="1690.8" x2="1326.4" y2="1695.6" stroke="#000" stroke-width="1.6"/>
<line x1="1365.5" y1="1690.8" x2="1365.5" y2="1695.6" stroke="#000" stroke-width="1.6"/>
<line x1="1395.8" y1="1690.8" x2="1395.8" y2="1695.6" stroke="#000" stroke-width="1.6"/>
<line x1="1420.5" y1="1690.8" x2="1420.5" y2="1695.6" stroke="#000" stroke-width="1.6"/>
<line x1="1441.5" y1="1690.8" x2="1441.5" y2="1695.6" stroke="#000" stroke-width="1.6"/>
<line x1="1459.6" y1="1690.8" x2="1459.6" y2="1695.6" stroke="#000" stroke-width="1.6"/>
<line x1="1475.6" y1="1690.8" x2="1475.6" y2="1695.6" stroke="#000" stroke-width="1.6"/>
<line x1="1489.9" y1="1690.8" x2="1489.9" y2="1699.8" stroke="#000" stroke-width="2"/>
<text x="1461.1" y="1735.1" font-size="32.8">10</text>
<text x="1503.0" y="1722.2" font-size="23.2">1</text>
<line x1="1584.0" y1="1690.8" x2="1584.0" y2="1695.6" stroke="#000" stroke-width="1.6"/>
<line x1="1639.1" y1="1690.8" x2="1639.1" y2="1695.6" stroke="#000" stroke-width="1.6"/>
<line x1="1678.2" y1="1690.8" x2="1678.2" y2="1695.6" stroke="#000" stroke-width="1.6"/>
<line x1="1708.5" y1="1690.8" x2="1708.5" y2="1695.6" stroke="#000" stroke-width="1.6"/>
<line x1="1733.2" y1="1690.8" x2="1733.2" y2="1695.6" stroke="#000" stroke-width="1.6"/>
<line x1="1754.2" y1="1690.8" x2="1754.2" y2="1695.6" stroke="#000" stroke-width="1.6"/>
<line x1="1772.3" y1="1690.8" x2="1772.3" y2="1695.6" stroke="#000" stroke-width="1.6"/>
<line x1="1788.3" y1="1690.8" x2="1788.3" y2="1695.6" stroke="#000" stroke-width="1.6"/>
<line x1="1802.6" y1="1690.8" x2="1802.6" y2="1699.8" stroke="#000" stroke-width="2"/>
<text x="1773.8" y="1735.1" font-size="32.8">10</text>
<text x="1815.7" y="1722.2" font-size="23.2">2</text>
<line x1="1896.7" y1="1690.8" x2="1896.7" y2="1695.6" stroke="#000" stroke-width="1.6"/>
<text x="1521.4" y="1785.1" font-size="43.25" text-anchor="middle">Radius [pixel]</text>
<text transform="translate(1020.1,1229.3) rotate(-90)" font-size="43.25" text-anchor="middle">Surface brightness</text>
<text transform="translate(1020.1,1614.0) rotate(-90)" font-size="43.25" text-anchor="middle">Residual</text>
<rect x="1167.2" y="944.1" width="153.5" height="57.6" fill="#fff" stroke="#000" stroke-width="2.3"/>
<text x="1177.5" y="983.6" font-size="38.3">F814W</text>
<rect x="1549.5" y="932.6" width="339.3" height="251.8" fill="#fff"/>
<line x1="1587.1" y1="942.5" x2="1587.1" y2="968.3" stroke="#000" stroke-width="4"/>
<circle cx="1587.1" cy="955.4" r="9.7"/>
<circle cx="1587.1" cy="992.8" r="4.65" fill="#1E90FF"/>
<line x1="1561.5" y1="1029.8" x2="1613.0" y2="1029.8" stroke="#E69F00" stroke-width="5.3" stroke-dasharray="20.3 10.4"/>
<line x1="1561.5" y1="1072.7" x2="1613.0" y2="1072.7" stroke="#56B4E9" stroke-width="4.9" stroke-dasharray="25.8 5.3 5 5.5"/>
<line x1="1561.5" y1="1118.7" x2="1613.0" y2="1118.7" stroke="#009E73" stroke-width="4.9" stroke-dasharray="15.4 5.4 4.6 5.4 4.6 5.1"/>
<line x1="1561.5" y1="1158.5" x2="1613.0" y2="1158.5" stroke="#CC79A7" stroke-width="4.6" stroke-dasharray="4.8 5.28"/>
<g font-size="25.45">
<text x="1617.5" y="963.6">Observed SB</text>
<text x="1617.5" y="1001.3">Total model SB</text>
<text x="1617.5" y="1038.5">AGN</text>
<text x="1617.5" y="1166.6">Sky</text>
</g>
<text y="1080.1" font-size="25.45"><tspan x="1617.5">Sérsic profile: </tspan><tspan x="1799.8" font-style="oblique">n</tspan><tspan x="1815.5" dy="4.4" font-size="17.7">S</tspan><tspan x="1832.3" dy="-4.4">=</tspan><tspan x="1858.2">4</tspan></text>
<text y="1126.1" font-size="25.45"><tspan x="1617.5">Sérsic profile: </tspan><tspan x="1799.8" font-style="oblique">n</tspan><tspan x="1815.5" dy="4.4" font-size="17.7">S</tspan><tspan x="1832.3" dy="-4.4">=</tspan><tspan x="1858.2">1</tspan></text>
<clipPath id="b0"><rect x="156.6" y="1852.0" width="757.0" height="389.9"/></clipPath>
<g stroke="#ababab" stroke-width="2" stroke-dasharray="7.4 3.2" fill="none">
<line x1="160.4" y1="2241.9" x2="160.4" y2="1852.0"/>
<line x1="176.4" y1="2241.9" x2="176.4" y2="1852.0"/>
<line x1="190.7" y1="2241.9" x2="190.7" y2="1852.0"/>
<line x1="284.8" y1="2241.9" x2="284.8" y2="1852.0"/>
<line x1="339.9" y1="2241.9" x2="339.9" y2="1852.0"/>
<line x1="379.0" y1="2241.9" x2="379.0" y2="1852.0"/>
<line x1="409.3" y1="2241.9" x2="409.3" y2="1852.0"/>
<line x1="434.0" y1="2241.9" x2="434.0" y2="1852.0"/>
<line x1="455.0" y1="2241.9" x2="455.0" y2="1852.0"/>
<line x1="473.1" y1="2241.9" x2="473.1" y2="1852.0"/>
<line x1="489.1" y1="2241.9" x2="489.1" y2="1852.0"/>
<line x1="503.4" y1="2241.9" x2="503.4" y2="1852.0"/>
<line x1="597.5" y1="2241.9" x2="597.5" y2="1852.0"/>
<line x1="652.6" y1="2241.9" x2="652.6" y2="1852.0"/>
<line x1="691.7" y1="2241.9" x2="691.7" y2="1852.0"/>
<line x1="722.0" y1="2241.9" x2="722.0" y2="1852.0"/>
<line x1="746.7" y1="2241.9" x2="746.7" y2="1852.0"/>
<line x1="767.7" y1="2241.9" x2="767.7" y2="1852.0"/>
<line x1="785.8" y1="2241.9" x2="785.8" y2="1852.0"/>
<line x1="801.8" y1="2241.9" x2="801.8" y2="1852.0"/>
<line x1="816.1" y1="2241.9" x2="816.1" y2="1852.0"/>
<line x1="910.2" y1="2241.9" x2="910.2" y2="1852.0"/>
<line x1="156.6" y1="2176.9" x2="913.6" y2="2176.9"/>
<line x1="156.6" y1="2111.9" x2="913.6" y2="2111.9"/>
<line x1="156.6" y1="2047.0" x2="913.6" y2="2047.0"/>
<line x1="156.6" y1="1982.0" x2="913.6" y2="1982.0"/>
<line x1="156.6" y1="1917.0" x2="913.6" y2="1917.0"/>
</g>
<g clip-path="url(#b0)">
<g fill="#ff0000" fill-opacity="0.8">
<circle cx="190.7" cy="1929.3" r="4.9"/>
<circle cx="284.8" cy="2029.4" r="4.9"/>
<circle cx="339.9" cy="2123.6" r="4.9"/>
<circle cx="379.0" cy="2187.3" r="4.9"/>
<circle cx="409.3" cy="2166.5" r="4.9"/>
<circle cx="434.0" cy="2095.7" r="4.9"/>
<circle cx="455.0" cy="2062.5" r="4.9"/>
<circle cx="473.1" cy="2058.6" r="4.9"/>
<circle cx="489.1" cy="2054.7" r="4.9"/>
<circle cx="503.4" cy="2035.9" r="4.9"/>
<circle cx="516.3" cy="2016.4" r="4.9"/>
<circle cx="528.2" cy="2006.7" r="4.9"/>
<circle cx="539.0" cy="2002.1" r="4.9"/>
<circle cx="549.1" cy="1998.2" r="4.9"/>
<circle cx="558.5" cy="1996.9" r="4.9"/>
<circle cx="567.2" cy="1995.0" r="4.9"/>
<circle cx="575.5" cy="1998.2" r="4.9"/>
<circle cx="583.2" cy="2006.0" r="4.9"/>
<circle cx="590.6" cy="2013.2" r="4.9"/>
<circle cx="597.5" cy="2022.9" r="4.9"/>
<circle cx="604.2" cy="2034.6" r="4.9"/>
<circle cx="610.5" cy="2043.7" r="4.9"/>
<circle cx="616.5" cy="2043.7" r="4.9"/>
<circle cx="622.3" cy="2030.1" r="4.9"/>
<circle cx="627.8" cy="2027.5" r="4.9"/>
<circle cx="633.2" cy="2036.9" r="4.9"/>
<circle cx="638.3" cy="2035.8" r="4.9"/>
<circle cx="643.2" cy="2041.1" r="4.9"/>
<circle cx="648.0" cy="2043.6" r="4.9"/>
<circle cx="652.6" cy="2049.5" r="4.9"/>
<circle cx="657.0" cy="2046.6" r="4.9"/>
<circle cx="661.4" cy="2048.5" r="4.9"/>
<circle cx="665.5" cy="2052.0" r="4.9"/>
<circle cx="669.6" cy="2058.1" r="4.9"/>
<circle cx="673.5" cy="2057.9" r="4.9"/>
<circle cx="677.4" cy="2059.7" r="4.9"/>
<circle cx="681.1" cy="2066.4" r="4.9"/>
<circle cx="684.7" cy="2068.4" r="4.9"/>
<circle cx="688.2" cy="2069.9" r="4.9"/>
<circle cx="691.7" cy="2077.2" r="4.9"/>
<circle cx="695.0" cy="2067.5" r="4.9"/>
<circle cx="698.3" cy="2062.0" r="4.9"/>
<circle cx="701.5" cy="2070.6" r="4.9"/>
<circle cx="704.6" cy="2077.8" r="4.9"/>
<circle cx="707.7" cy="2078.1" r="4.9"/>
<circle cx="710.6" cy="2078.3" r="4.9"/>
<circle cx="713.6" cy="2079.2" r="4.9"/>
<circle cx="716.4" cy="2078.0" r="4.9"/>
<circle cx="719.2" cy="2079.6" r="4.9"/>
<circle cx="722.0" cy="2088.0" r="4.9"/>
<circle cx="724.7" cy="2090.2" r="4.9"/>
<circle cx="727.3" cy="2090.8" r="4.9"/>
<circle cx="729.9" cy="2086.3" r="4.9"/>
<circle cx="732.4" cy="2083.2" r="4.9"/>
<circle cx="734.9" cy="2090.7" r="4.9"/>
<circle cx="737.4" cy="2099.9" r="4.9"/>
<circle cx="739.8" cy="2104.8" r="4.9"/>
<circle cx="742.1" cy="2106.9" r="4.9"/>
<circle cx="744.4" cy="2097.7" r="4.9"/>
<circle cx="746.7" cy="2088.9" r="4.9"/>
<circle cx="749.0" cy="2089.9" r="4.9"/>
<circle cx="751.2" cy="2092.7" r="4.9"/>
<circle cx="753.4" cy="2101.3" r="4.9"/>
<circle cx="755.5" cy="2110.9" r="4.9"/>
<circle cx="757.6" cy="2116.6" r="4.9"/>
<circle cx="759.7" cy="2113.9" r="4.9"/>
<circle cx="761.7" cy="2110.4" r="4.9"/>
<circle cx="763.7" cy="2108.1" r="4.9"/>
<circle cx="765.7" cy="2104.3" r="4.9"/>
<circle cx="767.7" cy="2100.2" r="4.9"/>
<circle cx="769.6" cy="2098.3" r="4.9"/>
<circle cx="771.5" cy="2095.4" r="4.9"/>
<circle cx="773.4" cy="2100.2" r="4.9"/>
<circle cx="775.2" cy="2106.2" r="4.9"/>
<circle cx="777.0" cy="2096.1" r="4.9"/>
<circle cx="778.8" cy="2083.5" r="4.9"/>
<circle cx="780.6" cy="2073.7" r="4.9"/>
<circle cx="782.4" cy="2082.1" r="4.9"/>
<circle cx="784.1" cy="2088.1" r="4.9"/>
<circle cx="785.8" cy="2077.7" r="4.9"/>
<circle cx="787.5" cy="2070.5" r="4.9"/>
<circle cx="789.1" cy="2072.3" r="4.9"/>
<circle cx="790.8" cy="2070.5" r="4.9"/>
<circle cx="792.4" cy="2069.0" r="4.9"/>
<circle cx="794.0" cy="2066.8" r="4.9"/>
<circle cx="795.6" cy="2063.8" r="4.9"/>
<circle cx="797.2" cy="2067.4" r="4.9"/>
<circle cx="798.7" cy="2073.6" r="4.9"/>
<circle cx="800.3" cy="2081.2" r="4.9"/>
<circle cx="801.8" cy="2073.8" r="4.9"/>
<circle cx="803.3" cy="2063.7" r="4.9"/>
<circle cx="804.8" cy="2061.7" r="4.9"/>
<circle cx="806.2" cy="2062.6" r="4.9"/>
<circle cx="807.7" cy="2061.8" r="4.9"/>
<circle cx="809.1" cy="2058.4" r="4.9"/>
<circle cx="810.6" cy="2059.2" r="4.9"/>
<circle cx="812.0" cy="2063.8" r="4.9"/>
<circle cx="813.4" cy="2066.9" r="4.9"/>
<circle cx="814.7" cy="2067.4" r="4.9"/>
<circle cx="816.1" cy="2068.7" r="4.9"/>
<circle cx="817.5" cy="2062.9" r="4.9"/>
<circle cx="818.8" cy="2060.0" r="4.9"/>
<circle cx="820.1" cy="2057.8" r="4.9"/>
<circle cx="821.4" cy="2062.8" r="4.9"/>
<circle cx="822.7" cy="2067.7" r="4.9"/>
<circle cx="824.0" cy="2066.6" r="4.9"/>
<circle cx="825.3" cy="2065.0" r="4.9"/>
<circle cx="826.6" cy="2060.9" r="4.9"/>
<circle cx="827.8" cy="2057.2" r="4.9"/>
<circle cx="829.0" cy="2053.4" r="4.9"/>
<circle cx="830.3" cy="2048.3" r="4.9"/>
<circle cx="831.5" cy="2042.8" r="4.9"/>
<circle cx="832.7" cy="2045.8" r="4.9"/>
<circle cx="833.9" cy="2048.8" r="4.9"/>
<circle cx="835.1" cy="2048.4" r="4.9"/>
<circle cx="836.3" cy="2049.3" r="4.9"/>
<circle cx="837.4" cy="2051.4" r="4.9"/>
<circle cx="838.6" cy="2054.3" r="4.9"/>
<circle cx="839.7" cy="2054.1" r="4.9"/>
<circle cx="840.9" cy="2051.2" r="4.9"/>
<circle cx="842.0" cy="2051.5" r="4.9"/>
<circle cx="843.1" cy="2051.2" r="4.9"/>
<circle cx="844.2" cy="2050.0" r="4.9"/>
<circle cx="845.3" cy="2047.8" r="4.9"/>
<circle cx="846.4" cy="2042.7" r="4.9"/>
<circle cx="847.5" cy="2039.3" r="4.9"/>
<circle cx="848.6" cy="2036.7" r="4.9"/>
<circle cx="849.6" cy="2035.6" r="4.9"/>
<circle cx="850.7" cy="2033.9" r="4.9"/>
<circle cx="851.7" cy="2029.9" r="4.9"/>
<circle cx="852.8" cy="2029.1" r="4.9"/>
<circle cx="853.8" cy="2028.1" r="4.9"/>
<circle cx="854.8" cy="2028.0" r="4.9"/>
<circle cx="855.8" cy="2030.7" r="4.9"/>
<circle cx="856.9" cy="2030.2" r="4.9"/>
<circle cx="857.9" cy="2024.5" r="4.9"/>
<circle cx="858.9" cy="2025.5" r="4.9"/>
<circle cx="859.8" cy="2031.3" r="4.9"/>
<circle cx="860.8" cy="2033.2" r="4.9"/>
<circle cx="861.8" cy="2034.8" r="4.9"/>
<circle cx="862.8" cy="2037.4" r="4.9"/>
<circle cx="863.7" cy="2041.4" r="4.9"/>
<circle cx="864.7" cy="2042.2" r="4.9"/>
<circle cx="865.6" cy="2037.1" r="4.9"/>
<circle cx="866.6" cy="2031.5" r="4.9"/>
<circle cx="867.5" cy="2030.4" r="4.9"/>
<circle cx="868.4" cy="2029.6" r="4.9"/>
<circle cx="869.3" cy="2027.4" r="4.9"/>
<circle cx="870.3" cy="2027.9" r="4.9"/>
<circle cx="871.2" cy="2026.6" r="4.9"/>
<circle cx="872.1" cy="2022.5" r="4.9"/>
<circle cx="873.0" cy="2017.9" r="4.9"/>
<circle cx="873.9" cy="2012.3" r="4.9"/>
<circle cx="874.7" cy="2024.8" r="4.9"/>
<circle cx="875.6" cy="2039.2" r="4.9"/>
<circle cx="876.5" cy="2028.4" r="4.9"/>
<circle cx="877.4" cy="2018.2" r="4.9"/>
<circle cx="878.2" cy="2024.5" r="4.9"/>
<circle cx="879.1" cy="2028.9" r="4.9"/>
<circle cx="879.9" cy="2029.1" r="4.9"/>
</g><g>
<circle cx="190.7" cy="1928.0" r="4.9"/>
<circle cx="284.8" cy="2025.5" r="4.9"/>
<circle cx="339.9" cy="2116.5" r="4.9"/>
<circle cx="379.0" cy="2177.6" r="4.9"/>
<circle cx="409.3" cy="2158.7" r="4.9"/>
<circle cx="434.0" cy="2091.1" r="4.9"/>
<circle cx="455.0" cy="2061.2" r="4.9"/>
<circle cx="473.1" cy="2060.6" r="4.9"/>
<circle cx="489.1" cy="2060.6" r="4.9"/>
<circle cx="503.4" cy="2045.7" r="4.9"/>
<circle cx="516.3" cy="2027.5" r="4.9"/>
<circle cx="528.2" cy="2019.7" r="4.9"/>
<circle cx="539.0" cy="2017.1" r="4.9"/>
<circle cx="549.1" cy="2013.8" r="4.9"/>
<circle cx="558.5" cy="2013.2" r="4.9"/>
<circle cx="567.2" cy="2011.9" r="4.9"/>
<circle cx="575.5" cy="2014.5" r="4.9"/>
<circle cx="583.2" cy="2022.3" r="4.9"/>
<circle cx="590.6" cy="2030.1" r="4.9"/>
<circle cx="597.5" cy="2039.2" r="4.9"/>
<circle cx="604.2" cy="2048.9" r="4.9"/>
<circle cx="610.5" cy="2058.6" r="4.9"/>
<circle cx="616.5" cy="2056.0" r="4.9"/>
<circle cx="622.3" cy="2042.4" r="4.9"/>
<circle cx="627.8" cy="2038.5" r="4.9"/>
<circle cx="633.2" cy="2046.3" r="4.9"/>
<circle cx="638.3" cy="2043.7" r="4.9"/>
<circle cx="643.2" cy="2047.6" r="4.9"/>
<circle cx="648.0" cy="2048.9" r="4.9"/>
<circle cx="652.6" cy="2053.4" r="4.9"/>
<circle cx="657.0" cy="2051.1" r="4.9"/>
<circle cx="661.4" cy="2050.5" r="4.9"/>
<circle cx="665.5" cy="2048.3" r="4.9"/>
<circle cx="669.6" cy="2049.3" r="4.9"/>
<circle cx="673.5" cy="2047.6" r="4.9"/>
<circle cx="677.4" cy="2047.5" r="4.9"/>
<circle cx="681.1" cy="2051.2" r="4.9"/>
<circle cx="684.7" cy="2052.7" r="4.9"/>
<circle cx="688.2" cy="2053.4" r="4.9"/>
<circle cx="691.7" cy="2059.1" r="4.9"/>
<circle cx="695.0" cy="2049.0" r="4.9"/>
<circle cx="698.3" cy="2042.1" r="4.9"/>
<circle cx="701.5" cy="2047.9" r="4.9"/>
<circle cx="704.6" cy="2053.0" r="4.9"/>
<circle cx="707.7" cy="2051.1" r="4.9"/>
<circle cx="710.6" cy="2049.7" r="4.9"/>
<circle cx="713.6" cy="2050.1" r="4.9"/>
<circle cx="716.4" cy="2047.9" r="4.9"/>
<circle cx="719.2" cy="2046.5" r="4.9"/>
<circle cx="722.0" cy="2053.2" r="4.9"/>
<circle cx="724.7" cy="2055.6" r="4.9"/>
<circle cx="727.3" cy="2055.8" r="4.9"/>
<circle cx="729.9" cy="2052.3" r="4.9"/>
<circle cx="732.4" cy="2050.4" r="4.9"/>
<circle cx="734.9" cy="2056.0" r="4.9"/>
<circle cx="737.4" cy="2062.4" r="4.9"/>
<circle cx="739.8" cy="2067.4" r="4.9"/>
<circle cx="742.1" cy="2071.0" r="4.9"/>
<circle cx="744.4" cy="2061.7" r="4.9"/>
<circle cx="746.7" cy="2052.4" r="4.9"/>
<circle cx="749.0" cy="2053.0" r="4.9"/>
<circle cx="751.2" cy="2054.2" r="4.9"/>
<circle cx="753.4" cy="2061.1" r="4.9"/>
<circle cx="755.5" cy="2068.4" r="4.9"/>
<circle cx="757.6" cy="2073.7" r="4.9"/>
<circle cx="759.7" cy="2070.6" r="4.9"/>
<circle cx="761.7" cy="2068.5" r="4.9"/>
<circle cx="763.7" cy="2066.8" r="4.9"/>
<circle cx="765.7" cy="2063.1" r="4.9"/>
<circle cx="767.7" cy="2058.8" r="4.9"/>
<circle cx="769.6" cy="2057.4" r="4.9"/>
<circle cx="771.5" cy="2054.9" r="4.9"/>
<circle cx="773.4" cy="2059.2" r="4.9"/>
<circle cx="775.2" cy="2065.0" r="4.9"/>
<circle cx="777.0" cy="2055.8" r="4.9"/>
<circle cx="778.8" cy="2045.4" r="4.9"/>
<circle cx="780.6" cy="2037.0" r="4.9"/>
<circle cx="782.4" cy="2046.7" r="4.9"/>
<circle cx="784.1" cy="2054.5" r="4.9"/>
<circle cx="785.8" cy="2044.1" r="4.9"/>
<circle cx="787.5" cy="2036.3" r="4.9"/>
<circle cx="789.1" cy="2037.5" r="4.9"/>
<circle cx="790.8" cy="2034.9" r="4.9"/>
<circle cx="792.4" cy="2034.0" r="4.9"/>
<circle cx="794.0" cy="2031.7" r="4.9"/>
<circle cx="795.6" cy="2028.4" r="4.9"/>
<circle cx="797.2" cy="2033.4" r="4.9"/>
<circle cx="798.7" cy="2040.2" r="4.9"/>
<circle cx="800.3" cy="2048.3" r="4.9"/>
<circle cx="801.8" cy="2042.0" r="4.9"/>
<circle cx="803.3" cy="2033.8" r="4.9"/>
<circle cx="804.8" cy="2032.7" r="4.9"/>
<circle cx="806.2" cy="2032.2" r="4.9"/>
<circle cx="807.7" cy="2031.3" r="4.9"/>
<circle cx="809.1" cy="2030.6" r="4.9"/>
<circle cx="810.6" cy="2034.0" r="4.9"/>
<circle cx="812.0" cy="2039.6" r="4.9"/>
<circle cx="813.4" cy="2044.4" r="4.9"/>
<circle cx="814.7" cy="2045.9" r="4.9"/>
<circle cx="816.1" cy="2046.6" r="4.9"/>
<circle cx="817.5" cy="2041.0" r="4.9"/>
<circle cx="818.8" cy="2039.2" r="4.9"/>
<circle cx="820.1" cy="2038.0" r="4.9"/>
<circle cx="821.4" cy="2042.6" r="4.9"/>
<circle cx="822.7" cy="2047.1" r="4.9"/>
<circle cx="824.0" cy="2046.1" r="4.9"/>
<circle cx="825.3" cy="2044.5" r="4.9"/>
<circle cx="826.6" cy="2041.1" r="4.9"/>
<circle cx="827.8" cy="2037.6" r="4.9"/>
<circle cx="829.0" cy="2033.7" r="4.9"/>
<circle cx="830.3" cy="2029.4" r="4.9"/>
<circle cx="831.5" cy="2025.1" r="4.9"/>
<circle cx="832.7" cy="2028.8" r="4.9"/>
<circle cx="833.9" cy="2032.8" r="4.9"/>
<circle cx="835.1" cy="2033.3" r="4.9"/>
<circle cx="836.3" cy="2035.0" r="4.9"/>
<circle cx="837.4" cy="2039.5" r="4.9"/>
<circle cx="838.6" cy="2044.5" r="4.9"/>
<circle cx="839.7" cy="2045.3" r="4.9"/>
<circle cx="840.9" cy="2043.0" r="4.9"/>
<circle cx="842.0" cy="2044.6" r="4.9"/>
<circle cx="843.1" cy="2047.4" r="4.9"/>
<circle cx="844.2" cy="2047.8" r="4.9"/>
<circle cx="845.3" cy="2045.0" r="4.9"/>
<circle cx="846.4" cy="2040.4" r="4.9"/>
<circle cx="847.5" cy="2038.4" r="4.9"/>
<circle cx="848.6" cy="2037.4" r="4.9"/>
<circle cx="849.6" cy="2037.8" r="4.9"/>
<circle cx="850.7" cy="2035.5" r="4.9"/>
<circle cx="851.7" cy="2029.9" r="4.9"/>
<circle cx="852.8" cy="2029.9" r="4.9"/>
<circle cx="853.8" cy="2030.9" r="4.9"/>
<circle cx="854.8" cy="2031.9" r="4.9"/>
<circle cx="855.8" cy="2035.1" r="4.9"/>
<circle cx="856.9" cy="2035.7" r="4.9"/>
<circle cx="857.9" cy="2032.7" r="4.9"/>
<circle cx="858.9" cy="2034.0" r="4.9"/>
<circle cx="859.8" cy="2037.5" r="4.9"/>
<circle cx="860.8" cy="2040.5" r="4.9"/>
<circle cx="861.8" cy="2044.7" r="4.9"/>
<circle cx="862.8" cy="2047.9" r="4.9"/>
<circle cx="863.7" cy="2051.7" r="4.9"/>
<circle cx="864.7" cy="2052.2" r="4.9"/>
<circle cx="865.6" cy="2048.8" r="4.9"/>
<circle cx="866.6" cy="2046.1" r="4.9"/>
<circle cx="867.5" cy="2046.6" r="4.9"/>
<circle cx="868.4" cy="2045.3" r="4.9"/>
<circle cx="869.3" cy="2043.0" r="4.9"/>
<circle cx="870.3" cy="2044.8" r="4.9"/>
<circle cx="871.2" cy="2044.9" r="4.9"/>
<circle cx="872.1" cy="2042.1" r="4.9"/>
<circle cx="873.0" cy="2038.1" r="4.9"/>
<circle cx="873.9" cy="2033.0" r="4.9"/>
<circle cx="874.7" cy="2046.3" r="4.9"/>
<circle cx="875.6" cy="2061.8" r="4.9"/>
<circle cx="876.5" cy="2053.7" r="4.9"/>
<circle cx="877.4" cy="2044.8" r="4.9"/>
<circle cx="878.2" cy="2050.9" r="4.9"/>
<circle cx="879.1" cy="2056.2" r="4.9"/>
<circle cx="879.9" cy="2057.5" r="4.9"/>
</g></g>
<rect x="156.6" y="1852.0" width="757.0" height="389.9" fill="none" stroke="#000" stroke-width="2.2"/>
<line x1="147.6" y1="1852.0" x2="156.6" y2="1852.0" stroke="#000" stroke-width="2"/>
<text x="138.3" y="1864.9" font-size="32.8" text-anchor="end">0.03</text>
<line x1="147.6" y1="1917.0" x2="156.6" y2="1917.0" stroke="#000" stroke-width="2"/>
<text x="138.3" y="1929.9" font-size="32.8" text-anchor="end">0.02</text>
<line x1="147.6" y1="1982.0" x2="156.6" y2="1982.0" stroke="#000" stroke-width="2"/>
<text x="138.3" y="1994.9" font-size="32.8" text-anchor="end">0.01</text>
<line x1="147.6" y1="2047.0" x2="156.6" y2="2047.0" stroke="#000" stroke-width="2"/>
<text x="138.3" y="2059.8" font-size="32.8" text-anchor="end">0.00</text>
<line x1="147.6" y1="2111.9" x2="156.6" y2="2111.9" stroke="#000" stroke-width="2"/>
<text x="138.3" y="2124.8" font-size="32.8" text-anchor="end">−0.01</text>
<line x1="147.6" y1="2176.9" x2="156.6" y2="2176.9" stroke="#000" stroke-width="2"/>
<text x="138.3" y="2189.8" font-size="32.8" text-anchor="end">−0.02</text>
<line x1="147.6" y1="2241.9" x2="156.6" y2="2241.9" stroke="#000" stroke-width="2"/>
<text x="138.3" y="2254.8" font-size="32.8" text-anchor="end">−0.03</text>
<line x1="160.4" y1="2241.9" x2="160.4" y2="2246.7" stroke="#000" stroke-width="1.6"/>
<line x1="176.4" y1="2241.9" x2="176.4" y2="2246.7" stroke="#000" stroke-width="1.6"/>
<line x1="190.7" y1="2241.9" x2="190.7" y2="2250.9" stroke="#000" stroke-width="2"/>
<text x="161.9" y="2286.2" font-size="32.8">10</text>
<text x="203.8" y="2273.3" font-size="23.2">0</text>
<line x1="284.8" y1="2241.9" x2="284.8" y2="2246.7" stroke="#000" stroke-width="1.6"/>
<line x1="339.9" y1="2241.9" x2="339.9" y2="2246.7" stroke="#000" stroke-width="1.6"/>
<line x1="379.0" y1="2241.9" x2="379.0" y2="2246.7" stroke="#000" stroke-width="1.6"/>
<line x1="409.3" y1="2241.9" x2="409.3" y2="2246.7" stroke="#000" stroke-width="1.6"/>
<line x1="434.0" y1="2241.9" x2="434.0" y2="2246.7" stroke="#000" stroke-width="1.6"/>
<line x1="455.0" y1="2241.9" x2="455.0" y2="2246.7" stroke="#000" stroke-width="1.6"/>
<line x1="473.1" y1="2241.9" x2="473.1" y2="2246.7" stroke="#000" stroke-width="1.6"/>
<line x1="489.1" y1="2241.9" x2="489.1" y2="2246.7" stroke="#000" stroke-width="1.6"/>
<line x1="503.4" y1="2241.9" x2="503.4" y2="2250.9" stroke="#000" stroke-width="2"/>
<text x="474.6" y="2286.2" font-size="32.8">10</text>
<text x="516.5" y="2273.3" font-size="23.2">1</text>
<line x1="597.5" y1="2241.9" x2="597.5" y2="2246.7" stroke="#000" stroke-width="1.6"/>
<line x1="652.6" y1="2241.9" x2="652.6" y2="2246.7" stroke="#000" stroke-width="1.6"/>
<line x1="691.7" y1="2241.9" x2="691.7" y2="2246.7" stroke="#000" stroke-width="1.6"/>
<line x1="722.0" y1="2241.9" x2="722.0" y2="2246.7" stroke="#000" stroke-width="1.6"/>
<line x1="746.7" y1="2241.9" x2="746.7" y2="2246.7" stroke="#000" stroke-width="1.6"/>
<line x1="767.7" y1="2241.9" x2="767.7" y2="2246.7" stroke="#000" stroke-width="1.6"/>
<line x1="785.8" y1="2241.9" x2="785.8" y2="2246.7" stroke="#000" stroke-width="1.6"/>
<line x1="801.8" y1="2241.9" x2="801.8" y2="2246.7" stroke="#000" stroke-width="1.6"/>
<line x1="816.1" y1="2241.9" x2="816.1" y2="2250.9" stroke="#000" stroke-width="2"/>
<text x="787.3" y="2286.2" font-size="32.8">10</text>
<text x="829.2" y="2273.3" font-size="23.2">2</text>
<line x1="910.2" y1="2241.9" x2="910.2" y2="2246.7" stroke="#000" stroke-width="1.6"/>
<text x="534.9" y="2336.2" font-size="43.25" text-anchor="middle">Radius [pixel]</text>
<text transform="translate(33.6,2046.5) rotate(-90)" font-size="43.25" text-anchor="middle">Residual</text>
<rect x="555.7" y="2133.4" width="346.1" height="96.8" fill="#fff"/>
<circle cx="593.0" cy="2158.8" r="4.9"/>
<circle cx="593.0" cy="2202.5" r="4.9" fill="#ff0000" fill-opacity="0.8"/>
<text x="628.3" y="2166.1" font-size="25.45">double-Sérsic model</text>
<text x="628.3" y="2209.4" font-size="25.45">single-Sérsic model</text>
<clipPath id="b986"><rect x="1143.1" y="1852.0" width="757.0" height="389.9"/></clipPath>
<g stroke="#ababab" stroke-width="2" stroke-dasharray="7.4 3.2" fill="none">
<line x1="1146.9" y1="2241.9" x2="1146.9" y2="1852.0"/>
<line x1="1162.9" y1="2241.9" x2="1162.9" y2="1852.0"/>
<line x1="1177.2" y1="2241.9" x2="1177.2" y2="1852.0"/>
<line x1="1271.3" y1="2241.9" x2="1271.3" y2="1852.0"/>
<line x1="1326.4" y1="2241.9" x2="1326.4" y2="1852.0"/>
<line x1="1365.5" y1="2241.9" x2="1365.5" y2="1852.0"/>
<line x1="1395.8" y1="2241.9" x2="1395.8" y2="1852.0"/>
<line x1="1420.5" y1="2241.9" x2="1420.5" y2="1852.0"/>
<line x1="1441.5" y1="2241.9" x2="1441.5" y2="1852.0"/>
<line x1="1459.6" y1="2241.9" x2="1459.6" y2="1852.0"/>
<line x1="1475.6" y1="2241.9" x2="1475.6" y2="1852.0"/>
<line x1="1489.9" y1="2241.9" x2="1489.9" y2="1852.0"/>
<line x1="1584.0" y1="2241.9" x2="1584.0" y2="1852.0"/>
<line x1="1639.1" y1="2241.9" x2="1639.1" y2="1852.0"/>
<line x1="1678.2" y1="2241.9" x2="1678.2" y2="1852.0"/>
<line x1="1708.5" y1="2241.9" x2="1708.5" y2="1852.0"/>
<line x1="1733.2" y1="2241.9" x2="1733.2" y2="1852.0"/>
<line x1="1754.2" y1="2241.9" x2="1754.2" y2="1852.0"/>
<line x1="1772.3" y1="2241.9" x2="1772.3" y2="1852.0"/>
<line x1="1788.3" y1="2241.9" x2="1788.3" y2="1852.0"/>
<line x1="1802.6" y1="2241.9" x2="1802.6" y2="1852.0"/>
<line x1="1896.7" y1="2241.9" x2="1896.7" y2="1852.0"/>
<line x1="1143.1" y1="2176.9" x2="1900.1" y2="2176.9"/>
<line x1="1143.1" y1="2111.9" x2="1900.1" y2="2111.9"/>
<line x1="1143.1" y1="2047.0" x2="1900.1" y2="2047.0"/>
<line x1="1143.1" y1="1982.0" x2="1900.1" y2="1982.0"/>
<line x1="1143.1" y1="1917.0" x2="1900.1" y2="1917.0"/>
</g>
<g clip-path="url(#b986)">
<g fill="#ff0000" fill-opacity="0.8">
<circle cx="1177.2" cy="1993.7" r="4.9"/>
<circle cx="1271.3" cy="2004.7" r="4.9"/>
<circle cx="1326.4" cy="2067.7" r="4.9"/>
<circle cx="1365.5" cy="2076.8" r="4.9"/>
<circle cx="1395.8" cy="2067.7" r="4.9"/>
<circle cx="1420.5" cy="2089.8" r="4.9"/>
<circle cx="1441.5" cy="2087.9" r="4.9"/>
<circle cx="1459.6" cy="2059.9" r="4.9"/>
<circle cx="1475.6" cy="2042.4" r="4.9"/>
<circle cx="1489.9" cy="2035.9" r="4.9"/>
<circle cx="1502.8" cy="2033.3" r="4.9"/>
<circle cx="1514.7" cy="2038.5" r="4.9"/>
<circle cx="1525.5" cy="2045.0" r="4.9"/>
<circle cx="1535.6" cy="2048.2" r="4.9"/>
<circle cx="1545.0" cy="2047.0" r="4.9"/>
<circle cx="1553.7" cy="2046.3" r="4.9"/>
<circle cx="1562.0" cy="2046.5" r="4.9"/>
<circle cx="1569.7" cy="2046.5" r="4.9"/>
<circle cx="1577.1" cy="2050.3" r="4.9"/>
<circle cx="1584.0" cy="2051.9" r="4.9"/>
<circle cx="1590.7" cy="2050.9" r="4.9"/>
<circle cx="1597.0" cy="2052.4" r="4.9"/>
<circle cx="1603.0" cy="2051.6" r="4.9"/>
<circle cx="1608.8" cy="2049.0" r="4.9"/>
<circle cx="1614.3" cy="2050.3" r="4.9"/>
<circle cx="1619.7" cy="2052.6" r="4.9"/>
<circle cx="1624.8" cy="2054.0" r="4.9"/>
<circle cx="1629.7" cy="2053.6" r="4.9"/>
<circle cx="1634.5" cy="2051.5" r="4.9"/>
<circle cx="1639.1" cy="2052.2" r="4.9"/>
<circle cx="1643.5" cy="2053.5" r="4.9"/>
<circle cx="1647.9" cy="2053.4" r="4.9"/>
<circle cx="1652.0" cy="2054.1" r="4.9"/>
<circle cx="1656.1" cy="2054.1" r="4.9"/>
<circle cx="1660.0" cy="2053.6" r="4.9"/>
<circle cx="1663.9" cy="2053.9" r="4.9"/>
<circle cx="1667.6" cy="2053.0" r="4.9"/>
<circle cx="1671.2" cy="2050.1" r="4.9"/>
<circle cx="1674.7" cy="2048.9" r="4.9"/>
<circle cx="1678.2" cy="2049.9" r="4.9"/>
<circle cx="1681.5" cy="2049.4" r="4.9"/>
<circle cx="1684.8" cy="2048.2" r="4.9"/>
<circle cx="1688.0" cy="2048.5" r="4.9"/>
<circle cx="1691.1" cy="2049.8" r="4.9"/>
<circle cx="1694.2" cy="2049.5" r="4.9"/>
<circle cx="1697.1" cy="2047.7" r="4.9"/>
<circle cx="1700.1" cy="2043.3" r="4.9"/>
<circle cx="1702.9" cy="2040.7" r="4.9"/>
<circle cx="1705.7" cy="2041.3" r="4.9"/>
<circle cx="1708.5" cy="2040.8" r="4.9"/>
<circle cx="1711.2" cy="2038.5" r="4.9"/>
<circle cx="1713.8" cy="2038.7" r="4.9"/>
<circle cx="1716.4" cy="2040.2" r="4.9"/>
<circle cx="1718.9" cy="2040.5" r="4.9"/>
<circle cx="1721.4" cy="2040.9" r="4.9"/>
<circle cx="1723.9" cy="2041.9" r="4.9"/>
<circle cx="1726.3" cy="2042.1" r="4.9"/>
<circle cx="1728.6" cy="2041.9" r="4.9"/>
<circle cx="1730.9" cy="2042.2" r="4.9"/>
<circle cx="1733.2" cy="2042.5" r="4.9"/>
<circle cx="1735.5" cy="2044.7" r="4.9"/>
<circle cx="1737.7" cy="2046.3" r="4.9"/>
<circle cx="1739.9" cy="2044.5" r="4.9"/>
<circle cx="1742.0" cy="2044.0" r="4.9"/>
<circle cx="1744.1" cy="2046.2" r="4.9"/>
<circle cx="1746.2" cy="2047.6" r="4.9"/>
<circle cx="1748.2" cy="2048.1" r="4.9"/>
<circle cx="1750.2" cy="2047.9" r="4.9"/>
<circle cx="1752.2" cy="2047.6" r="4.9"/>
<circle cx="1754.2" cy="2046.7" r="4.9"/>
<circle cx="1756.1" cy="2045.3" r="4.9"/>
<circle cx="1758.0" cy="2045.9" r="4.9"/>
<circle cx="1759.9" cy="2045.9" r="4.9"/>
<circle cx="1761.7" cy="2044.4" r="4.9"/>
<circle cx="1763.5" cy="2044.5" r="4.9"/>
<circle cx="1765.3" cy="2045.3" r="4.9"/>
<circle cx="1767.1" cy="2045.7" r="4.9"/>
<circle cx="1768.9" cy="2046.5" r="4.9"/>
<circle cx="1770.6" cy="2048.1" r="4.9"/>
<circle cx="1772.3" cy="2047.9" r="4.9"/>
<circle cx="1774.0" cy="2045.6" r="4.9"/>
<circle cx="1775.6" cy="2044.7" r="4.9"/>
<circle cx="1777.3" cy="2046.3" r="4.9"/>
<circle cx="1778.9" cy="2047.1" r="4.9"/>
<circle cx="1780.5" cy="2046.0" r="4.9"/>
<circle cx="1782.1" cy="2045.7" r="4.9"/>
<circle cx="1783.7" cy="2045.0" r="4.9"/>
<circle cx="1785.2" cy="2042.7" r="4.9"/>
<circle cx="1786.8" cy="2042.0" r="4.9"/>
<circle cx="1788.3" cy="2043.2" r="4.9"/>
<circle cx="1789.8" cy="2044.1" r="4.9"/>
<circle cx="1791.3" cy="2044.2" r="4.9"/>
<circle cx="1792.7" cy="2044.7" r="4.9"/>
<circle cx="1794.2" cy="2045.6" r="4.9"/>
<circle cx="1795.6" cy="2046.7" r="4.9"/>
<circle cx="1797.1" cy="2045.1" r="4.9"/>
<circle cx="1798.5" cy="2042.3" r="4.9"/>
<circle cx="1799.9" cy="2042.7" r="4.9"/>
<circle cx="1801.2" cy="2045.6" r="4.9"/>
<circle cx="1802.6" cy="2047.2" r="4.9"/>
<circle cx="1804.0" cy="2047.0" r="4.9"/>
<circle cx="1805.3" cy="2045.1" r="4.9"/>
<circle cx="1806.6" cy="2044.4" r="4.9"/>
<circle cx="1807.9" cy="2045.0" r="4.9"/>
<circle cx="1809.2" cy="2044.6" r="4.9"/>
<circle cx="1810.5" cy="2044.0" r="4.9"/>
<circle cx="1811.8" cy="2043.1" r="4.9"/>
<circle cx="1813.1" cy="2041.6" r="4.9"/>
<circle cx="1814.3" cy="2041.3" r="4.9"/>
<circle cx="1815.5" cy="2043.3" r="4.9"/>
<circle cx="1816.8" cy="2044.4" r="4.9"/>
<circle cx="1818.0" cy="2043.1" r="4.9"/>
<circle cx="1819.2" cy="2042.4" r="4.9"/>
<circle cx="1820.4" cy="2043.7" r="4.9"/>
<circle cx="1821.6" cy="2045.8" r="4.9"/>
<circle cx="1822.8" cy="2045.4" r="4.9"/>
<circle cx="1823.9" cy="2044.3" r="4.9"/>
<circle cx="1825.1" cy="2044.4" r="4.9"/>
<circle cx="1826.2" cy="2043.3" r="4.9"/>
<circle cx="1827.4" cy="2042.6" r="4.9"/>
<circle cx="1828.5" cy="2044.6" r="4.9"/>
<circle cx="1829.6" cy="2046.2" r="4.9"/>
<circle cx="1830.7" cy="2045.3" r="4.9"/>
<circle cx="1831.8" cy="2045.2" r="4.9"/>
<circle cx="1832.9" cy="2044.4" r="4.9"/>
<circle cx="1834.0" cy="2043.4" r="4.9"/>
<circle cx="1835.1" cy="2042.5" r="4.9"/>
<circle cx="1836.1" cy="2042.1" r="4.9"/>
<circle cx="1837.2" cy="2042.2" r="4.9"/>
<circle cx="1838.2" cy="2043.0" r="4.9"/>
<circle cx="1839.3" cy="2044.3" r="4.9"/>
<circle cx="1840.3" cy="2044.9" r="4.9"/>
<circle cx="1841.3" cy="2044.7" r="4.9"/>
<circle cx="1842.3" cy="2045.0" r="4.9"/>
<circle cx="1843.4" cy="2046.8" r="4.9"/>
<circle cx="1844.4" cy="2047.4" r="4.9"/>
<circle cx="1845.4" cy="2046.6" r="4.9"/>
<circle cx="1846.3" cy="2047.5" r="4.9"/>
<circle cx="1847.3" cy="2047.4" r="4.9"/>
<circle cx="1848.3" cy="2045.9" r="4.9"/>
<circle cx="1849.3" cy="2045.2" r="4.9"/>
<circle cx="1850.2" cy="2044.7" r="4.9"/>
<circle cx="1851.2" cy="2045.9" r="4.9"/>
<circle cx="1852.1" cy="2047.9" r="4.9"/>
<circle cx="1853.1" cy="2047.6" r="4.9"/>
<circle cx="1854.0" cy="2046.5" r="4.9"/>
<circle cx="1854.9" cy="2046.6" r="4.9"/>
<circle cx="1855.8" cy="2047.1" r="4.9"/>
<circle cx="1856.8" cy="2047.5" r="4.9"/>
<circle cx="1857.7" cy="2047.2" r="4.9"/>
<circle cx="1858.6" cy="2047.4" r="4.9"/>
<circle cx="1859.5" cy="2047.8" r="4.9"/>
<circle cx="1860.4" cy="2046.2" r="4.9"/>
<circle cx="1861.2" cy="2044.4" r="4.9"/>
<circle cx="1862.1" cy="2043.6" r="4.9"/>
<circle cx="1863.0" cy="2045.2" r="4.9"/>
<circle cx="1863.9" cy="2047.8" r="4.9"/>
<circle cx="1864.7" cy="2046.9" r="4.9"/>
<circle cx="1865.6" cy="2044.6" r="4.9"/>
<circle cx="1866.4" cy="2044.7" r="4.9"/>
</g><g>
<circle cx="1177.2" cy="1998.2" r="4.9"/>
<circle cx="1271.3" cy="2008.0" r="4.9"/>
<circle cx="1326.4" cy="2067.7" r="4.9"/>
<circle cx="1365.5" cy="2073.6" r="4.9"/>
<circle cx="1395.8" cy="2063.8" r="4.9"/>
<circle cx="1420.5" cy="2084.0" r="4.9"/>
<circle cx="1441.5" cy="2080.7" r="4.9"/>
<circle cx="1459.6" cy="2054.1" r="4.9"/>
<circle cx="1475.6" cy="2038.5" r="4.9"/>
<circle cx="1489.9" cy="2033.3" r="4.9"/>
<circle cx="1502.8" cy="2031.4" r="4.9"/>
<circle cx="1514.7" cy="2037.9" r="4.9"/>
<circle cx="1525.5" cy="2045.0" r="4.9"/>
<circle cx="1535.6" cy="2049.5" r="4.9"/>
<circle cx="1545.0" cy="2051.5" r="4.9"/>
<circle cx="1553.7" cy="2049.5" r="4.9"/>
<circle cx="1562.0" cy="2049.5" r="4.9"/>
<circle cx="1569.7" cy="2048.6" r="4.9"/>
<circle cx="1577.1" cy="2051.3" r="4.9"/>
<circle cx="1584.0" cy="2054.4" r="4.9"/>
<circle cx="1590.7" cy="2053.5" r="4.9"/>
<circle cx="1597.0" cy="2053.0" r="4.9"/>
<circle cx="1603.0" cy="2051.4" r="4.9"/>
<circle cx="1608.8" cy="2049.4" r="4.9"/>
<circle cx="1614.3" cy="2051.6" r="4.9"/>
<circle cx="1619.7" cy="2054.1" r="4.9"/>
<circle cx="1624.8" cy="2054.5" r="4.9"/>
<circle cx="1629.7" cy="2054.2" r="4.9"/>
<circle cx="1634.5" cy="2053.2" r="4.9"/>
<circle cx="1639.1" cy="2053.7" r="4.9"/>
<circle cx="1643.5" cy="2053.4" r="4.9"/>
<circle cx="1647.9" cy="2052.1" r="4.9"/>
<circle cx="1652.0" cy="2052.3" r="4.9"/>
<circle cx="1656.1" cy="2052.6" r="4.9"/>
<circle cx="1660.0" cy="2053.8" r="4.9"/>
<circle cx="1663.9" cy="2054.0" r="4.9"/>
<circle cx="1667.6" cy="2051.6" r="4.9"/>
<circle cx="1671.2" cy="2048.0" r="4.9"/>
<circle cx="1674.7" cy="2046.3" r="4.9"/>
<circle cx="1678.2" cy="2047.1" r="4.9"/>
<circle cx="1681.5" cy="2047.4" r="4.9"/>
<circle cx="1684.8" cy="2046.5" r="4.9"/>
<circle cx="1688.0" cy="2045.3" r="4.9"/>
<circle cx="1691.1" cy="2046.0" r="4.9"/>
<circle cx="1694.2" cy="2047.6" r="4.9"/>
<circle cx="1697.1" cy="2046.6" r="4.9"/>
<circle cx="1700.1" cy="2041.0" r="4.9"/>
<circle cx="1702.9" cy="2036.1" r="4.9"/>
<circle cx="1705.7" cy="2036.4" r="4.9"/>
<circle cx="1708.5" cy="2036.8" r="4.9"/>
<circle cx="1711.2" cy="2034.9" r="4.9"/>
<circle cx="1713.8" cy="2034.3" r="4.9"/>
<circle cx="1716.4" cy="2034.8" r="4.9"/>
<circle cx="1718.9" cy="2035.5" r="4.9"/>
<circle cx="1721.4" cy="2036.4" r="4.9"/>
<circle cx="1723.9" cy="2037.6" r="4.9"/>
<circle cx="1726.3" cy="2038.6" r="4.9"/>
<circle cx="1728.6" cy="2038.6" r="4.9"/>
<circle cx="1730.9" cy="2038.3" r="4.9"/>
<circle cx="1733.2" cy="2038.9" r="4.9"/>
<circle cx="1735.5" cy="2041.5" r="4.9"/>
<circle cx="1737.7" cy="2043.3" r="4.9"/>
<circle cx="1739.9" cy="2042.0" r="4.9"/>
<circle cx="1742.0" cy="2041.3" r="4.9"/>
<circle cx="1744.1" cy="2042.8" r="4.9"/>
<circle cx="1746.2" cy="2044.8" r="4.9"/>
<circle cx="1748.2" cy="2045.7" r="4.9"/>
<circle cx="1750.2" cy="2045.2" r="4.9"/>
<circle cx="1752.2" cy="2044.9" r="4.9"/>
<circle cx="1754.2" cy="2044.4" r="4.9"/>
<circle cx="1756.1" cy="2044.0" r="4.9"/>
<circle cx="1758.0" cy="2044.7" r="4.9"/>
<circle cx="1759.9" cy="2043.6" r="4.9"/>
<circle cx="1761.7" cy="2041.9" r="4.9"/>
<circle cx="1763.5" cy="2042.7" r="4.9"/>
<circle cx="1765.3" cy="2045.3" r="4.9"/>
<circle cx="1767.1" cy="2046.7" r="4.9"/>
<circle cx="1768.9" cy="2047.4" r="4.9"/>
<circle cx="1770.6" cy="2048.7" r="4.9"/>
<circle cx="1772.3" cy="2049.8" r="4.9"/>
<circle cx="1774.0" cy="2049.1" r="4.9"/>
<circle cx="1775.6" cy="2048.7" r="4.9"/>
<circle cx="1777.3" cy="2050.3" r="4.9"/>
<circle cx="1778.9" cy="2051.2" r="4.9"/>
<circle cx="1780.5" cy="2051.5" r="4.9"/>
<circle cx="1782.1" cy="2052.5" r="4.9"/>
<circle cx="1783.7" cy="2051.5" r="4.9"/>
<circle cx="1785.2" cy="2049.0" r="4.9"/>
<circle cx="1786.8" cy="2049.2" r="4.9"/>
<circle cx="1788.3" cy="2051.2" r="4.9"/>
<circle cx="1789.8" cy="2052.2" r="4.9"/>
<circle cx="1791.3" cy="2052.4" r="4.9"/>
<circle cx="1792.7" cy="2052.4" r="4.9"/>
<circle cx="1794.2" cy="2052.9" r="4.9"/>
<circle cx="1795.6" cy="2052.8" r="4.9"/>
<circle cx="1797.1" cy="2051.2" r="4.9"/>
<circle cx="1798.5" cy="2050.0" r="4.9"/>
<circle cx="1799.9" cy="2050.8" r="4.9"/>
<circle cx="1801.2" cy="2052.6" r="4.9"/>
<circle cx="1802.6" cy="2053.7" r="4.9"/>
<circle cx="1804.0" cy="2054.2" r="4.9"/>
<circle cx="1805.3" cy="2053.3" r="4.9"/>
<circle cx="1806.6" cy="2053.4" r="4.9"/>
<circle cx="1807.9" cy="2055.1" r="4.9"/>
<circle cx="1809.2" cy="2055.1" r="4.9"/>
<circle cx="1810.5" cy="2053.6" r="4.9"/>
<circle cx="1811.8" cy="2051.4" r="4.9"/>
<circle cx="1813.1" cy="2050.3" r="4.9"/>
<circle cx="1814.3" cy="2051.6" r="4.9"/>
<circle cx="1815.5" cy="2053.4" r="4.9"/>
<circle cx="1816.8" cy="2053.0" r="4.9"/>
<circle cx="1818.0" cy="2052.0" r="4.9"/>
<circle cx="1819.2" cy="2051.8" r="4.9"/>
<circle cx="1820.4" cy="2053.3" r="4.9"/>
<circle cx="1821.6" cy="2054.2" r="4.9"/>
<circle cx="1822.8" cy="2052.6" r="4.9"/>
<circle cx="1823.9" cy="2052.3" r="4.9"/>
<circle cx="1825.1" cy="2053.3" r="4.9"/>
<circle cx="1826.2" cy="2051.7" r="4.9"/>
<circle cx="1827.4" cy="2049.6" r="4.9"/>
<circle cx="1828.5" cy="2050.9" r="4.9"/>
<circle cx="1829.6" cy="2051.5" r="4.9"/>
<circle cx="1830.7" cy="2049.8" r="4.9"/>
<circle cx="1831.8" cy="2049.7" r="4.9"/>
<circle cx="1832.9" cy="2049.5" r="4.9"/>
<circle cx="1834.0" cy="2047.6" r="4.9"/>
<circle cx="1835.1" cy="2046.7" r="4.9"/>
<circle cx="1836.1" cy="2047.2" r="4.9"/>
<circle cx="1837.2" cy="2047.8" r="4.9"/>
<circle cx="1838.2" cy="2048.6" r="4.9"/>
<circle cx="1839.3" cy="2049.2" r="4.9"/>
<circle cx="1840.3" cy="2049.2" r="4.9"/>
<circle cx="1841.3" cy="2048.8" r="4.9"/>
<circle cx="1842.3" cy="2048.9" r="4.9"/>
<circle cx="1843.4" cy="2050.5" r="4.9"/>
<circle cx="1844.4" cy="2050.3" r="4.9"/>
<circle cx="1845.4" cy="2049.1" r="4.9"/>
<circle cx="1846.3" cy="2050.1" r="4.9"/>
<circle cx="1847.3" cy="2050.0" r="4.9"/>
<circle cx="1848.3" cy="2048.1" r="4.9"/>
<circle cx="1849.3" cy="2047.9" r="4.9"/>
<circle cx="1850.2" cy="2047.9" r="4.9"/>
<circle cx="1851.2" cy="2048.4" r="4.9"/>
<circle cx="1852.1" cy="2050.2" r="4.9"/>
<circle cx="1853.1" cy="2051.2" r="4.9"/>
<circle cx="1854.0" cy="2050.5" r="4.9"/>
<circle cx="1854.9" cy="2049.9" r="4.9"/>
<circle cx="1855.8" cy="2050.1" r="4.9"/>
<circle cx="1856.8" cy="2050.3" r="4.9"/>
<circle cx="1857.7" cy="2050.1" r="4.9"/>
<circle cx="1858.6" cy="2049.7" r="4.9"/>
<circle cx="1859.5" cy="2049.4" r="4.9"/>
<circle cx="1860.4" cy="2048.1" r="4.9"/>
<circle cx="1861.2" cy="2045.9" r="4.9"/>
<circle cx="1862.1" cy="2044.2" r="4.9"/>
<circle cx="1863.0" cy="2044.2" r="4.9"/>
<circle cx="1863.9" cy="2045.1" r="4.9"/>
<circle cx="1864.7" cy="2043.4" r="4.9"/>
<circle cx="1865.6" cy="2040.9" r="4.9"/>
<circle cx="1866.4" cy="2040.3" r="4.9"/>
</g></g>
<rect x="1143.1" y="1852.0" width="757.0" height="389.9" fill="none" stroke="#000" stroke-width="2.2"/>
<line x1="1134.1" y1="1852.0" x2="1143.1" y2="1852.0" stroke="#000" stroke-width="2"/>
<text x="1124.8" y="1864.9" font-size="32.8" text-anchor="end">0.03</text>
<line x1="1134.1" y1="1917.0" x2="1143.1" y2="1917.0" stroke="#000" stroke-width="2"/>
<text x="1124.8" y="1929.9" font-size="32.8" text-anchor="end">0.02</text>
<line x1="1134.1" y1="1982.0" x2="1143.1" y2="1982.0" stroke="#000" stroke-width="2"/>
<text x="1124.8" y="1994.9" font-size="32.8" text-anchor="end">0.01</text>
<line x1="1134.1" y1="2047.0" x2="1143.1" y2="2047.0" stroke="#000" stroke-width="2"/>
<text x="1124.8" y="2059.8" font-size="32.8" text-anchor="end">0.00</text>
<line x1="1134.1" y1="2111.9" x2="1143.1" y2="2111.9" stroke="#000" stroke-width="2"/>
<text x="1124.8" y="2124.8" font-size="32.8" text-anchor="end">−0.01</text>
<line x1="1134.1" y1="2176.9" x2="1143.1" y2="2176.9" stroke="#000" stroke-width="2"/>
<text x="1124.8" y="2189.8" font-size="32.8" text-anchor="end">−0.02</text>
<line x1="1134.1" y1="2241.9" x2="1143.1" y2="2241.9" stroke="#000" stroke-width="2"/>
<text x="1124.8" y="2254.8" font-size="32.8" text-anchor="end">−0.03</text>
<line x1="1146.9" y1="2241.9" x2="1146.9" y2="2246.7" stroke="#000" stroke-width="1.6"/>
<line x1="1162.9" y1="2241.9" x2="1162.9" y2="2246.7" stroke="#000" stroke-width="1.6"/>
<line x1="1177.2" y1="2241.9" x2="1177.2" y2="2250.9" stroke="#000" stroke-width="2"/>
<text x="1148.4" y="2286.2" font-size="32.8">10</text>
<text x="1190.3" y="2273.3" font-size="23.2">0</text>
<line x1="1271.3" y1="2241.9" x2="1271.3" y2="2246.7" stroke="#000" stroke-width="1.6"/>
<line x1="1326.4" y1="2241.9" x2="1326.4" y2="2246.7" stroke="#000" stroke-width="1.6"/>
<line x1="1365.5" y1="2241.9" x2="1365.5" y2="2246.7" stroke="#000" stroke-width="1.6"/>
<line x1="1395.8" y1="2241.9" x2="1395.8" y2="2246.7" stroke="#000" stroke-width="1.6"/>
<line x1="1420.5" y1="2241.9" x2="1420.5" y2="2246.7" stroke="#000" stroke-width="1.6"/>
<line x1="1441.5" y1="2241.9" x2="1441.5" y2="2246.7" stroke="#000" stroke-width="1.6"/>
<line x1="1459.6" y1="2241.9" x2="1459.6" y2="2246.7" stroke="#000" stroke-width="1.6"/>
<line x1="1475.6" y1="2241.9" x2="1475.6" y2="2246.7" stroke="#000" stroke-width="1.6"/>
<line x1="1489.9" y1="2241.9" x2="1489.9" y2="2250.9" stroke="#000" stroke-width="2"/>
<text x="1461.1" y="2286.2" font-size="32.8">10</text>
<text x="1503.0" y="2273.3" font-size="23.2">1</text>
<line x1="1584.0" y1="2241.9" x2="1584.0" y2="2246.7" stroke="#000" stroke-width="1.6"/>
<line x1="1639.1" y1="2241.9" x2="1639.1" y2="2246.7" stroke="#000" stroke-width="1.6"/>
<line x1="1678.2" y1="2241.9" x2="1678.2" y2="2246.7" stroke="#000" stroke-width="1.6"/>
<line x1="1708.5" y1="2241.9" x2="1708.5" y2="2246.7" stroke="#000" stroke-width="1.6"/>
<line x1="1733.2" y1="2241.9" x2="1733.2" y2="2246.7" stroke="#000" stroke-width="1.6"/>
<line x1="1754.2" y1="2241.9" x2="1754.2" y2="2246.7" stroke="#000" stroke-width="1.6"/>
<line x1="1772.3" y1="2241.9" x2="1772.3" y2="2246.7" stroke="#000" stroke-width="1.6"/>
<line x1="1788.3" y1="2241.9" x2="1788.3" y2="2246.7" stroke="#000" stroke-width="1.6"/>
<line x1="1802.6" y1="2241.9" x2="1802.6" y2="2250.9" stroke="#000" stroke-width="2"/>
<text x="1773.8" y="2286.2" font-size="32.8">10</text>
<text x="1815.7" y="2273.3" font-size="23.2">2</text>
<line x1="1896.7" y1="2241.9" x2="1896.7" y2="2246.7" stroke="#000" stroke-width="1.6"/>
<text x="1521.4" y="2336.2" font-size="43.25" text-anchor="middle">Radius [pixel]</text>
<text transform="translate(1020.1,2046.5) rotate(-90)" font-size="43.25" text-anchor="middle">Residual</text>
<rect x="1542.2" y="2133.4" width="346.1" height="96.8" fill="#fff"/>
<circle cx="1579.5" cy="2158.8" r="4.9"/>
<circle cx="1579.5" cy="2202.5" r="4.9" fill="#ff0000" fill-opacity="0.8"/>
<text x="1614.8" y="2166.1" font-size="25.45">double-Sérsic model</text>
<text x="1614.8" y="2209.4" font-size="25.45">single-Sérsic model</text>
</svg></body></html>
